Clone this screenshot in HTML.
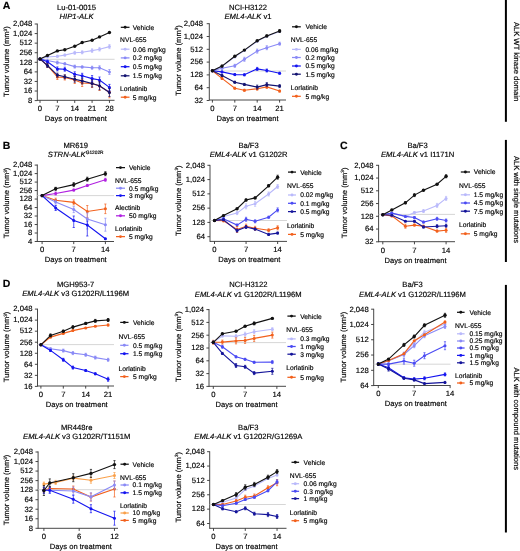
<!DOCTYPE html>
<html><head><meta charset="utf-8"><style>
html,body{margin:0;padding:0;background:#fff;}
body{width:520px;height:551px;overflow:hidden;}
svg{display:block;font-family:"Liberation Sans", sans-serif;will-change:transform;filter:blur(0.3px);}
text{fill:#000;stroke:#000;stroke-width:0.16px;text-rendering:geometricPrecision;}
</style></head><body>
<svg width="520" height="551" viewBox="0 0 520 551">
<line x1="37.30" y1="23.60" x2="37.30" y2="100.80" stroke="#333333" stroke-width="0.9" />
<line x1="34.70" y1="24.00" x2="37.30" y2="24.00" stroke="#333333" stroke-width="0.9" />
<text x="32.30" y="26.30" font-size="7.7" text-anchor="end" >2,048</text>
<line x1="34.70" y1="33.57" x2="37.30" y2="33.57" stroke="#333333" stroke-width="0.9" />
<text x="32.30" y="35.88" font-size="7.7" text-anchor="end" >1,024</text>
<line x1="34.70" y1="43.15" x2="37.30" y2="43.15" stroke="#333333" stroke-width="0.9" />
<text x="32.30" y="45.45" font-size="7.7" text-anchor="end" >512</text>
<line x1="34.70" y1="52.73" x2="37.30" y2="52.73" stroke="#333333" stroke-width="0.9" />
<text x="32.30" y="55.03" font-size="7.7" text-anchor="end" >256</text>
<line x1="34.70" y1="62.30" x2="37.30" y2="62.30" stroke="#333333" stroke-width="0.9" />
<text x="32.30" y="64.60" font-size="7.7" text-anchor="end" >128</text>
<line x1="34.70" y1="71.88" x2="37.30" y2="71.88" stroke="#333333" stroke-width="0.9" />
<text x="32.30" y="74.17" font-size="7.7" text-anchor="end" >64</text>
<line x1="34.70" y1="81.45" x2="37.30" y2="81.45" stroke="#333333" stroke-width="0.9" />
<text x="32.30" y="83.75" font-size="7.7" text-anchor="end" >32</text>
<line x1="34.70" y1="91.03" x2="37.30" y2="91.03" stroke="#333333" stroke-width="0.9" />
<text x="32.30" y="93.33" font-size="7.7" text-anchor="end" >16</text>
<line x1="34.70" y1="100.60" x2="37.30" y2="100.60" stroke="#333333" stroke-width="0.9" />
<text x="32.30" y="102.90" font-size="7.7" text-anchor="end" >8</text>
<line x1="37.30" y1="100.30" x2="114.50" y2="100.30" stroke="#333333" stroke-width="0.9" />
<line x1="40.00" y1="100.30" x2="40.00" y2="102.90" stroke="#333333" stroke-width="0.9" />
<text x="40.00" y="111.10" font-size="7.7" text-anchor="middle" >0</text>
<line x1="57.36" y1="100.30" x2="57.36" y2="102.90" stroke="#333333" stroke-width="0.9" />
<text x="57.36" y="111.10" font-size="7.7" text-anchor="middle" >7</text>
<line x1="74.72" y1="100.30" x2="74.72" y2="102.90" stroke="#333333" stroke-width="0.9" />
<text x="74.72" y="111.10" font-size="7.7" text-anchor="middle" >14</text>
<line x1="92.08" y1="100.30" x2="92.08" y2="102.90" stroke="#333333" stroke-width="0.9" />
<text x="92.08" y="111.10" font-size="7.7" text-anchor="middle" >21</text>
<line x1="109.44" y1="100.30" x2="109.44" y2="102.90" stroke="#333333" stroke-width="0.9" />
<text x="109.44" y="111.10" font-size="7.7" text-anchor="middle" >28</text>
<text x="75.80" y="121.10" font-size="7.6" text-anchor="middle" >Days on treatment</text>
<text transform="translate(9.30,61.60) rotate(-90)" font-size="7.6" text-anchor="middle">Tumor volume (mm<tspan font-size="4.6" dy="-2.8">3</tspan><tspan dy="2.8">)</tspan></text>
<text x="76.50" y="9.90" font-size="7.65" text-anchor="middle" >Lu-01-0015</text>
<text x="76.50" y="18.80" font-size="7.65" text-anchor="middle" ><tspan font-style="italic">HIP1-ALK</tspan></text>
<line x1="40.00" y1="59.30" x2="114.60" y2="59.30" stroke="#cccccc" stroke-width="0.8" />
<line x1="57.36" y1="55.20" x2="57.36" y2="57.20" stroke="#b9b9fb" stroke-width="0.7" />
<line x1="56.26" y1="55.20" x2="58.46" y2="55.20" stroke="#b9b9fb" stroke-width="0.7" />
<line x1="56.26" y1="57.20" x2="58.46" y2="57.20" stroke="#b9b9fb" stroke-width="0.7" />
<line x1="64.80" y1="54.10" x2="64.80" y2="56.10" stroke="#b9b9fb" stroke-width="0.7" />
<line x1="63.70" y1="54.10" x2="65.90" y2="54.10" stroke="#b9b9fb" stroke-width="0.7" />
<line x1="63.70" y1="56.10" x2="65.90" y2="56.10" stroke="#b9b9fb" stroke-width="0.7" />
<line x1="74.72" y1="51.30" x2="74.72" y2="54.30" stroke="#b9b9fb" stroke-width="0.7" />
<line x1="73.62" y1="51.30" x2="75.82" y2="51.30" stroke="#b9b9fb" stroke-width="0.7" />
<line x1="73.62" y1="54.30" x2="75.82" y2="54.30" stroke="#b9b9fb" stroke-width="0.7" />
<line x1="82.16" y1="50.80" x2="82.16" y2="53.80" stroke="#b9b9fb" stroke-width="0.7" />
<line x1="81.06" y1="50.80" x2="83.26" y2="50.80" stroke="#b9b9fb" stroke-width="0.7" />
<line x1="81.06" y1="53.80" x2="83.26" y2="53.80" stroke="#b9b9fb" stroke-width="0.7" />
<line x1="92.08" y1="48.80" x2="92.08" y2="52.40" stroke="#b9b9fb" stroke-width="0.7" />
<line x1="90.98" y1="48.80" x2="93.18" y2="48.80" stroke="#b9b9fb" stroke-width="0.7" />
<line x1="90.98" y1="52.40" x2="93.18" y2="52.40" stroke="#b9b9fb" stroke-width="0.7" />
<line x1="99.52" y1="47.40" x2="99.52" y2="51.00" stroke="#b9b9fb" stroke-width="0.7" />
<line x1="98.42" y1="47.40" x2="100.62" y2="47.40" stroke="#b9b9fb" stroke-width="0.7" />
<line x1="98.42" y1="51.00" x2="100.62" y2="51.00" stroke="#b9b9fb" stroke-width="0.7" />
<line x1="109.44" y1="44.60" x2="109.44" y2="48.60" stroke="#b9b9fb" stroke-width="0.7" />
<line x1="108.34" y1="44.60" x2="110.54" y2="44.60" stroke="#b9b9fb" stroke-width="0.7" />
<line x1="108.34" y1="48.60" x2="110.54" y2="48.60" stroke="#b9b9fb" stroke-width="0.7" />
<polyline points="40.00,58.90 47.44,57.00 57.36,56.20 64.80,55.10 74.72,52.80 82.16,52.30 92.08,50.60 99.52,49.20 109.44,46.60" fill="none" stroke="#b9b9fb" stroke-width="1.1"/>
<circle cx="40.00" cy="58.90" r="1.5" fill="#b9b9fb"/>
<circle cx="47.44" cy="57.00" r="1.5" fill="#b9b9fb"/>
<circle cx="57.36" cy="56.20" r="1.5" fill="#b9b9fb"/>
<circle cx="64.80" cy="55.10" r="1.5" fill="#b9b9fb"/>
<circle cx="74.72" cy="52.80" r="1.5" fill="#b9b9fb"/>
<circle cx="82.16" cy="52.30" r="1.5" fill="#b9b9fb"/>
<circle cx="92.08" cy="50.60" r="1.5" fill="#b9b9fb"/>
<circle cx="99.52" cy="49.20" r="1.5" fill="#b9b9fb"/>
<circle cx="109.44" cy="46.60" r="1.5" fill="#b9b9fb"/>
<line x1="57.36" y1="61.00" x2="57.36" y2="64.00" stroke="#8a8af6" stroke-width="0.7" />
<line x1="56.26" y1="61.00" x2="58.46" y2="61.00" stroke="#8a8af6" stroke-width="0.7" />
<line x1="56.26" y1="64.00" x2="58.46" y2="64.00" stroke="#8a8af6" stroke-width="0.7" />
<line x1="64.80" y1="62.80" x2="64.80" y2="64.80" stroke="#8a8af6" stroke-width="0.7" />
<line x1="63.70" y1="62.80" x2="65.90" y2="62.80" stroke="#8a8af6" stroke-width="0.7" />
<line x1="63.70" y1="64.80" x2="65.90" y2="64.80" stroke="#8a8af6" stroke-width="0.7" />
<line x1="74.72" y1="65.10" x2="74.72" y2="68.10" stroke="#8a8af6" stroke-width="0.7" />
<line x1="73.62" y1="65.10" x2="75.82" y2="65.10" stroke="#8a8af6" stroke-width="0.7" />
<line x1="73.62" y1="68.10" x2="75.82" y2="68.10" stroke="#8a8af6" stroke-width="0.7" />
<line x1="82.16" y1="65.90" x2="82.16" y2="67.90" stroke="#8a8af6" stroke-width="0.7" />
<line x1="81.06" y1="65.90" x2="83.26" y2="65.90" stroke="#8a8af6" stroke-width="0.7" />
<line x1="81.06" y1="67.90" x2="83.26" y2="67.90" stroke="#8a8af6" stroke-width="0.7" />
<line x1="92.08" y1="66.20" x2="92.08" y2="69.20" stroke="#8a8af6" stroke-width="0.7" />
<line x1="90.98" y1="66.20" x2="93.18" y2="66.20" stroke="#8a8af6" stroke-width="0.7" />
<line x1="90.98" y1="69.20" x2="93.18" y2="69.20" stroke="#8a8af6" stroke-width="0.7" />
<line x1="99.52" y1="65.80" x2="99.52" y2="69.80" stroke="#8a8af6" stroke-width="0.7" />
<line x1="98.42" y1="65.80" x2="100.62" y2="65.80" stroke="#8a8af6" stroke-width="0.7" />
<line x1="98.42" y1="69.80" x2="100.62" y2="69.80" stroke="#8a8af6" stroke-width="0.7" />
<line x1="109.44" y1="69.50" x2="109.44" y2="74.50" stroke="#8a8af6" stroke-width="0.7" />
<line x1="108.34" y1="69.50" x2="110.54" y2="69.50" stroke="#8a8af6" stroke-width="0.7" />
<line x1="108.34" y1="74.50" x2="110.54" y2="74.50" stroke="#8a8af6" stroke-width="0.7" />
<polyline points="40.00,58.90 47.44,60.50 57.36,62.50 64.80,63.80 74.72,66.60 82.16,66.90 92.08,67.70 99.52,67.80 109.44,72.00" fill="none" stroke="#8a8af6" stroke-width="1.1"/>
<circle cx="40.00" cy="58.90" r="1.5" fill="#8a8af6"/>
<circle cx="47.44" cy="60.50" r="1.5" fill="#8a8af6"/>
<circle cx="57.36" cy="62.50" r="1.5" fill="#8a8af6"/>
<circle cx="64.80" cy="63.80" r="1.5" fill="#8a8af6"/>
<circle cx="74.72" cy="66.60" r="1.5" fill="#8a8af6"/>
<circle cx="82.16" cy="66.90" r="1.5" fill="#8a8af6"/>
<circle cx="92.08" cy="67.70" r="1.5" fill="#8a8af6"/>
<circle cx="99.52" cy="67.80" r="1.5" fill="#8a8af6"/>
<circle cx="109.44" cy="72.00" r="1.5" fill="#8a8af6"/>
<line x1="47.44" y1="63.50" x2="47.44" y2="67.50" stroke="#f2601c" stroke-width="0.7" />
<line x1="46.34" y1="63.50" x2="48.54" y2="63.50" stroke="#f2601c" stroke-width="0.7" />
<line x1="46.34" y1="67.50" x2="48.54" y2="67.50" stroke="#f2601c" stroke-width="0.7" />
<line x1="57.36" y1="74.50" x2="57.36" y2="79.50" stroke="#f2601c" stroke-width="0.7" />
<line x1="56.26" y1="74.50" x2="58.46" y2="74.50" stroke="#f2601c" stroke-width="0.7" />
<line x1="56.26" y1="79.50" x2="58.46" y2="79.50" stroke="#f2601c" stroke-width="0.7" />
<line x1="64.80" y1="75.00" x2="64.80" y2="80.00" stroke="#f2601c" stroke-width="0.7" />
<line x1="63.70" y1="75.00" x2="65.90" y2="75.00" stroke="#f2601c" stroke-width="0.7" />
<line x1="63.70" y1="80.00" x2="65.90" y2="80.00" stroke="#f2601c" stroke-width="0.7" />
<line x1="74.72" y1="76.50" x2="74.72" y2="83.50" stroke="#f2601c" stroke-width="0.7" />
<line x1="73.62" y1="76.50" x2="75.82" y2="76.50" stroke="#f2601c" stroke-width="0.7" />
<line x1="73.62" y1="83.50" x2="75.82" y2="83.50" stroke="#f2601c" stroke-width="0.7" />
<line x1="82.16" y1="79.50" x2="82.16" y2="86.50" stroke="#f2601c" stroke-width="0.7" />
<line x1="81.06" y1="79.50" x2="83.26" y2="79.50" stroke="#f2601c" stroke-width="0.7" />
<line x1="81.06" y1="86.50" x2="83.26" y2="86.50" stroke="#f2601c" stroke-width="0.7" />
<line x1="92.08" y1="79.50" x2="92.08" y2="87.50" stroke="#f2601c" stroke-width="0.7" />
<line x1="90.98" y1="79.50" x2="93.18" y2="79.50" stroke="#f2601c" stroke-width="0.7" />
<line x1="90.98" y1="87.50" x2="93.18" y2="87.50" stroke="#f2601c" stroke-width="0.7" />
<line x1="99.52" y1="81.50" x2="99.52" y2="90.50" stroke="#f2601c" stroke-width="0.7" />
<line x1="98.42" y1="81.50" x2="100.62" y2="81.50" stroke="#f2601c" stroke-width="0.7" />
<line x1="98.42" y1="90.50" x2="100.62" y2="90.50" stroke="#f2601c" stroke-width="0.7" />
<line x1="109.44" y1="86.80" x2="109.44" y2="97.80" stroke="#f2601c" stroke-width="0.7" />
<line x1="108.34" y1="86.80" x2="110.54" y2="86.80" stroke="#f2601c" stroke-width="0.7" />
<line x1="108.34" y1="97.80" x2="110.54" y2="97.80" stroke="#f2601c" stroke-width="0.7" />
<polyline points="40.00,58.90 47.44,65.50 57.36,77.00 64.80,77.50 74.72,80.00 82.16,83.00 92.08,83.50 99.52,86.00 109.44,92.30" fill="none" stroke="#f2601c" stroke-width="1.1"/>
<circle cx="40.00" cy="58.90" r="1.5" fill="#f2601c"/>
<circle cx="47.44" cy="65.50" r="1.5" fill="#f2601c"/>
<circle cx="57.36" cy="77.00" r="1.5" fill="#f2601c"/>
<circle cx="64.80" cy="77.50" r="1.5" fill="#f2601c"/>
<circle cx="74.72" cy="80.00" r="1.5" fill="#f2601c"/>
<circle cx="82.16" cy="83.00" r="1.5" fill="#f2601c"/>
<circle cx="92.08" cy="83.50" r="1.5" fill="#f2601c"/>
<circle cx="99.52" cy="86.00" r="1.5" fill="#f2601c"/>
<circle cx="109.44" cy="92.30" r="1.5" fill="#f2601c"/>
<line x1="47.44" y1="60.70" x2="47.44" y2="62.70" stroke="#1414f0" stroke-width="0.7" />
<line x1="46.34" y1="60.70" x2="48.54" y2="60.70" stroke="#1414f0" stroke-width="0.7" />
<line x1="46.34" y1="62.70" x2="48.54" y2="62.70" stroke="#1414f0" stroke-width="0.7" />
<line x1="57.36" y1="66.90" x2="57.36" y2="70.90" stroke="#1414f0" stroke-width="0.7" />
<line x1="56.26" y1="66.90" x2="58.46" y2="66.90" stroke="#1414f0" stroke-width="0.7" />
<line x1="56.26" y1="70.90" x2="58.46" y2="70.90" stroke="#1414f0" stroke-width="0.7" />
<line x1="64.80" y1="67.20" x2="64.80" y2="71.20" stroke="#1414f0" stroke-width="0.7" />
<line x1="63.70" y1="67.20" x2="65.90" y2="67.20" stroke="#1414f0" stroke-width="0.7" />
<line x1="63.70" y1="71.20" x2="65.90" y2="71.20" stroke="#1414f0" stroke-width="0.7" />
<line x1="74.72" y1="71.80" x2="74.72" y2="76.80" stroke="#1414f0" stroke-width="0.7" />
<line x1="73.62" y1="71.80" x2="75.82" y2="71.80" stroke="#1414f0" stroke-width="0.7" />
<line x1="73.62" y1="76.80" x2="75.82" y2="76.80" stroke="#1414f0" stroke-width="0.7" />
<line x1="82.16" y1="73.30" x2="82.16" y2="78.30" stroke="#1414f0" stroke-width="0.7" />
<line x1="81.06" y1="73.30" x2="83.26" y2="73.30" stroke="#1414f0" stroke-width="0.7" />
<line x1="81.06" y1="78.30" x2="83.26" y2="78.30" stroke="#1414f0" stroke-width="0.7" />
<line x1="92.08" y1="75.60" x2="92.08" y2="81.60" stroke="#1414f0" stroke-width="0.7" />
<line x1="90.98" y1="75.60" x2="93.18" y2="75.60" stroke="#1414f0" stroke-width="0.7" />
<line x1="90.98" y1="81.60" x2="93.18" y2="81.60" stroke="#1414f0" stroke-width="0.7" />
<line x1="99.52" y1="77.00" x2="99.52" y2="83.00" stroke="#1414f0" stroke-width="0.7" />
<line x1="98.42" y1="77.00" x2="100.62" y2="77.00" stroke="#1414f0" stroke-width="0.7" />
<line x1="98.42" y1="83.00" x2="100.62" y2="83.00" stroke="#1414f0" stroke-width="0.7" />
<line x1="109.44" y1="84.40" x2="109.44" y2="90.40" stroke="#1414f0" stroke-width="0.7" />
<line x1="108.34" y1="84.40" x2="110.54" y2="84.40" stroke="#1414f0" stroke-width="0.7" />
<line x1="108.34" y1="90.40" x2="110.54" y2="90.40" stroke="#1414f0" stroke-width="0.7" />
<polyline points="40.00,58.90 47.44,61.70 57.36,68.90 64.80,69.20 74.72,74.30 82.16,75.80 92.08,78.60 99.52,80.00 109.44,87.40" fill="none" stroke="#1414f0" stroke-width="1.1"/>
<circle cx="40.00" cy="58.90" r="1.5" fill="#1414f0"/>
<circle cx="47.44" cy="61.70" r="1.5" fill="#1414f0"/>
<circle cx="57.36" cy="68.90" r="1.5" fill="#1414f0"/>
<circle cx="64.80" cy="69.20" r="1.5" fill="#1414f0"/>
<circle cx="74.72" cy="74.30" r="1.5" fill="#1414f0"/>
<circle cx="82.16" cy="75.80" r="1.5" fill="#1414f0"/>
<circle cx="92.08" cy="78.60" r="1.5" fill="#1414f0"/>
<circle cx="99.52" cy="80.00" r="1.5" fill="#1414f0"/>
<circle cx="109.44" cy="87.40" r="1.5" fill="#1414f0"/>
<line x1="47.44" y1="63.50" x2="47.44" y2="67.50" stroke="#121270" stroke-width="0.7" />
<line x1="46.34" y1="63.50" x2="48.54" y2="63.50" stroke="#121270" stroke-width="0.7" />
<line x1="46.34" y1="67.50" x2="48.54" y2="67.50" stroke="#121270" stroke-width="0.7" />
<line x1="57.36" y1="73.10" x2="57.36" y2="77.10" stroke="#121270" stroke-width="0.7" />
<line x1="56.26" y1="73.10" x2="58.46" y2="73.10" stroke="#121270" stroke-width="0.7" />
<line x1="56.26" y1="77.10" x2="58.46" y2="77.10" stroke="#121270" stroke-width="0.7" />
<line x1="64.80" y1="74.80" x2="64.80" y2="78.80" stroke="#121270" stroke-width="0.7" />
<line x1="63.70" y1="74.80" x2="65.90" y2="74.80" stroke="#121270" stroke-width="0.7" />
<line x1="63.70" y1="78.80" x2="65.90" y2="78.80" stroke="#121270" stroke-width="0.7" />
<line x1="74.72" y1="76.20" x2="74.72" y2="82.20" stroke="#121270" stroke-width="0.7" />
<line x1="73.62" y1="76.20" x2="75.82" y2="76.20" stroke="#121270" stroke-width="0.7" />
<line x1="73.62" y1="82.20" x2="75.82" y2="82.20" stroke="#121270" stroke-width="0.7" />
<line x1="82.16" y1="77.90" x2="82.16" y2="83.90" stroke="#121270" stroke-width="0.7" />
<line x1="81.06" y1="77.90" x2="83.26" y2="77.90" stroke="#121270" stroke-width="0.7" />
<line x1="81.06" y1="83.90" x2="83.26" y2="83.90" stroke="#121270" stroke-width="0.7" />
<line x1="92.08" y1="80.00" x2="92.08" y2="87.00" stroke="#121270" stroke-width="0.7" />
<line x1="90.98" y1="80.00" x2="93.18" y2="80.00" stroke="#121270" stroke-width="0.7" />
<line x1="90.98" y1="87.00" x2="93.18" y2="87.00" stroke="#121270" stroke-width="0.7" />
<line x1="99.52" y1="81.80" x2="99.52" y2="89.80" stroke="#121270" stroke-width="0.7" />
<line x1="98.42" y1="81.80" x2="100.62" y2="81.80" stroke="#121270" stroke-width="0.7" />
<line x1="98.42" y1="89.80" x2="100.62" y2="89.80" stroke="#121270" stroke-width="0.7" />
<line x1="109.44" y1="88.50" x2="109.44" y2="96.50" stroke="#121270" stroke-width="0.7" />
<line x1="108.34" y1="88.50" x2="110.54" y2="88.50" stroke="#121270" stroke-width="0.7" />
<line x1="108.34" y1="96.50" x2="110.54" y2="96.50" stroke="#121270" stroke-width="0.7" />
<polyline points="40.00,58.90 47.44,65.50 57.36,75.10 64.80,76.80 74.72,79.20 82.16,80.90 92.08,83.50 99.52,85.80 109.44,92.50" fill="none" stroke="#121270" stroke-width="1.1"/>
<circle cx="40.00" cy="58.90" r="1.5" fill="#121270"/>
<circle cx="47.44" cy="65.50" r="1.5" fill="#121270"/>
<circle cx="57.36" cy="75.10" r="1.5" fill="#121270"/>
<circle cx="64.80" cy="76.80" r="1.5" fill="#121270"/>
<circle cx="74.72" cy="79.20" r="1.5" fill="#121270"/>
<circle cx="82.16" cy="80.90" r="1.5" fill="#121270"/>
<circle cx="92.08" cy="83.50" r="1.5" fill="#121270"/>
<circle cx="99.52" cy="85.80" r="1.5" fill="#121270"/>
<circle cx="109.44" cy="92.50" r="1.5" fill="#121270"/>
<polyline points="40.00,58.90 47.44,55.50 57.36,50.90 64.80,49.70 74.72,46.20 82.16,42.50 92.08,40.20 99.52,36.90 109.44,32.50" fill="none" stroke="#111111" stroke-width="1.1"/>
<circle cx="40.00" cy="58.90" r="1.7" fill="#111111"/>
<circle cx="47.44" cy="55.50" r="1.7" fill="#111111"/>
<circle cx="57.36" cy="50.90" r="1.7" fill="#111111"/>
<circle cx="64.80" cy="49.70" r="1.7" fill="#111111"/>
<circle cx="74.72" cy="46.20" r="1.7" fill="#111111"/>
<circle cx="82.16" cy="42.50" r="1.7" fill="#111111"/>
<circle cx="92.08" cy="40.20" r="1.7" fill="#111111"/>
<circle cx="99.52" cy="36.90" r="1.7" fill="#111111"/>
<circle cx="109.44" cy="32.50" r="1.7" fill="#111111"/>
<line x1="120.80" y1="27.30" x2="129.50" y2="27.30" stroke="#111111" stroke-width="1.25" />
<circle cx="125.15" cy="27.30" r="1.45" fill="#111111"/>
<text x="132.70" y="29.71" font-size="6.7" text-anchor="start" >Vehicle</text>
<text x="120.10" y="41.71" font-size="6.7" text-anchor="start" >NVL-655</text>
<line x1="120.80" y1="49.20" x2="129.50" y2="49.20" stroke="#b9b9fb" stroke-width="1.25" />
<circle cx="125.15" cy="49.20" r="1.45" fill="#b9b9fb"/>
<text x="132.70" y="51.61" font-size="6.7" text-anchor="start" >0.06 mg/kg</text>
<line x1="120.80" y1="57.90" x2="129.50" y2="57.90" stroke="#8a8af6" stroke-width="1.25" />
<circle cx="125.15" cy="57.90" r="1.45" fill="#8a8af6"/>
<text x="132.70" y="60.31" font-size="6.7" text-anchor="start" >0.2 mg/kg</text>
<line x1="120.80" y1="66.70" x2="129.50" y2="66.70" stroke="#1414f0" stroke-width="1.25" />
<circle cx="125.15" cy="66.70" r="1.45" fill="#1414f0"/>
<text x="132.70" y="69.11" font-size="6.7" text-anchor="start" >0.5 mg/kg</text>
<line x1="120.80" y1="75.80" x2="129.50" y2="75.80" stroke="#121270" stroke-width="1.25" />
<circle cx="125.15" cy="75.80" r="1.45" fill="#121270"/>
<text x="132.70" y="78.21" font-size="6.7" text-anchor="start" >1.5 mg/kg</text>
<text x="120.10" y="90.81" font-size="6.7" text-anchor="start" >Lorlatinib</text>
<line x1="120.80" y1="97.20" x2="129.50" y2="97.20" stroke="#f2601c" stroke-width="1.25" />
<circle cx="125.15" cy="97.20" r="1.45" fill="#f2601c"/>
<text x="132.70" y="99.61" font-size="6.7" text-anchor="start" >5 mg/kg</text>
<line x1="209.30" y1="23.30" x2="209.30" y2="100.50" stroke="#333333" stroke-width="0.9" />
<line x1="206.70" y1="23.70" x2="209.30" y2="23.70" stroke="#333333" stroke-width="0.9" />
<text x="203.00" y="26.00" font-size="7.7" text-anchor="end" >2,048</text>
<line x1="206.70" y1="36.50" x2="209.30" y2="36.50" stroke="#333333" stroke-width="0.9" />
<text x="203.00" y="38.80" font-size="7.7" text-anchor="end" >1,024</text>
<line x1="206.70" y1="49.30" x2="209.30" y2="49.30" stroke="#333333" stroke-width="0.9" />
<text x="203.00" y="51.60" font-size="7.7" text-anchor="end" >512</text>
<line x1="206.70" y1="62.10" x2="209.30" y2="62.10" stroke="#333333" stroke-width="0.9" />
<text x="203.00" y="64.40" font-size="7.7" text-anchor="end" >256</text>
<line x1="206.70" y1="74.90" x2="209.30" y2="74.90" stroke="#333333" stroke-width="0.9" />
<text x="203.00" y="77.20" font-size="7.7" text-anchor="end" >128</text>
<line x1="206.70" y1="87.70" x2="209.30" y2="87.70" stroke="#333333" stroke-width="0.9" />
<text x="203.00" y="90.00" font-size="7.7" text-anchor="end" >64</text>
<line x1="206.70" y1="100.50" x2="209.30" y2="100.50" stroke="#333333" stroke-width="0.9" />
<text x="203.00" y="102.80" font-size="7.7" text-anchor="end" >32</text>
<line x1="209.30" y1="100.00" x2="286.00" y2="100.00" stroke="#333333" stroke-width="0.9" />
<line x1="212.40" y1="100.00" x2="212.40" y2="102.60" stroke="#333333" stroke-width="0.9" />
<text x="212.40" y="110.80" font-size="7.7" text-anchor="middle" >0</text>
<line x1="234.80" y1="100.00" x2="234.80" y2="102.60" stroke="#333333" stroke-width="0.9" />
<text x="234.80" y="110.80" font-size="7.7" text-anchor="middle" >7</text>
<line x1="257.20" y1="100.00" x2="257.20" y2="102.60" stroke="#333333" stroke-width="0.9" />
<text x="257.20" y="110.80" font-size="7.7" text-anchor="middle" >14</text>
<line x1="279.60" y1="100.00" x2="279.60" y2="102.60" stroke="#333333" stroke-width="0.9" />
<text x="279.60" y="110.80" font-size="7.7" text-anchor="middle" >21</text>
<text x="247.50" y="120.80" font-size="7.6" text-anchor="middle" >Days on treatment</text>
<text transform="translate(180.80,60.50) rotate(-90)" font-size="7.6" text-anchor="middle">Tumor volume (mm<tspan font-size="4.6" dy="-2.8">3</tspan><tspan dy="2.8">)</tspan></text>
<text x="248.00" y="9.90" font-size="7.65" text-anchor="middle" >NCI-H3122</text>
<text x="248.00" y="18.80" font-size="7.65" text-anchor="middle" ><tspan font-style="italic">EML4-ALK</tspan> v1</text>
<line x1="209.40" y1="71.00" x2="286.00" y2="71.00" stroke="#cccccc" stroke-width="0.8" />
<polyline points="212.40,70.70 222.00,66.40 234.80,56.90 244.40,50.60 257.20,41.20 266.80,36.30 279.60,31.40" fill="none" stroke="#b9b9fb" stroke-width="1.1"/>
<circle cx="212.40" cy="70.70" r="1.5" fill="#b9b9fb"/>
<circle cx="222.00" cy="66.40" r="1.5" fill="#b9b9fb"/>
<circle cx="234.80" cy="56.90" r="1.5" fill="#b9b9fb"/>
<circle cx="244.40" cy="50.60" r="1.5" fill="#b9b9fb"/>
<circle cx="257.20" cy="41.20" r="1.5" fill="#b9b9fb"/>
<circle cx="266.80" cy="36.30" r="1.5" fill="#b9b9fb"/>
<circle cx="279.60" cy="31.40" r="1.5" fill="#b9b9fb"/>
<line x1="222.00" y1="67.30" x2="222.00" y2="69.30" stroke="#8a8af6" stroke-width="0.7" />
<line x1="220.90" y1="67.30" x2="223.10" y2="67.30" stroke="#8a8af6" stroke-width="0.7" />
<line x1="220.90" y1="69.30" x2="223.10" y2="69.30" stroke="#8a8af6" stroke-width="0.7" />
<line x1="234.80" y1="64.30" x2="234.80" y2="67.30" stroke="#8a8af6" stroke-width="0.7" />
<line x1="233.70" y1="64.30" x2="235.90" y2="64.30" stroke="#8a8af6" stroke-width="0.7" />
<line x1="233.70" y1="67.30" x2="235.90" y2="67.30" stroke="#8a8af6" stroke-width="0.7" />
<line x1="244.40" y1="57.30" x2="244.40" y2="61.30" stroke="#8a8af6" stroke-width="0.7" />
<line x1="243.30" y1="57.30" x2="245.50" y2="57.30" stroke="#8a8af6" stroke-width="0.7" />
<line x1="243.30" y1="61.30" x2="245.50" y2="61.30" stroke="#8a8af6" stroke-width="0.7" />
<line x1="257.20" y1="49.10" x2="257.20" y2="53.10" stroke="#8a8af6" stroke-width="0.7" />
<line x1="256.10" y1="49.10" x2="258.30" y2="49.10" stroke="#8a8af6" stroke-width="0.7" />
<line x1="256.10" y1="53.10" x2="258.30" y2="53.10" stroke="#8a8af6" stroke-width="0.7" />
<line x1="266.80" y1="45.70" x2="266.80" y2="49.70" stroke="#8a8af6" stroke-width="0.7" />
<line x1="265.70" y1="45.70" x2="267.90" y2="45.70" stroke="#8a8af6" stroke-width="0.7" />
<line x1="265.70" y1="49.70" x2="267.90" y2="49.70" stroke="#8a8af6" stroke-width="0.7" />
<line x1="279.60" y1="42.20" x2="279.60" y2="45.20" stroke="#8a8af6" stroke-width="0.7" />
<line x1="278.50" y1="42.20" x2="280.70" y2="42.20" stroke="#8a8af6" stroke-width="0.7" />
<line x1="278.50" y1="45.20" x2="280.70" y2="45.20" stroke="#8a8af6" stroke-width="0.7" />
<polyline points="212.40,70.70 222.00,68.30 234.80,65.80 244.40,59.30 257.20,51.10 266.80,47.70 279.60,43.70" fill="none" stroke="#8a8af6" stroke-width="1.1"/>
<circle cx="212.40" cy="70.70" r="1.5" fill="#8a8af6"/>
<circle cx="222.00" cy="68.30" r="1.5" fill="#8a8af6"/>
<circle cx="234.80" cy="65.80" r="1.5" fill="#8a8af6"/>
<circle cx="244.40" cy="59.30" r="1.5" fill="#8a8af6"/>
<circle cx="257.20" cy="51.10" r="1.5" fill="#8a8af6"/>
<circle cx="266.80" cy="47.70" r="1.5" fill="#8a8af6"/>
<circle cx="279.60" cy="43.70" r="1.5" fill="#8a8af6"/>
<line x1="222.00" y1="70.90" x2="222.00" y2="72.90" stroke="#1414f0" stroke-width="0.7" />
<line x1="220.90" y1="70.90" x2="223.10" y2="70.90" stroke="#1414f0" stroke-width="0.7" />
<line x1="220.90" y1="72.90" x2="223.10" y2="72.90" stroke="#1414f0" stroke-width="0.7" />
<line x1="234.80" y1="73.60" x2="234.80" y2="75.60" stroke="#1414f0" stroke-width="0.7" />
<line x1="233.70" y1="73.60" x2="235.90" y2="73.60" stroke="#1414f0" stroke-width="0.7" />
<line x1="233.70" y1="75.60" x2="235.90" y2="75.60" stroke="#1414f0" stroke-width="0.7" />
<line x1="244.40" y1="73.80" x2="244.40" y2="75.80" stroke="#1414f0" stroke-width="0.7" />
<line x1="243.30" y1="73.80" x2="245.50" y2="73.80" stroke="#1414f0" stroke-width="0.7" />
<line x1="243.30" y1="75.80" x2="245.50" y2="75.80" stroke="#1414f0" stroke-width="0.7" />
<line x1="257.20" y1="67.40" x2="257.20" y2="70.40" stroke="#1414f0" stroke-width="0.7" />
<line x1="256.10" y1="67.40" x2="258.30" y2="67.40" stroke="#1414f0" stroke-width="0.7" />
<line x1="256.10" y1="70.40" x2="258.30" y2="70.40" stroke="#1414f0" stroke-width="0.7" />
<line x1="266.80" y1="69.00" x2="266.80" y2="72.00" stroke="#1414f0" stroke-width="0.7" />
<line x1="265.70" y1="69.00" x2="267.90" y2="69.00" stroke="#1414f0" stroke-width="0.7" />
<line x1="265.70" y1="72.00" x2="267.90" y2="72.00" stroke="#1414f0" stroke-width="0.7" />
<line x1="279.60" y1="72.20" x2="279.60" y2="74.20" stroke="#1414f0" stroke-width="0.7" />
<line x1="278.50" y1="72.20" x2="280.70" y2="72.20" stroke="#1414f0" stroke-width="0.7" />
<line x1="278.50" y1="74.20" x2="280.70" y2="74.20" stroke="#1414f0" stroke-width="0.7" />
<polyline points="212.40,70.70 222.00,71.90 234.80,74.60 244.40,74.80 257.20,68.90 266.80,70.50 279.60,73.20" fill="none" stroke="#1414f0" stroke-width="1.1"/>
<circle cx="212.40" cy="70.70" r="1.5" fill="#1414f0"/>
<circle cx="222.00" cy="71.90" r="1.5" fill="#1414f0"/>
<circle cx="234.80" cy="74.60" r="1.5" fill="#1414f0"/>
<circle cx="244.40" cy="74.80" r="1.5" fill="#1414f0"/>
<circle cx="257.20" cy="68.90" r="1.5" fill="#1414f0"/>
<circle cx="266.80" cy="70.50" r="1.5" fill="#1414f0"/>
<circle cx="279.60" cy="73.20" r="1.5" fill="#1414f0"/>
<line x1="222.00" y1="77.40" x2="222.00" y2="79.40" stroke="#f2601c" stroke-width="0.7" />
<line x1="220.90" y1="77.40" x2="223.10" y2="77.40" stroke="#f2601c" stroke-width="0.7" />
<line x1="220.90" y1="79.40" x2="223.10" y2="79.40" stroke="#f2601c" stroke-width="0.7" />
<line x1="234.80" y1="87.20" x2="234.80" y2="89.20" stroke="#f2601c" stroke-width="0.7" />
<line x1="233.70" y1="87.20" x2="235.90" y2="87.20" stroke="#f2601c" stroke-width="0.7" />
<line x1="233.70" y1="89.20" x2="235.90" y2="89.20" stroke="#f2601c" stroke-width="0.7" />
<line x1="244.40" y1="89.30" x2="244.40" y2="91.30" stroke="#f2601c" stroke-width="0.7" />
<line x1="243.30" y1="89.30" x2="245.50" y2="89.30" stroke="#f2601c" stroke-width="0.7" />
<line x1="243.30" y1="91.30" x2="245.50" y2="91.30" stroke="#f2601c" stroke-width="0.7" />
<line x1="257.20" y1="87.20" x2="257.20" y2="90.20" stroke="#f2601c" stroke-width="0.7" />
<line x1="256.10" y1="87.20" x2="258.30" y2="87.20" stroke="#f2601c" stroke-width="0.7" />
<line x1="256.10" y1="90.20" x2="258.30" y2="90.20" stroke="#f2601c" stroke-width="0.7" />
<line x1="266.80" y1="85.40" x2="266.80" y2="88.40" stroke="#f2601c" stroke-width="0.7" />
<line x1="265.70" y1="85.40" x2="267.90" y2="85.40" stroke="#f2601c" stroke-width="0.7" />
<line x1="265.70" y1="88.40" x2="267.90" y2="88.40" stroke="#f2601c" stroke-width="0.7" />
<line x1="279.60" y1="90.10" x2="279.60" y2="92.10" stroke="#f2601c" stroke-width="0.7" />
<line x1="278.50" y1="90.10" x2="280.70" y2="90.10" stroke="#f2601c" stroke-width="0.7" />
<line x1="278.50" y1="92.10" x2="280.70" y2="92.10" stroke="#f2601c" stroke-width="0.7" />
<polyline points="212.40,70.70 222.00,78.40 234.80,88.20 244.40,90.30 257.20,88.70 266.80,86.90 279.60,91.10" fill="none" stroke="#f2601c" stroke-width="1.1"/>
<circle cx="212.40" cy="70.70" r="1.5" fill="#f2601c"/>
<circle cx="222.00" cy="78.40" r="1.5" fill="#f2601c"/>
<circle cx="234.80" cy="88.20" r="1.5" fill="#f2601c"/>
<circle cx="244.40" cy="90.30" r="1.5" fill="#f2601c"/>
<circle cx="257.20" cy="88.70" r="1.5" fill="#f2601c"/>
<circle cx="266.80" cy="86.90" r="1.5" fill="#f2601c"/>
<circle cx="279.60" cy="91.10" r="1.5" fill="#f2601c"/>
<line x1="222.00" y1="74.60" x2="222.00" y2="76.60" stroke="#121270" stroke-width="0.7" />
<line x1="220.90" y1="74.60" x2="223.10" y2="74.60" stroke="#121270" stroke-width="0.7" />
<line x1="220.90" y1="76.60" x2="223.10" y2="76.60" stroke="#121270" stroke-width="0.7" />
<line x1="234.80" y1="81.20" x2="234.80" y2="83.20" stroke="#121270" stroke-width="0.7" />
<line x1="233.70" y1="81.20" x2="235.90" y2="81.20" stroke="#121270" stroke-width="0.7" />
<line x1="233.70" y1="83.20" x2="235.90" y2="83.20" stroke="#121270" stroke-width="0.7" />
<line x1="244.40" y1="83.40" x2="244.40" y2="85.40" stroke="#121270" stroke-width="0.7" />
<line x1="243.30" y1="83.40" x2="245.50" y2="83.40" stroke="#121270" stroke-width="0.7" />
<line x1="243.30" y1="85.40" x2="245.50" y2="85.40" stroke="#121270" stroke-width="0.7" />
<line x1="257.20" y1="85.10" x2="257.20" y2="89.10" stroke="#121270" stroke-width="0.7" />
<line x1="256.10" y1="85.10" x2="258.30" y2="85.10" stroke="#121270" stroke-width="0.7" />
<line x1="256.10" y1="89.10" x2="258.30" y2="89.10" stroke="#121270" stroke-width="0.7" />
<line x1="266.80" y1="82.60" x2="266.80" y2="86.60" stroke="#121270" stroke-width="0.7" />
<line x1="265.70" y1="82.60" x2="267.90" y2="82.60" stroke="#121270" stroke-width="0.7" />
<line x1="265.70" y1="86.60" x2="267.90" y2="86.60" stroke="#121270" stroke-width="0.7" />
<line x1="279.60" y1="84.60" x2="279.60" y2="87.60" stroke="#121270" stroke-width="0.7" />
<line x1="278.50" y1="84.60" x2="280.70" y2="84.60" stroke="#121270" stroke-width="0.7" />
<line x1="278.50" y1="87.60" x2="280.70" y2="87.60" stroke="#121270" stroke-width="0.7" />
<polyline points="212.40,70.70 222.00,75.60 234.80,82.20 244.40,84.40 257.20,87.10 266.80,84.60 279.60,86.10" fill="none" stroke="#121270" stroke-width="1.1"/>
<circle cx="212.40" cy="70.70" r="1.5" fill="#121270"/>
<circle cx="222.00" cy="75.60" r="1.5" fill="#121270"/>
<circle cx="234.80" cy="82.20" r="1.5" fill="#121270"/>
<circle cx="244.40" cy="84.40" r="1.5" fill="#121270"/>
<circle cx="257.20" cy="87.10" r="1.5" fill="#121270"/>
<circle cx="266.80" cy="84.60" r="1.5" fill="#121270"/>
<circle cx="279.60" cy="86.10" r="1.5" fill="#121270"/>
<line x1="222.00" y1="65.10" x2="222.00" y2="67.10" stroke="#111111" stroke-width="0.7" />
<line x1="220.90" y1="65.10" x2="223.10" y2="65.10" stroke="#111111" stroke-width="0.7" />
<line x1="220.90" y1="67.10" x2="223.10" y2="67.10" stroke="#111111" stroke-width="0.7" />
<line x1="266.80" y1="34.90" x2="266.80" y2="36.90" stroke="#111111" stroke-width="0.7" />
<line x1="265.70" y1="34.90" x2="267.90" y2="34.90" stroke="#111111" stroke-width="0.7" />
<line x1="265.70" y1="36.90" x2="267.90" y2="36.90" stroke="#111111" stroke-width="0.7" />
<line x1="279.60" y1="29.50" x2="279.60" y2="32.50" stroke="#111111" stroke-width="0.7" />
<line x1="278.50" y1="29.50" x2="280.70" y2="29.50" stroke="#111111" stroke-width="0.7" />
<line x1="278.50" y1="32.50" x2="280.70" y2="32.50" stroke="#111111" stroke-width="0.7" />
<polyline points="212.40,70.70 222.00,66.10 234.80,56.30 244.40,50.10 257.20,40.80 266.80,35.90 279.60,31.00" fill="none" stroke="#111111" stroke-width="1.1"/>
<circle cx="212.40" cy="70.70" r="1.7" fill="#111111"/>
<circle cx="222.00" cy="66.10" r="1.7" fill="#111111"/>
<circle cx="234.80" cy="56.30" r="1.7" fill="#111111"/>
<circle cx="244.40" cy="50.10" r="1.7" fill="#111111"/>
<circle cx="257.20" cy="40.80" r="1.7" fill="#111111"/>
<circle cx="266.80" cy="35.90" r="1.7" fill="#111111"/>
<circle cx="279.60" cy="31.00" r="1.7" fill="#111111"/>
<line x1="292.00" y1="26.80" x2="300.80" y2="26.80" stroke="#111111" stroke-width="1.25" />
<circle cx="296.40" cy="26.80" r="1.45" fill="#111111"/>
<text x="305.40" y="29.21" font-size="6.7" text-anchor="start" >Vehicle</text>
<text x="290.80" y="41.81" font-size="6.7" text-anchor="start" >NVL-655</text>
<line x1="292.00" y1="49.40" x2="300.80" y2="49.40" stroke="#b9b9fb" stroke-width="1.25" />
<circle cx="296.40" cy="49.40" r="1.45" fill="#b9b9fb"/>
<text x="305.40" y="51.81" font-size="6.7" text-anchor="start" >0.06 mg/kg</text>
<line x1="292.00" y1="57.50" x2="300.80" y2="57.50" stroke="#8a8af6" stroke-width="1.25" />
<circle cx="296.40" cy="57.50" r="1.45" fill="#8a8af6"/>
<text x="305.40" y="59.91" font-size="6.7" text-anchor="start" >0.2 mg/kg</text>
<line x1="292.00" y1="66.00" x2="300.80" y2="66.00" stroke="#1414f0" stroke-width="1.25" />
<circle cx="296.40" cy="66.00" r="1.45" fill="#1414f0"/>
<text x="305.40" y="68.41" font-size="6.7" text-anchor="start" >0.5 mg/kg</text>
<line x1="292.00" y1="74.20" x2="300.80" y2="74.20" stroke="#121270" stroke-width="1.25" />
<circle cx="296.40" cy="74.20" r="1.45" fill="#121270"/>
<text x="305.40" y="76.61" font-size="6.7" text-anchor="start" >1.5 mg/kg</text>
<text x="290.80" y="90.41" font-size="6.7" text-anchor="start" >Lorlatinib</text>
<line x1="292.00" y1="96.30" x2="300.80" y2="96.30" stroke="#f2601c" stroke-width="1.25" />
<circle cx="296.40" cy="96.30" r="1.45" fill="#f2601c"/>
<text x="305.40" y="98.71" font-size="6.7" text-anchor="start" >5 mg/kg</text>
<line x1="37.30" y1="164.50" x2="37.30" y2="242.00" stroke="#333333" stroke-width="0.9" />
<line x1="34.70" y1="165.10" x2="37.30" y2="165.10" stroke="#333333" stroke-width="0.9" />
<text x="32.30" y="167.40" font-size="7.7" text-anchor="end" >2,048</text>
<line x1="34.70" y1="173.59" x2="37.30" y2="173.59" stroke="#333333" stroke-width="0.9" />
<text x="32.30" y="175.89" font-size="7.7" text-anchor="end" >1,024</text>
<line x1="34.70" y1="182.08" x2="37.30" y2="182.08" stroke="#333333" stroke-width="0.9" />
<text x="32.30" y="184.38" font-size="7.7" text-anchor="end" >512</text>
<line x1="34.70" y1="190.57" x2="37.30" y2="190.57" stroke="#333333" stroke-width="0.9" />
<text x="32.30" y="192.87" font-size="7.7" text-anchor="end" >256</text>
<line x1="34.70" y1="199.06" x2="37.30" y2="199.06" stroke="#333333" stroke-width="0.9" />
<text x="32.30" y="201.36" font-size="7.7" text-anchor="end" >128</text>
<line x1="34.70" y1="207.54" x2="37.30" y2="207.54" stroke="#333333" stroke-width="0.9" />
<text x="32.30" y="209.84" font-size="7.7" text-anchor="end" >64</text>
<line x1="34.70" y1="216.03" x2="37.30" y2="216.03" stroke="#333333" stroke-width="0.9" />
<text x="32.30" y="218.33" font-size="7.7" text-anchor="end" >32</text>
<line x1="34.70" y1="224.52" x2="37.30" y2="224.52" stroke="#333333" stroke-width="0.9" />
<text x="32.30" y="226.82" font-size="7.7" text-anchor="end" >16</text>
<line x1="34.70" y1="233.01" x2="37.30" y2="233.01" stroke="#333333" stroke-width="0.9" />
<text x="32.30" y="235.31" font-size="7.7" text-anchor="end" >8</text>
<line x1="34.70" y1="241.50" x2="37.30" y2="241.50" stroke="#333333" stroke-width="0.9" />
<text x="32.30" y="243.80" font-size="7.7" text-anchor="end" >4</text>
<line x1="37.30" y1="241.50" x2="114.00" y2="241.50" stroke="#333333" stroke-width="0.9" />
<line x1="42.10" y1="241.50" x2="42.10" y2="244.10" stroke="#333333" stroke-width="0.9" />
<text x="42.10" y="252.30" font-size="7.7" text-anchor="middle" >0</text>
<line x1="73.74" y1="241.50" x2="73.74" y2="244.10" stroke="#333333" stroke-width="0.9" />
<text x="73.74" y="252.30" font-size="7.7" text-anchor="middle" >7</text>
<line x1="105.38" y1="241.50" x2="105.38" y2="244.10" stroke="#333333" stroke-width="0.9" />
<text x="105.38" y="252.30" font-size="7.7" text-anchor="middle" >14</text>
<text x="75.70" y="262.30" font-size="7.6" text-anchor="middle" >Days on treatment</text>
<text transform="translate(9.30,203.00) rotate(-90)" font-size="7.6" text-anchor="middle">Tumor volume (mm<tspan font-size="4.6" dy="-2.8">3</tspan><tspan dy="2.8">)</tspan></text>
<text x="75.70" y="147.90" font-size="7.65" text-anchor="middle" >MR619</text>
<text x="75.70" y="156.90" font-size="7.65" text-anchor="middle" ><tspan font-style="italic">STRN-ALK</tspan><tspan font-size="4.8" dy="-2.8">G1202R</tspan></text>
<line x1="37.30" y1="195.60" x2="114.00" y2="195.60" stroke="#cccccc" stroke-width="0.8" />
<line x1="42.10" y1="194.60" x2="42.10" y2="196.60" stroke="#b020e0" stroke-width="0.7" />
<line x1="41.00" y1="194.60" x2="43.20" y2="194.60" stroke="#b020e0" stroke-width="0.7" />
<line x1="41.00" y1="196.60" x2="43.20" y2="196.60" stroke="#b020e0" stroke-width="0.7" />
<line x1="55.66" y1="192.00" x2="55.66" y2="195.00" stroke="#b020e0" stroke-width="0.7" />
<line x1="54.56" y1="192.00" x2="56.76" y2="192.00" stroke="#b020e0" stroke-width="0.7" />
<line x1="54.56" y1="195.00" x2="56.76" y2="195.00" stroke="#b020e0" stroke-width="0.7" />
<line x1="73.74" y1="189.10" x2="73.74" y2="191.10" stroke="#b020e0" stroke-width="0.7" />
<line x1="72.64" y1="189.10" x2="74.84" y2="189.10" stroke="#b020e0" stroke-width="0.7" />
<line x1="72.64" y1="191.10" x2="74.84" y2="191.10" stroke="#b020e0" stroke-width="0.7" />
<line x1="87.30" y1="184.40" x2="87.30" y2="186.40" stroke="#b020e0" stroke-width="0.7" />
<line x1="86.20" y1="184.40" x2="88.40" y2="184.40" stroke="#b020e0" stroke-width="0.7" />
<line x1="86.20" y1="186.40" x2="88.40" y2="186.40" stroke="#b020e0" stroke-width="0.7" />
<line x1="105.38" y1="178.30" x2="105.38" y2="181.30" stroke="#b020e0" stroke-width="0.7" />
<line x1="104.28" y1="178.30" x2="106.48" y2="178.30" stroke="#b020e0" stroke-width="0.7" />
<line x1="104.28" y1="181.30" x2="106.48" y2="181.30" stroke="#b020e0" stroke-width="0.7" />
<polyline points="42.10,195.60 55.66,193.50 73.74,190.10 87.30,185.40 105.38,179.80" fill="none" stroke="#b020e0" stroke-width="1.1"/>
<circle cx="42.10" cy="195.60" r="1.5" fill="#b020e0"/>
<circle cx="55.66" cy="193.50" r="1.5" fill="#b020e0"/>
<circle cx="73.74" cy="190.10" r="1.5" fill="#b020e0"/>
<circle cx="87.30" cy="185.40" r="1.5" fill="#b020e0"/>
<circle cx="105.38" cy="179.80" r="1.5" fill="#b020e0"/>
<line x1="42.10" y1="194.60" x2="42.10" y2="196.60" stroke="#f2601c" stroke-width="0.7" />
<line x1="41.00" y1="194.60" x2="43.20" y2="194.60" stroke="#f2601c" stroke-width="0.7" />
<line x1="41.00" y1="196.60" x2="43.20" y2="196.60" stroke="#f2601c" stroke-width="0.7" />
<line x1="55.66" y1="198.20" x2="55.66" y2="202.20" stroke="#f2601c" stroke-width="0.7" />
<line x1="54.56" y1="198.20" x2="56.76" y2="198.20" stroke="#f2601c" stroke-width="0.7" />
<line x1="54.56" y1="202.20" x2="56.76" y2="202.20" stroke="#f2601c" stroke-width="0.7" />
<line x1="73.74" y1="199.90" x2="73.74" y2="204.90" stroke="#f2601c" stroke-width="0.7" />
<line x1="72.64" y1="199.90" x2="74.84" y2="199.90" stroke="#f2601c" stroke-width="0.7" />
<line x1="72.64" y1="204.90" x2="74.84" y2="204.90" stroke="#f2601c" stroke-width="0.7" />
<line x1="87.30" y1="205.50" x2="87.30" y2="217.50" stroke="#f2601c" stroke-width="0.7" />
<line x1="86.20" y1="205.50" x2="88.40" y2="205.50" stroke="#f2601c" stroke-width="0.7" />
<line x1="86.20" y1="217.50" x2="88.40" y2="217.50" stroke="#f2601c" stroke-width="0.7" />
<line x1="105.38" y1="204.00" x2="105.38" y2="213.60" stroke="#f2601c" stroke-width="0.7" />
<line x1="104.28" y1="204.00" x2="106.48" y2="204.00" stroke="#f2601c" stroke-width="0.7" />
<line x1="104.28" y1="213.60" x2="106.48" y2="213.60" stroke="#f2601c" stroke-width="0.7" />
<polyline points="42.10,195.60 55.66,200.20 73.74,202.40 87.30,211.50 105.38,208.80" fill="none" stroke="#f2601c" stroke-width="1.1"/>
<circle cx="42.10" cy="195.60" r="1.5" fill="#f2601c"/>
<circle cx="55.66" cy="200.20" r="1.5" fill="#f2601c"/>
<circle cx="73.74" cy="202.40" r="1.5" fill="#f2601c"/>
<circle cx="87.30" cy="211.50" r="1.5" fill="#f2601c"/>
<circle cx="105.38" cy="208.80" r="1.5" fill="#f2601c"/>
<line x1="42.10" y1="194.60" x2="42.10" y2="196.60" stroke="#8a8af6" stroke-width="0.7" />
<line x1="41.00" y1="194.60" x2="43.20" y2="194.60" stroke="#8a8af6" stroke-width="0.7" />
<line x1="41.00" y1="196.60" x2="43.20" y2="196.60" stroke="#8a8af6" stroke-width="0.7" />
<line x1="55.66" y1="200.10" x2="55.66" y2="204.10" stroke="#8a8af6" stroke-width="0.7" />
<line x1="54.56" y1="200.10" x2="56.76" y2="200.10" stroke="#8a8af6" stroke-width="0.7" />
<line x1="54.56" y1="204.10" x2="56.76" y2="204.10" stroke="#8a8af6" stroke-width="0.7" />
<line x1="73.74" y1="206.60" x2="73.74" y2="212.60" stroke="#8a8af6" stroke-width="0.7" />
<line x1="72.64" y1="206.60" x2="74.84" y2="206.60" stroke="#8a8af6" stroke-width="0.7" />
<line x1="72.64" y1="212.60" x2="74.84" y2="212.60" stroke="#8a8af6" stroke-width="0.7" />
<line x1="87.30" y1="213.00" x2="87.30" y2="229.00" stroke="#8a8af6" stroke-width="0.7" />
<line x1="86.20" y1="213.00" x2="88.40" y2="213.00" stroke="#8a8af6" stroke-width="0.7" />
<line x1="86.20" y1="229.00" x2="88.40" y2="229.00" stroke="#8a8af6" stroke-width="0.7" />
<line x1="105.38" y1="218.20" x2="105.38" y2="231.20" stroke="#8a8af6" stroke-width="0.7" />
<line x1="104.28" y1="218.20" x2="106.48" y2="218.20" stroke="#8a8af6" stroke-width="0.7" />
<line x1="104.28" y1="231.20" x2="106.48" y2="231.20" stroke="#8a8af6" stroke-width="0.7" />
<polyline points="42.10,195.60 55.66,202.10 73.74,209.60 87.30,219.00 105.38,224.70" fill="none" stroke="#8a8af6" stroke-width="1.1"/>
<circle cx="42.10" cy="195.60" r="1.5" fill="#8a8af6"/>
<circle cx="55.66" cy="202.10" r="1.5" fill="#8a8af6"/>
<circle cx="73.74" cy="209.60" r="1.5" fill="#8a8af6"/>
<circle cx="87.30" cy="219.00" r="1.5" fill="#8a8af6"/>
<circle cx="105.38" cy="224.70" r="1.5" fill="#8a8af6"/>
<line x1="42.10" y1="194.60" x2="42.10" y2="196.60" stroke="#1414f0" stroke-width="0.7" />
<line x1="41.00" y1="194.60" x2="43.20" y2="194.60" stroke="#1414f0" stroke-width="0.7" />
<line x1="41.00" y1="196.60" x2="43.20" y2="196.60" stroke="#1414f0" stroke-width="0.7" />
<line x1="55.66" y1="205.50" x2="55.66" y2="210.50" stroke="#1414f0" stroke-width="0.7" />
<line x1="54.56" y1="205.50" x2="56.76" y2="205.50" stroke="#1414f0" stroke-width="0.7" />
<line x1="54.56" y1="210.50" x2="56.76" y2="210.50" stroke="#1414f0" stroke-width="0.7" />
<line x1="73.74" y1="216.00" x2="73.74" y2="227.50" stroke="#1414f0" stroke-width="0.7" />
<line x1="72.64" y1="216.00" x2="74.84" y2="216.00" stroke="#1414f0" stroke-width="0.7" />
<line x1="72.64" y1="227.50" x2="74.84" y2="227.50" stroke="#1414f0" stroke-width="0.7" />
<line x1="87.30" y1="221.00" x2="87.30" y2="236.00" stroke="#1414f0" stroke-width="0.7" />
<line x1="86.20" y1="221.00" x2="88.40" y2="221.00" stroke="#1414f0" stroke-width="0.7" />
<line x1="86.20" y1="236.00" x2="88.40" y2="236.00" stroke="#1414f0" stroke-width="0.7" />
<line x1="105.38" y1="238.30" x2="105.38" y2="239.30" stroke="#1414f0" stroke-width="0.7" />
<line x1="104.28" y1="238.30" x2="106.48" y2="238.30" stroke="#1414f0" stroke-width="0.7" />
<line x1="104.28" y1="239.30" x2="106.48" y2="239.30" stroke="#1414f0" stroke-width="0.7" />
<polyline points="42.10,195.60 55.66,208.00 73.74,220.50 87.30,225.00 105.38,238.80" fill="none" stroke="#1414f0" stroke-width="1.1"/>
<circle cx="42.10" cy="195.60" r="1.5" fill="#1414f0"/>
<circle cx="55.66" cy="208.00" r="1.5" fill="#1414f0"/>
<circle cx="73.74" cy="220.50" r="1.5" fill="#1414f0"/>
<circle cx="87.30" cy="225.00" r="1.5" fill="#1414f0"/>
<circle cx="105.38" cy="238.80" r="1.5" fill="#1414f0"/>
<line x1="42.10" y1="194.60" x2="42.10" y2="196.60" stroke="#111111" stroke-width="0.7" />
<line x1="41.00" y1="194.60" x2="43.20" y2="194.60" stroke="#111111" stroke-width="0.7" />
<line x1="41.00" y1="196.60" x2="43.20" y2="196.60" stroke="#111111" stroke-width="0.7" />
<line x1="55.66" y1="187.30" x2="55.66" y2="190.30" stroke="#111111" stroke-width="0.7" />
<line x1="54.56" y1="187.30" x2="56.76" y2="187.30" stroke="#111111" stroke-width="0.7" />
<line x1="54.56" y1="190.30" x2="56.76" y2="190.30" stroke="#111111" stroke-width="0.7" />
<line x1="73.74" y1="182.60" x2="73.74" y2="186.60" stroke="#111111" stroke-width="0.7" />
<line x1="72.64" y1="182.60" x2="74.84" y2="182.60" stroke="#111111" stroke-width="0.7" />
<line x1="72.64" y1="186.60" x2="74.84" y2="186.60" stroke="#111111" stroke-width="0.7" />
<line x1="87.30" y1="177.20" x2="87.30" y2="181.20" stroke="#111111" stroke-width="0.7" />
<line x1="86.20" y1="177.20" x2="88.40" y2="177.20" stroke="#111111" stroke-width="0.7" />
<line x1="86.20" y1="181.20" x2="88.40" y2="181.20" stroke="#111111" stroke-width="0.7" />
<line x1="105.38" y1="171.70" x2="105.38" y2="175.70" stroke="#111111" stroke-width="0.7" />
<line x1="104.28" y1="171.70" x2="106.48" y2="171.70" stroke="#111111" stroke-width="0.7" />
<line x1="104.28" y1="175.70" x2="106.48" y2="175.70" stroke="#111111" stroke-width="0.7" />
<polyline points="42.10,195.60 55.66,188.80 73.74,184.60 87.30,179.20 105.38,173.70" fill="none" stroke="#111111" stroke-width="1.1"/>
<circle cx="42.10" cy="195.60" r="1.7" fill="#111111"/>
<circle cx="55.66" cy="188.80" r="1.7" fill="#111111"/>
<circle cx="73.74" cy="184.60" r="1.7" fill="#111111"/>
<circle cx="87.30" cy="179.20" r="1.7" fill="#111111"/>
<circle cx="105.38" cy="173.70" r="1.7" fill="#111111"/>
<line x1="116.00" y1="167.60" x2="125.00" y2="167.60" stroke="#111111" stroke-width="1.25" />
<circle cx="120.50" cy="167.60" r="1.45" fill="#111111"/>
<text x="129.00" y="170.01" font-size="6.7" text-anchor="start" >Vehicle</text>
<text x="115.00" y="182.81" font-size="6.7" text-anchor="start" >NVL-655</text>
<line x1="116.00" y1="188.20" x2="125.00" y2="188.20" stroke="#8a8af6" stroke-width="1.25" />
<circle cx="120.50" cy="188.20" r="1.45" fill="#8a8af6"/>
<text x="129.00" y="190.61" font-size="6.7" text-anchor="start" >0.5 mg/kg</text>
<line x1="116.00" y1="195.60" x2="125.00" y2="195.60" stroke="#1414f0" stroke-width="1.25" />
<circle cx="120.50" cy="195.60" r="1.45" fill="#1414f0"/>
<text x="129.00" y="198.01" font-size="6.7" text-anchor="start" >3 mg/kg</text>
<text x="115.00" y="209.81" font-size="6.7" text-anchor="start" >Alectinib</text>
<line x1="116.00" y1="215.80" x2="125.00" y2="215.80" stroke="#b020e0" stroke-width="1.25" />
<circle cx="120.50" cy="215.80" r="1.45" fill="#b020e0"/>
<text x="129.00" y="218.21" font-size="6.7" text-anchor="start" >50 mg/kg</text>
<text x="115.00" y="230.61" font-size="6.7" text-anchor="start" >Lorlatinib</text>
<line x1="116.00" y1="236.60" x2="125.00" y2="236.60" stroke="#f2601c" stroke-width="1.25" />
<circle cx="120.50" cy="236.60" r="1.45" fill="#f2601c"/>
<text x="129.00" y="239.01" font-size="6.7" text-anchor="start" >5 mg/kg</text>
<line x1="210.00" y1="164.90" x2="210.00" y2="241.90" stroke="#333333" stroke-width="0.9" />
<line x1="207.40" y1="165.30" x2="210.00" y2="165.30" stroke="#333333" stroke-width="0.9" />
<text x="205.00" y="167.60" font-size="7.7" text-anchor="end" >2,048</text>
<line x1="207.40" y1="179.58" x2="210.00" y2="179.58" stroke="#333333" stroke-width="0.9" />
<text x="205.00" y="181.88" font-size="7.7" text-anchor="end" >1,024</text>
<line x1="207.40" y1="193.86" x2="210.00" y2="193.86" stroke="#333333" stroke-width="0.9" />
<text x="205.00" y="196.16" font-size="7.7" text-anchor="end" >512</text>
<line x1="207.40" y1="208.14" x2="210.00" y2="208.14" stroke="#333333" stroke-width="0.9" />
<text x="205.00" y="210.44" font-size="7.7" text-anchor="end" >256</text>
<line x1="207.40" y1="222.42" x2="210.00" y2="222.42" stroke="#333333" stroke-width="0.9" />
<text x="205.00" y="224.72" font-size="7.7" text-anchor="end" >128</text>
<line x1="207.40" y1="236.70" x2="210.00" y2="236.70" stroke="#333333" stroke-width="0.9" />
<text x="205.00" y="239.00" font-size="7.7" text-anchor="end" >64</text>
<line x1="210.00" y1="241.40" x2="287.00" y2="241.40" stroke="#333333" stroke-width="0.9" />
<line x1="214.50" y1="241.40" x2="214.50" y2="244.00" stroke="#333333" stroke-width="0.9" />
<text x="214.50" y="252.20" font-size="7.7" text-anchor="middle" >0</text>
<line x1="246.07" y1="241.40" x2="246.07" y2="244.00" stroke="#333333" stroke-width="0.9" />
<text x="246.07" y="252.20" font-size="7.7" text-anchor="middle" >7</text>
<line x1="277.64" y1="241.40" x2="277.64" y2="244.00" stroke="#333333" stroke-width="0.9" />
<text x="277.64" y="252.20" font-size="7.7" text-anchor="middle" >14</text>
<text x="249.30" y="262.20" font-size="7.6" text-anchor="middle" >Days on treatment</text>
<text transform="translate(180.80,200.80) rotate(-90)" font-size="7.6" text-anchor="middle">Tumor volume (mm<tspan font-size="4.6" dy="-2.8">3</tspan><tspan dy="2.8">)</tspan></text>
<text x="248.60" y="147.90" font-size="7.65" text-anchor="middle" >Ba/F3</text>
<text x="248.60" y="156.90" font-size="7.65" text-anchor="middle" ><tspan font-style="italic">EML4-ALK</tspan> v1 G1202R</text>
<line x1="210.00" y1="220.50" x2="287.00" y2="220.50" stroke="#cccccc" stroke-width="0.8" />
<line x1="223.52" y1="215.40" x2="223.52" y2="217.40" stroke="#b9b9fb" stroke-width="0.7" />
<line x1="222.42" y1="215.40" x2="224.62" y2="215.40" stroke="#b9b9fb" stroke-width="0.7" />
<line x1="222.42" y1="217.40" x2="224.62" y2="217.40" stroke="#b9b9fb" stroke-width="0.7" />
<line x1="237.05" y1="211.60" x2="237.05" y2="214.60" stroke="#b9b9fb" stroke-width="0.7" />
<line x1="235.95" y1="211.60" x2="238.15" y2="211.60" stroke="#b9b9fb" stroke-width="0.7" />
<line x1="235.95" y1="214.60" x2="238.15" y2="214.60" stroke="#b9b9fb" stroke-width="0.7" />
<line x1="246.07" y1="203.80" x2="246.07" y2="208.80" stroke="#b9b9fb" stroke-width="0.7" />
<line x1="244.97" y1="203.80" x2="247.17" y2="203.80" stroke="#b9b9fb" stroke-width="0.7" />
<line x1="244.97" y1="208.80" x2="247.17" y2="208.80" stroke="#b9b9fb" stroke-width="0.7" />
<line x1="255.09" y1="201.30" x2="255.09" y2="206.30" stroke="#b9b9fb" stroke-width="0.7" />
<line x1="253.99" y1="201.30" x2="256.19" y2="201.30" stroke="#b9b9fb" stroke-width="0.7" />
<line x1="253.99" y1="206.30" x2="256.19" y2="206.30" stroke="#b9b9fb" stroke-width="0.7" />
<line x1="268.62" y1="192.00" x2="268.62" y2="196.00" stroke="#b9b9fb" stroke-width="0.7" />
<line x1="267.52" y1="192.00" x2="269.72" y2="192.00" stroke="#b9b9fb" stroke-width="0.7" />
<line x1="267.52" y1="196.00" x2="269.72" y2="196.00" stroke="#b9b9fb" stroke-width="0.7" />
<line x1="277.64" y1="184.50" x2="277.64" y2="188.50" stroke="#b9b9fb" stroke-width="0.7" />
<line x1="276.54" y1="184.50" x2="278.74" y2="184.50" stroke="#b9b9fb" stroke-width="0.7" />
<line x1="276.54" y1="188.50" x2="278.74" y2="188.50" stroke="#b9b9fb" stroke-width="0.7" />
<polyline points="214.50,220.50 223.52,216.40 237.05,213.10 246.07,206.30 255.09,203.80 268.62,194.00 277.64,186.50" fill="none" stroke="#b9b9fb" stroke-width="1.1"/>
<circle cx="214.50" cy="220.50" r="1.5" fill="#b9b9fb"/>
<circle cx="223.52" cy="216.40" r="1.5" fill="#b9b9fb"/>
<circle cx="237.05" cy="213.10" r="1.5" fill="#b9b9fb"/>
<circle cx="246.07" cy="206.30" r="1.5" fill="#b9b9fb"/>
<circle cx="255.09" cy="203.80" r="1.5" fill="#b9b9fb"/>
<circle cx="268.62" cy="194.00" r="1.5" fill="#b9b9fb"/>
<circle cx="277.64" cy="186.50" r="1.5" fill="#b9b9fb"/>
<line x1="223.52" y1="217.80" x2="223.52" y2="219.80" stroke="#4b4bf3" stroke-width="0.7" />
<line x1="222.42" y1="217.80" x2="224.62" y2="217.80" stroke="#4b4bf3" stroke-width="0.7" />
<line x1="222.42" y1="219.80" x2="224.62" y2="219.80" stroke="#4b4bf3" stroke-width="0.7" />
<line x1="237.05" y1="224.10" x2="237.05" y2="226.10" stroke="#4b4bf3" stroke-width="0.7" />
<line x1="235.95" y1="224.10" x2="238.15" y2="224.10" stroke="#4b4bf3" stroke-width="0.7" />
<line x1="235.95" y1="226.10" x2="238.15" y2="226.10" stroke="#4b4bf3" stroke-width="0.7" />
<line x1="246.07" y1="217.30" x2="246.07" y2="221.30" stroke="#4b4bf3" stroke-width="0.7" />
<line x1="244.97" y1="217.30" x2="247.17" y2="217.30" stroke="#4b4bf3" stroke-width="0.7" />
<line x1="244.97" y1="221.30" x2="247.17" y2="221.30" stroke="#4b4bf3" stroke-width="0.7" />
<line x1="255.09" y1="219.80" x2="255.09" y2="222.80" stroke="#4b4bf3" stroke-width="0.7" />
<line x1="253.99" y1="219.80" x2="256.19" y2="219.80" stroke="#4b4bf3" stroke-width="0.7" />
<line x1="253.99" y1="222.80" x2="256.19" y2="222.80" stroke="#4b4bf3" stroke-width="0.7" />
<line x1="268.62" y1="216.20" x2="268.62" y2="218.20" stroke="#4b4bf3" stroke-width="0.7" />
<line x1="267.52" y1="216.20" x2="269.72" y2="216.20" stroke="#4b4bf3" stroke-width="0.7" />
<line x1="267.52" y1="218.20" x2="269.72" y2="218.20" stroke="#4b4bf3" stroke-width="0.7" />
<line x1="277.64" y1="207.90" x2="277.64" y2="211.90" stroke="#4b4bf3" stroke-width="0.7" />
<line x1="276.54" y1="207.90" x2="278.74" y2="207.90" stroke="#4b4bf3" stroke-width="0.7" />
<line x1="276.54" y1="211.90" x2="278.74" y2="211.90" stroke="#4b4bf3" stroke-width="0.7" />
<polyline points="214.50,220.50 223.52,218.80 237.05,225.10 246.07,219.30 255.09,221.30 268.62,217.20 277.64,209.90" fill="none" stroke="#4b4bf3" stroke-width="1.1"/>
<circle cx="214.50" cy="220.50" r="1.5" fill="#4b4bf3"/>
<circle cx="223.52" cy="218.80" r="1.5" fill="#4b4bf3"/>
<circle cx="237.05" cy="225.10" r="1.5" fill="#4b4bf3"/>
<circle cx="246.07" cy="219.30" r="1.5" fill="#4b4bf3"/>
<circle cx="255.09" cy="221.30" r="1.5" fill="#4b4bf3"/>
<circle cx="268.62" cy="217.20" r="1.5" fill="#4b4bf3"/>
<circle cx="277.64" cy="209.90" r="1.5" fill="#4b4bf3"/>
<line x1="223.52" y1="219.80" x2="223.52" y2="221.80" stroke="#f2601c" stroke-width="0.7" />
<line x1="222.42" y1="219.80" x2="224.62" y2="219.80" stroke="#f2601c" stroke-width="0.7" />
<line x1="222.42" y1="221.80" x2="224.62" y2="221.80" stroke="#f2601c" stroke-width="0.7" />
<line x1="237.05" y1="226.50" x2="237.05" y2="232.50" stroke="#f2601c" stroke-width="0.7" />
<line x1="235.95" y1="226.50" x2="238.15" y2="226.50" stroke="#f2601c" stroke-width="0.7" />
<line x1="235.95" y1="232.50" x2="238.15" y2="232.50" stroke="#f2601c" stroke-width="0.7" />
<line x1="246.07" y1="224.20" x2="246.07" y2="228.20" stroke="#f2601c" stroke-width="0.7" />
<line x1="244.97" y1="224.20" x2="247.17" y2="224.20" stroke="#f2601c" stroke-width="0.7" />
<line x1="244.97" y1="228.20" x2="247.17" y2="228.20" stroke="#f2601c" stroke-width="0.7" />
<line x1="255.09" y1="226.30" x2="255.09" y2="230.30" stroke="#f2601c" stroke-width="0.7" />
<line x1="253.99" y1="226.30" x2="256.19" y2="226.30" stroke="#f2601c" stroke-width="0.7" />
<line x1="253.99" y1="230.30" x2="256.19" y2="230.30" stroke="#f2601c" stroke-width="0.7" />
<line x1="268.62" y1="228.80" x2="268.62" y2="231.80" stroke="#f2601c" stroke-width="0.7" />
<line x1="267.52" y1="228.80" x2="269.72" y2="228.80" stroke="#f2601c" stroke-width="0.7" />
<line x1="267.52" y1="231.80" x2="269.72" y2="231.80" stroke="#f2601c" stroke-width="0.7" />
<line x1="277.64" y1="225.80" x2="277.64" y2="229.80" stroke="#f2601c" stroke-width="0.7" />
<line x1="276.54" y1="225.80" x2="278.74" y2="225.80" stroke="#f2601c" stroke-width="0.7" />
<line x1="276.54" y1="229.80" x2="278.74" y2="229.80" stroke="#f2601c" stroke-width="0.7" />
<polyline points="214.50,220.50 223.52,220.80 237.05,229.50 246.07,226.20 255.09,228.30 268.62,230.30 277.64,227.80" fill="none" stroke="#f2601c" stroke-width="1.1"/>
<circle cx="214.50" cy="220.50" r="1.5" fill="#f2601c"/>
<circle cx="223.52" cy="220.80" r="1.5" fill="#f2601c"/>
<circle cx="237.05" cy="229.50" r="1.5" fill="#f2601c"/>
<circle cx="246.07" cy="226.20" r="1.5" fill="#f2601c"/>
<circle cx="255.09" cy="228.30" r="1.5" fill="#f2601c"/>
<circle cx="268.62" cy="230.30" r="1.5" fill="#f2601c"/>
<circle cx="277.64" cy="227.80" r="1.5" fill="#f2601c"/>
<line x1="223.52" y1="218.70" x2="223.52" y2="220.70" stroke="#14149a" stroke-width="0.7" />
<line x1="222.42" y1="218.70" x2="224.62" y2="218.70" stroke="#14149a" stroke-width="0.7" />
<line x1="222.42" y1="220.70" x2="224.62" y2="220.70" stroke="#14149a" stroke-width="0.7" />
<line x1="237.05" y1="229.10" x2="237.05" y2="232.10" stroke="#14149a" stroke-width="0.7" />
<line x1="235.95" y1="229.10" x2="238.15" y2="229.10" stroke="#14149a" stroke-width="0.7" />
<line x1="235.95" y1="232.10" x2="238.15" y2="232.10" stroke="#14149a" stroke-width="0.7" />
<line x1="246.07" y1="225.50" x2="246.07" y2="228.50" stroke="#14149a" stroke-width="0.7" />
<line x1="244.97" y1="225.50" x2="247.17" y2="225.50" stroke="#14149a" stroke-width="0.7" />
<line x1="244.97" y1="228.50" x2="247.17" y2="228.50" stroke="#14149a" stroke-width="0.7" />
<line x1="255.09" y1="228.10" x2="255.09" y2="230.10" stroke="#14149a" stroke-width="0.7" />
<line x1="253.99" y1="228.10" x2="256.19" y2="228.10" stroke="#14149a" stroke-width="0.7" />
<line x1="253.99" y1="230.10" x2="256.19" y2="230.10" stroke="#14149a" stroke-width="0.7" />
<line x1="268.62" y1="233.40" x2="268.62" y2="235.40" stroke="#14149a" stroke-width="0.7" />
<line x1="267.52" y1="233.40" x2="269.72" y2="233.40" stroke="#14149a" stroke-width="0.7" />
<line x1="267.52" y1="235.40" x2="269.72" y2="235.40" stroke="#14149a" stroke-width="0.7" />
<line x1="277.64" y1="232.10" x2="277.64" y2="234.10" stroke="#14149a" stroke-width="0.7" />
<line x1="276.54" y1="232.10" x2="278.74" y2="232.10" stroke="#14149a" stroke-width="0.7" />
<line x1="276.54" y1="234.10" x2="278.74" y2="234.10" stroke="#14149a" stroke-width="0.7" />
<polyline points="214.50,220.50 223.52,219.70 237.05,230.60 246.07,227.00 255.09,229.10 268.62,234.40 277.64,233.10" fill="none" stroke="#14149a" stroke-width="1.1"/>
<circle cx="214.50" cy="220.50" r="1.5" fill="#14149a"/>
<circle cx="223.52" cy="219.70" r="1.5" fill="#14149a"/>
<circle cx="237.05" cy="230.60" r="1.5" fill="#14149a"/>
<circle cx="246.07" cy="227.00" r="1.5" fill="#14149a"/>
<circle cx="255.09" cy="229.10" r="1.5" fill="#14149a"/>
<circle cx="268.62" cy="234.40" r="1.5" fill="#14149a"/>
<circle cx="277.64" cy="233.10" r="1.5" fill="#14149a"/>
<line x1="223.52" y1="215.10" x2="223.52" y2="216.10" stroke="#111111" stroke-width="0.7" />
<line x1="222.42" y1="215.10" x2="224.62" y2="215.10" stroke="#111111" stroke-width="0.7" />
<line x1="222.42" y1="216.10" x2="224.62" y2="216.10" stroke="#111111" stroke-width="0.7" />
<line x1="246.07" y1="199.00" x2="246.07" y2="201.00" stroke="#111111" stroke-width="0.7" />
<line x1="244.97" y1="199.00" x2="247.17" y2="199.00" stroke="#111111" stroke-width="0.7" />
<line x1="244.97" y1="201.00" x2="247.17" y2="201.00" stroke="#111111" stroke-width="0.7" />
<line x1="255.09" y1="196.90" x2="255.09" y2="198.90" stroke="#111111" stroke-width="0.7" />
<line x1="253.99" y1="196.90" x2="256.19" y2="196.90" stroke="#111111" stroke-width="0.7" />
<line x1="253.99" y1="198.90" x2="256.19" y2="198.90" stroke="#111111" stroke-width="0.7" />
<line x1="268.62" y1="184.80" x2="268.62" y2="186.80" stroke="#111111" stroke-width="0.7" />
<line x1="267.52" y1="184.80" x2="269.72" y2="184.80" stroke="#111111" stroke-width="0.7" />
<line x1="267.52" y1="186.80" x2="269.72" y2="186.80" stroke="#111111" stroke-width="0.7" />
<line x1="277.64" y1="175.20" x2="277.64" y2="179.20" stroke="#111111" stroke-width="0.7" />
<line x1="276.54" y1="175.20" x2="278.74" y2="175.20" stroke="#111111" stroke-width="0.7" />
<line x1="276.54" y1="179.20" x2="278.74" y2="179.20" stroke="#111111" stroke-width="0.7" />
<polyline points="214.50,220.50 223.52,215.60 237.05,208.70 246.07,200.00 255.09,197.90 268.62,185.80 277.64,177.20" fill="none" stroke="#111111" stroke-width="1.1"/>
<circle cx="214.50" cy="220.50" r="1.7" fill="#111111"/>
<circle cx="223.52" cy="215.60" r="1.7" fill="#111111"/>
<circle cx="237.05" cy="208.70" r="1.7" fill="#111111"/>
<circle cx="246.07" cy="200.00" r="1.7" fill="#111111"/>
<circle cx="255.09" cy="197.90" r="1.7" fill="#111111"/>
<circle cx="268.62" cy="185.80" r="1.7" fill="#111111"/>
<circle cx="277.64" cy="177.20" r="1.7" fill="#111111"/>
<line x1="288.00" y1="172.10" x2="296.00" y2="172.10" stroke="#111111" stroke-width="1.25" />
<circle cx="292.00" cy="172.10" r="1.45" fill="#111111"/>
<text x="300.20" y="174.51" font-size="6.7" text-anchor="start" >Vehicle</text>
<text x="287.00" y="187.91" font-size="6.7" text-anchor="start" >NVL-655</text>
<line x1="288.00" y1="195.00" x2="296.00" y2="195.00" stroke="#b9b9fb" stroke-width="1.25" />
<circle cx="292.00" cy="195.00" r="1.45" fill="#b9b9fb"/>
<text x="300.20" y="197.41" font-size="6.7" text-anchor="start" >0.02 mg/kg</text>
<line x1="288.00" y1="203.30" x2="296.00" y2="203.30" stroke="#4b4bf3" stroke-width="1.25" />
<circle cx="292.00" cy="203.30" r="1.45" fill="#4b4bf3"/>
<text x="300.20" y="205.71" font-size="6.7" text-anchor="start" >0.1 mg/kg</text>
<line x1="288.00" y1="211.60" x2="296.00" y2="211.60" stroke="#14149a" stroke-width="1.25" />
<circle cx="292.00" cy="211.60" r="1.45" fill="#14149a"/>
<text x="300.20" y="214.01" font-size="6.7" text-anchor="start" >0.5 mg/kg</text>
<text x="287.00" y="227.91" font-size="6.7" text-anchor="start" >Lorlatinib</text>
<line x1="288.00" y1="234.40" x2="296.00" y2="234.40" stroke="#f2601c" stroke-width="1.25" />
<circle cx="292.00" cy="234.40" r="1.45" fill="#f2601c"/>
<text x="300.20" y="236.81" font-size="6.7" text-anchor="start" >5 mg/kg</text>
<line x1="378.60" y1="164.90" x2="378.60" y2="242.20" stroke="#333333" stroke-width="0.9" />
<line x1="376.00" y1="165.30" x2="378.60" y2="165.30" stroke="#333333" stroke-width="0.9" />
<text x="373.60" y="167.60" font-size="7.7" text-anchor="end" >2,048</text>
<line x1="376.00" y1="178.05" x2="378.60" y2="178.05" stroke="#333333" stroke-width="0.9" />
<text x="373.60" y="180.35" font-size="7.7" text-anchor="end" >1,024</text>
<line x1="376.00" y1="190.80" x2="378.60" y2="190.80" stroke="#333333" stroke-width="0.9" />
<text x="373.60" y="193.10" font-size="7.7" text-anchor="end" >512</text>
<line x1="376.00" y1="203.55" x2="378.60" y2="203.55" stroke="#333333" stroke-width="0.9" />
<text x="373.60" y="205.85" font-size="7.7" text-anchor="end" >256</text>
<line x1="376.00" y1="216.30" x2="378.60" y2="216.30" stroke="#333333" stroke-width="0.9" />
<text x="373.60" y="218.60" font-size="7.7" text-anchor="end" >128</text>
<line x1="376.00" y1="229.05" x2="378.60" y2="229.05" stroke="#333333" stroke-width="0.9" />
<text x="373.60" y="231.35" font-size="7.7" text-anchor="end" >64</text>
<line x1="376.00" y1="241.80" x2="378.60" y2="241.80" stroke="#333333" stroke-width="0.9" />
<text x="373.60" y="244.10" font-size="7.7" text-anchor="end" >32</text>
<line x1="378.60" y1="241.70" x2="455.00" y2="241.70" stroke="#333333" stroke-width="0.9" />
<line x1="382.80" y1="241.70" x2="382.80" y2="244.30" stroke="#333333" stroke-width="0.9" />
<text x="382.80" y="252.50" font-size="7.7" text-anchor="middle" >0</text>
<line x1="414.44" y1="241.70" x2="414.44" y2="244.30" stroke="#333333" stroke-width="0.9" />
<text x="414.44" y="252.50" font-size="7.7" text-anchor="middle" >7</text>
<line x1="446.08" y1="241.70" x2="446.08" y2="244.30" stroke="#333333" stroke-width="0.9" />
<text x="446.08" y="252.50" font-size="7.7" text-anchor="middle" >14</text>
<text x="415.60" y="262.50" font-size="7.6" text-anchor="middle" >Days on treatment</text>
<text transform="translate(346.80,202.90) rotate(-90)" font-size="7.6" text-anchor="middle">Tumor volume (mm<tspan font-size="4.6" dy="-2.8">3</tspan><tspan dy="2.8">)</tspan></text>
<text x="417.60" y="147.90" font-size="7.65" text-anchor="middle" >Ba/F3</text>
<text x="417.60" y="156.90" font-size="7.65" text-anchor="middle" ><tspan font-style="italic">EML4-ALK</tspan> v1 I1171N</text>
<line x1="378.60" y1="214.40" x2="455.00" y2="214.40" stroke="#cccccc" stroke-width="0.8" />
<line x1="391.84" y1="212.60" x2="391.84" y2="213.60" stroke="#b9b9fb" stroke-width="0.7" />
<line x1="390.74" y1="212.60" x2="392.94" y2="212.60" stroke="#b9b9fb" stroke-width="0.7" />
<line x1="390.74" y1="213.60" x2="392.94" y2="213.60" stroke="#b9b9fb" stroke-width="0.7" />
<line x1="405.40" y1="215.90" x2="405.40" y2="216.90" stroke="#b9b9fb" stroke-width="0.7" />
<line x1="404.30" y1="215.90" x2="406.50" y2="215.90" stroke="#b9b9fb" stroke-width="0.7" />
<line x1="404.30" y1="216.90" x2="406.50" y2="216.90" stroke="#b9b9fb" stroke-width="0.7" />
<line x1="414.44" y1="211.60" x2="414.44" y2="213.60" stroke="#b9b9fb" stroke-width="0.7" />
<line x1="413.34" y1="211.60" x2="415.54" y2="211.60" stroke="#b9b9fb" stroke-width="0.7" />
<line x1="413.34" y1="213.60" x2="415.54" y2="213.60" stroke="#b9b9fb" stroke-width="0.7" />
<line x1="423.48" y1="209.50" x2="423.48" y2="212.50" stroke="#b9b9fb" stroke-width="0.7" />
<line x1="422.38" y1="209.50" x2="424.58" y2="209.50" stroke="#b9b9fb" stroke-width="0.7" />
<line x1="422.38" y1="212.50" x2="424.58" y2="212.50" stroke="#b9b9fb" stroke-width="0.7" />
<line x1="437.04" y1="203.40" x2="437.04" y2="207.40" stroke="#b9b9fb" stroke-width="0.7" />
<line x1="435.94" y1="203.40" x2="438.14" y2="203.40" stroke="#b9b9fb" stroke-width="0.7" />
<line x1="435.94" y1="207.40" x2="438.14" y2="207.40" stroke="#b9b9fb" stroke-width="0.7" />
<line x1="446.08" y1="196.40" x2="446.08" y2="200.40" stroke="#b9b9fb" stroke-width="0.7" />
<line x1="444.98" y1="196.40" x2="447.18" y2="196.40" stroke="#b9b9fb" stroke-width="0.7" />
<line x1="444.98" y1="200.40" x2="447.18" y2="200.40" stroke="#b9b9fb" stroke-width="0.7" />
<polyline points="382.80,214.80 391.84,213.10 405.40,216.40 414.44,212.60 423.48,211.00 437.04,205.40 446.08,198.40" fill="none" stroke="#b9b9fb" stroke-width="1.1"/>
<circle cx="382.80" cy="214.80" r="1.5" fill="#b9b9fb"/>
<circle cx="391.84" cy="213.10" r="1.5" fill="#b9b9fb"/>
<circle cx="405.40" cy="216.40" r="1.5" fill="#b9b9fb"/>
<circle cx="414.44" cy="212.60" r="1.5" fill="#b9b9fb"/>
<circle cx="423.48" cy="211.00" r="1.5" fill="#b9b9fb"/>
<circle cx="437.04" cy="205.40" r="1.5" fill="#b9b9fb"/>
<circle cx="446.08" cy="198.40" r="1.5" fill="#b9b9fb"/>
<line x1="391.84" y1="212.60" x2="391.84" y2="213.60" stroke="#4b4bf3" stroke-width="0.7" />
<line x1="390.74" y1="212.60" x2="392.94" y2="212.60" stroke="#4b4bf3" stroke-width="0.7" />
<line x1="390.74" y1="213.60" x2="392.94" y2="213.60" stroke="#4b4bf3" stroke-width="0.7" />
<line x1="405.40" y1="215.90" x2="405.40" y2="216.90" stroke="#4b4bf3" stroke-width="0.7" />
<line x1="404.30" y1="215.90" x2="406.50" y2="215.90" stroke="#4b4bf3" stroke-width="0.7" />
<line x1="404.30" y1="216.90" x2="406.50" y2="216.90" stroke="#4b4bf3" stroke-width="0.7" />
<line x1="414.44" y1="216.50" x2="414.44" y2="218.50" stroke="#4b4bf3" stroke-width="0.7" />
<line x1="413.34" y1="216.50" x2="415.54" y2="216.50" stroke="#4b4bf3" stroke-width="0.7" />
<line x1="413.34" y1="218.50" x2="415.54" y2="218.50" stroke="#4b4bf3" stroke-width="0.7" />
<line x1="423.48" y1="221.10" x2="423.48" y2="223.10" stroke="#4b4bf3" stroke-width="0.7" />
<line x1="422.38" y1="221.10" x2="424.58" y2="221.10" stroke="#4b4bf3" stroke-width="0.7" />
<line x1="422.38" y1="223.10" x2="424.58" y2="223.10" stroke="#4b4bf3" stroke-width="0.7" />
<line x1="437.04" y1="217.30" x2="437.04" y2="220.30" stroke="#4b4bf3" stroke-width="0.7" />
<line x1="435.94" y1="217.30" x2="438.14" y2="217.30" stroke="#4b4bf3" stroke-width="0.7" />
<line x1="435.94" y1="220.30" x2="438.14" y2="220.30" stroke="#4b4bf3" stroke-width="0.7" />
<line x1="446.08" y1="219.00" x2="446.08" y2="222.00" stroke="#4b4bf3" stroke-width="0.7" />
<line x1="444.98" y1="219.00" x2="447.18" y2="219.00" stroke="#4b4bf3" stroke-width="0.7" />
<line x1="444.98" y1="222.00" x2="447.18" y2="222.00" stroke="#4b4bf3" stroke-width="0.7" />
<polyline points="382.80,214.80 391.84,213.10 405.40,216.40 414.44,217.50 423.48,222.10 437.04,218.80 446.08,220.50" fill="none" stroke="#4b4bf3" stroke-width="1.1"/>
<circle cx="382.80" cy="214.80" r="1.5" fill="#4b4bf3"/>
<circle cx="391.84" cy="213.10" r="1.5" fill="#4b4bf3"/>
<circle cx="405.40" cy="216.40" r="1.5" fill="#4b4bf3"/>
<circle cx="414.44" cy="217.50" r="1.5" fill="#4b4bf3"/>
<circle cx="423.48" cy="222.10" r="1.5" fill="#4b4bf3"/>
<circle cx="437.04" cy="218.80" r="1.5" fill="#4b4bf3"/>
<circle cx="446.08" cy="220.50" r="1.5" fill="#4b4bf3"/>
<line x1="391.84" y1="215.40" x2="391.84" y2="216.40" stroke="#f2601c" stroke-width="0.7" />
<line x1="390.74" y1="215.40" x2="392.94" y2="215.40" stroke="#f2601c" stroke-width="0.7" />
<line x1="390.74" y1="216.40" x2="392.94" y2="216.40" stroke="#f2601c" stroke-width="0.7" />
<line x1="405.40" y1="224.20" x2="405.40" y2="228.20" stroke="#f2601c" stroke-width="0.7" />
<line x1="404.30" y1="224.20" x2="406.50" y2="224.20" stroke="#f2601c" stroke-width="0.7" />
<line x1="404.30" y1="228.20" x2="406.50" y2="228.20" stroke="#f2601c" stroke-width="0.7" />
<line x1="414.44" y1="224.10" x2="414.44" y2="226.10" stroke="#f2601c" stroke-width="0.7" />
<line x1="413.34" y1="224.10" x2="415.54" y2="224.10" stroke="#f2601c" stroke-width="0.7" />
<line x1="413.34" y1="226.10" x2="415.54" y2="226.10" stroke="#f2601c" stroke-width="0.7" />
<line x1="423.48" y1="225.20" x2="423.48" y2="227.20" stroke="#f2601c" stroke-width="0.7" />
<line x1="422.38" y1="225.20" x2="424.58" y2="225.20" stroke="#f2601c" stroke-width="0.7" />
<line x1="422.38" y1="227.20" x2="424.58" y2="227.20" stroke="#f2601c" stroke-width="0.7" />
<line x1="437.04" y1="230.10" x2="437.04" y2="232.10" stroke="#f2601c" stroke-width="0.7" />
<line x1="435.94" y1="230.10" x2="438.14" y2="230.10" stroke="#f2601c" stroke-width="0.7" />
<line x1="435.94" y1="232.10" x2="438.14" y2="232.10" stroke="#f2601c" stroke-width="0.7" />
<line x1="446.08" y1="228.30" x2="446.08" y2="232.30" stroke="#f2601c" stroke-width="0.7" />
<line x1="444.98" y1="228.30" x2="447.18" y2="228.30" stroke="#f2601c" stroke-width="0.7" />
<line x1="444.98" y1="232.30" x2="447.18" y2="232.30" stroke="#f2601c" stroke-width="0.7" />
<polyline points="382.80,214.80 391.84,215.90 405.40,226.20 414.44,225.10 423.48,226.20 437.04,231.10 446.08,230.30" fill="none" stroke="#f2601c" stroke-width="1.1"/>
<circle cx="382.80" cy="214.80" r="1.5" fill="#f2601c"/>
<circle cx="391.84" cy="215.90" r="1.5" fill="#f2601c"/>
<circle cx="405.40" cy="226.20" r="1.5" fill="#f2601c"/>
<circle cx="414.44" cy="225.10" r="1.5" fill="#f2601c"/>
<circle cx="423.48" cy="226.20" r="1.5" fill="#f2601c"/>
<circle cx="437.04" cy="231.10" r="1.5" fill="#f2601c"/>
<circle cx="446.08" cy="230.30" r="1.5" fill="#f2601c"/>
<line x1="391.84" y1="214.70" x2="391.84" y2="215.70" stroke="#14149a" stroke-width="0.7" />
<line x1="390.74" y1="214.70" x2="392.94" y2="214.70" stroke="#14149a" stroke-width="0.7" />
<line x1="390.74" y1="215.70" x2="392.94" y2="215.70" stroke="#14149a" stroke-width="0.7" />
<line x1="405.40" y1="220.80" x2="405.40" y2="221.80" stroke="#14149a" stroke-width="0.7" />
<line x1="404.30" y1="220.80" x2="406.50" y2="220.80" stroke="#14149a" stroke-width="0.7" />
<line x1="404.30" y1="221.80" x2="406.50" y2="221.80" stroke="#14149a" stroke-width="0.7" />
<line x1="414.44" y1="220.30" x2="414.44" y2="222.30" stroke="#14149a" stroke-width="0.7" />
<line x1="413.34" y1="220.30" x2="415.54" y2="220.30" stroke="#14149a" stroke-width="0.7" />
<line x1="413.34" y1="222.30" x2="415.54" y2="222.30" stroke="#14149a" stroke-width="0.7" />
<line x1="423.48" y1="226.00" x2="423.48" y2="228.00" stroke="#14149a" stroke-width="0.7" />
<line x1="422.38" y1="226.00" x2="424.58" y2="226.00" stroke="#14149a" stroke-width="0.7" />
<line x1="422.38" y1="228.00" x2="424.58" y2="228.00" stroke="#14149a" stroke-width="0.7" />
<line x1="437.04" y1="224.70" x2="437.04" y2="227.70" stroke="#14149a" stroke-width="0.7" />
<line x1="435.94" y1="224.70" x2="438.14" y2="224.70" stroke="#14149a" stroke-width="0.7" />
<line x1="435.94" y1="227.70" x2="438.14" y2="227.70" stroke="#14149a" stroke-width="0.7" />
<line x1="446.08" y1="224.20" x2="446.08" y2="227.20" stroke="#14149a" stroke-width="0.7" />
<line x1="444.98" y1="224.20" x2="447.18" y2="224.20" stroke="#14149a" stroke-width="0.7" />
<line x1="444.98" y1="227.20" x2="447.18" y2="227.20" stroke="#14149a" stroke-width="0.7" />
<polyline points="382.80,214.80 391.84,215.20 405.40,221.30 414.44,221.30 423.48,227.00 437.04,226.20 446.08,225.70" fill="none" stroke="#14149a" stroke-width="1.1"/>
<circle cx="382.80" cy="214.80" r="1.5" fill="#14149a"/>
<circle cx="391.84" cy="215.20" r="1.5" fill="#14149a"/>
<circle cx="405.40" cy="221.30" r="1.5" fill="#14149a"/>
<circle cx="414.44" cy="221.30" r="1.5" fill="#14149a"/>
<circle cx="423.48" cy="227.00" r="1.5" fill="#14149a"/>
<circle cx="437.04" cy="226.20" r="1.5" fill="#14149a"/>
<circle cx="446.08" cy="225.70" r="1.5" fill="#14149a"/>
<line x1="391.84" y1="209.40" x2="391.84" y2="210.40" stroke="#111111" stroke-width="0.7" />
<line x1="390.74" y1="209.40" x2="392.94" y2="209.40" stroke="#111111" stroke-width="0.7" />
<line x1="390.74" y1="210.40" x2="392.94" y2="210.40" stroke="#111111" stroke-width="0.7" />
<line x1="405.40" y1="201.80" x2="405.40" y2="203.80" stroke="#111111" stroke-width="0.7" />
<line x1="404.30" y1="201.80" x2="406.50" y2="201.80" stroke="#111111" stroke-width="0.7" />
<line x1="404.30" y1="203.80" x2="406.50" y2="203.80" stroke="#111111" stroke-width="0.7" />
<line x1="414.44" y1="193.60" x2="414.44" y2="196.60" stroke="#111111" stroke-width="0.7" />
<line x1="413.34" y1="193.60" x2="415.54" y2="193.60" stroke="#111111" stroke-width="0.7" />
<line x1="413.34" y1="196.60" x2="415.54" y2="196.60" stroke="#111111" stroke-width="0.7" />
<line x1="423.48" y1="189.70" x2="423.48" y2="190.70" stroke="#111111" stroke-width="0.7" />
<line x1="422.38" y1="189.70" x2="424.58" y2="189.70" stroke="#111111" stroke-width="0.7" />
<line x1="422.38" y1="190.70" x2="424.58" y2="190.70" stroke="#111111" stroke-width="0.7" />
<line x1="437.04" y1="183.70" x2="437.04" y2="184.70" stroke="#111111" stroke-width="0.7" />
<line x1="435.94" y1="183.70" x2="438.14" y2="183.70" stroke="#111111" stroke-width="0.7" />
<line x1="435.94" y1="184.70" x2="438.14" y2="184.70" stroke="#111111" stroke-width="0.7" />
<line x1="446.08" y1="174.80" x2="446.08" y2="177.80" stroke="#111111" stroke-width="0.7" />
<line x1="444.98" y1="174.80" x2="447.18" y2="174.80" stroke="#111111" stroke-width="0.7" />
<line x1="444.98" y1="177.80" x2="447.18" y2="177.80" stroke="#111111" stroke-width="0.7" />
<polyline points="382.80,214.80 391.84,209.90 405.40,202.80 414.44,195.10 423.48,190.20 437.04,184.20 446.08,176.30" fill="none" stroke="#111111" stroke-width="1.1"/>
<circle cx="382.80" cy="214.80" r="1.7" fill="#111111"/>
<circle cx="391.84" cy="209.90" r="1.7" fill="#111111"/>
<circle cx="405.40" cy="202.80" r="1.7" fill="#111111"/>
<circle cx="414.44" cy="195.10" r="1.7" fill="#111111"/>
<circle cx="423.48" cy="190.20" r="1.7" fill="#111111"/>
<circle cx="437.04" cy="184.20" r="1.7" fill="#111111"/>
<circle cx="446.08" cy="176.30" r="1.7" fill="#111111"/>
<line x1="460.80" y1="172.00" x2="470.00" y2="172.00" stroke="#111111" stroke-width="1.25" />
<circle cx="465.40" cy="172.00" r="1.45" fill="#111111"/>
<text x="473.80" y="174.41" font-size="6.7" text-anchor="start" >Vehicle</text>
<text x="459.00" y="187.91" font-size="6.7" text-anchor="start" >NVL-655</text>
<line x1="460.80" y1="194.80" x2="470.00" y2="194.80" stroke="#b9b9fb" stroke-width="1.25" />
<circle cx="465.40" cy="194.80" r="1.45" fill="#b9b9fb"/>
<text x="473.80" y="197.21" font-size="6.7" text-anchor="start" >1.5 mg/kg</text>
<line x1="460.80" y1="203.00" x2="470.00" y2="203.00" stroke="#4b4bf3" stroke-width="1.25" />
<circle cx="465.40" cy="203.00" r="1.45" fill="#4b4bf3"/>
<text x="473.80" y="205.41" font-size="6.7" text-anchor="start" >4.5 mg/kg</text>
<line x1="460.80" y1="211.20" x2="470.00" y2="211.20" stroke="#14149a" stroke-width="1.25" />
<circle cx="465.40" cy="211.20" r="1.45" fill="#14149a"/>
<text x="473.80" y="213.61" font-size="6.7" text-anchor="start" >7.5 mg/kg</text>
<text x="459.00" y="227.01" font-size="6.7" text-anchor="start" >Lorlatinib</text>
<line x1="460.80" y1="233.80" x2="470.00" y2="233.80" stroke="#f2601c" stroke-width="1.25" />
<circle cx="465.40" cy="233.80" r="1.45" fill="#f2601c"/>
<text x="473.80" y="236.21" font-size="6.7" text-anchor="start" >5 mg/kg</text>
<line x1="37.50" y1="308.70" x2="37.50" y2="386.50" stroke="#333333" stroke-width="0.9" />
<line x1="34.90" y1="309.10" x2="37.50" y2="309.10" stroke="#333333" stroke-width="0.9" />
<text x="32.50" y="311.40" font-size="7.7" text-anchor="end" >2,048</text>
<line x1="34.90" y1="320.14" x2="37.50" y2="320.14" stroke="#333333" stroke-width="0.9" />
<text x="32.50" y="322.44" font-size="7.7" text-anchor="end" >1,024</text>
<line x1="34.90" y1="331.19" x2="37.50" y2="331.19" stroke="#333333" stroke-width="0.9" />
<text x="32.50" y="333.49" font-size="7.7" text-anchor="end" >512</text>
<line x1="34.90" y1="342.23" x2="37.50" y2="342.23" stroke="#333333" stroke-width="0.9" />
<text x="32.50" y="344.53" font-size="7.7" text-anchor="end" >256</text>
<line x1="34.90" y1="353.27" x2="37.50" y2="353.27" stroke="#333333" stroke-width="0.9" />
<text x="32.50" y="355.57" font-size="7.7" text-anchor="end" >128</text>
<line x1="34.90" y1="364.31" x2="37.50" y2="364.31" stroke="#333333" stroke-width="0.9" />
<text x="32.50" y="366.61" font-size="7.7" text-anchor="end" >64</text>
<line x1="34.90" y1="375.36" x2="37.50" y2="375.36" stroke="#333333" stroke-width="0.9" />
<text x="32.50" y="377.66" font-size="7.7" text-anchor="end" >32</text>
<line x1="34.90" y1="386.40" x2="37.50" y2="386.40" stroke="#333333" stroke-width="0.9" />
<text x="32.50" y="388.70" font-size="7.7" text-anchor="end" >16</text>
<line x1="37.50" y1="386.00" x2="114.00" y2="386.00" stroke="#333333" stroke-width="0.9" />
<line x1="40.90" y1="386.00" x2="40.90" y2="388.60" stroke="#333333" stroke-width="0.9" />
<text x="40.90" y="396.80" font-size="7.7" text-anchor="middle" >0</text>
<line x1="63.30" y1="386.00" x2="63.30" y2="388.60" stroke="#333333" stroke-width="0.9" />
<text x="63.30" y="396.80" font-size="7.7" text-anchor="middle" >7</text>
<line x1="85.70" y1="386.00" x2="85.70" y2="388.60" stroke="#333333" stroke-width="0.9" />
<text x="85.70" y="396.80" font-size="7.7" text-anchor="middle" >14</text>
<line x1="108.10" y1="386.00" x2="108.10" y2="388.60" stroke="#333333" stroke-width="0.9" />
<text x="108.10" y="396.80" font-size="7.7" text-anchor="middle" >21</text>
<text x="76.70" y="406.80" font-size="7.6" text-anchor="middle" >Days on treatment</text>
<text transform="translate(9.30,347.00) rotate(-90)" font-size="7.6" text-anchor="middle">Tumor volume (mm<tspan font-size="4.6" dy="-2.8">3</tspan><tspan dy="2.8">)</tspan></text>
<text x="75.70" y="286.70" font-size="7.65" text-anchor="middle" >MGH953-7</text>
<text x="75.70" y="296.20" font-size="7.65" text-anchor="middle" ><tspan font-style="italic">EML4-ALK</tspan> v3 G1202R/L1196M</text>
<line x1="37.50" y1="344.60" x2="114.00" y2="344.60" stroke="#cccccc" stroke-width="0.8" />
<line x1="50.50" y1="336.10" x2="50.50" y2="338.10" stroke="#f2601c" stroke-width="0.7" />
<line x1="49.40" y1="336.10" x2="51.60" y2="336.10" stroke="#f2601c" stroke-width="0.7" />
<line x1="49.40" y1="338.10" x2="51.60" y2="338.10" stroke="#f2601c" stroke-width="0.7" />
<line x1="63.30" y1="332.90" x2="63.30" y2="333.90" stroke="#f2601c" stroke-width="0.7" />
<line x1="62.20" y1="332.90" x2="64.40" y2="332.90" stroke="#f2601c" stroke-width="0.7" />
<line x1="62.20" y1="333.90" x2="64.40" y2="333.90" stroke="#f2601c" stroke-width="0.7" />
<line x1="72.90" y1="330.10" x2="72.90" y2="331.10" stroke="#f2601c" stroke-width="0.7" />
<line x1="71.80" y1="330.10" x2="74.00" y2="330.10" stroke="#f2601c" stroke-width="0.7" />
<line x1="71.80" y1="331.10" x2="74.00" y2="331.10" stroke="#f2601c" stroke-width="0.7" />
<line x1="85.70" y1="327.40" x2="85.70" y2="328.40" stroke="#f2601c" stroke-width="0.7" />
<line x1="84.60" y1="327.40" x2="86.80" y2="327.40" stroke="#f2601c" stroke-width="0.7" />
<line x1="84.60" y1="328.40" x2="86.80" y2="328.40" stroke="#f2601c" stroke-width="0.7" />
<line x1="95.30" y1="325.70" x2="95.30" y2="326.70" stroke="#f2601c" stroke-width="0.7" />
<line x1="94.20" y1="325.70" x2="96.40" y2="325.70" stroke="#f2601c" stroke-width="0.7" />
<line x1="94.20" y1="326.70" x2="96.40" y2="326.70" stroke="#f2601c" stroke-width="0.7" />
<line x1="108.10" y1="324.00" x2="108.10" y2="326.00" stroke="#f2601c" stroke-width="0.7" />
<line x1="107.00" y1="324.00" x2="109.20" y2="324.00" stroke="#f2601c" stroke-width="0.7" />
<line x1="107.00" y1="326.00" x2="109.20" y2="326.00" stroke="#f2601c" stroke-width="0.7" />
<polyline points="40.90,344.80 50.50,337.10 63.30,333.40 72.90,330.60 85.70,327.90 95.30,326.20 108.10,325.00" fill="none" stroke="#f2601c" stroke-width="1.1"/>
<circle cx="40.90" cy="344.80" r="1.5" fill="#f2601c"/>
<circle cx="50.50" cy="337.10" r="1.5" fill="#f2601c"/>
<circle cx="63.30" cy="333.40" r="1.5" fill="#f2601c"/>
<circle cx="72.90" cy="330.60" r="1.5" fill="#f2601c"/>
<circle cx="85.70" cy="327.90" r="1.5" fill="#f2601c"/>
<circle cx="95.30" cy="326.20" r="1.5" fill="#f2601c"/>
<circle cx="108.10" cy="325.00" r="1.5" fill="#f2601c"/>
<line x1="50.50" y1="347.80" x2="50.50" y2="349.80" stroke="#8a8af6" stroke-width="0.7" />
<line x1="49.40" y1="347.80" x2="51.60" y2="347.80" stroke="#8a8af6" stroke-width="0.7" />
<line x1="49.40" y1="349.80" x2="51.60" y2="349.80" stroke="#8a8af6" stroke-width="0.7" />
<line x1="63.30" y1="349.10" x2="63.30" y2="352.10" stroke="#8a8af6" stroke-width="0.7" />
<line x1="62.20" y1="349.10" x2="64.40" y2="349.10" stroke="#8a8af6" stroke-width="0.7" />
<line x1="62.20" y1="352.10" x2="64.40" y2="352.10" stroke="#8a8af6" stroke-width="0.7" />
<line x1="72.90" y1="351.60" x2="72.90" y2="354.60" stroke="#8a8af6" stroke-width="0.7" />
<line x1="71.80" y1="351.60" x2="74.00" y2="351.60" stroke="#8a8af6" stroke-width="0.7" />
<line x1="71.80" y1="354.60" x2="74.00" y2="354.60" stroke="#8a8af6" stroke-width="0.7" />
<line x1="85.70" y1="353.30" x2="85.70" y2="356.30" stroke="#8a8af6" stroke-width="0.7" />
<line x1="84.60" y1="353.30" x2="86.80" y2="353.30" stroke="#8a8af6" stroke-width="0.7" />
<line x1="84.60" y1="356.30" x2="86.80" y2="356.30" stroke="#8a8af6" stroke-width="0.7" />
<line x1="95.30" y1="356.10" x2="95.30" y2="359.10" stroke="#8a8af6" stroke-width="0.7" />
<line x1="94.20" y1="356.10" x2="96.40" y2="356.10" stroke="#8a8af6" stroke-width="0.7" />
<line x1="94.20" y1="359.10" x2="96.40" y2="359.10" stroke="#8a8af6" stroke-width="0.7" />
<line x1="108.10" y1="358.30" x2="108.10" y2="361.30" stroke="#8a8af6" stroke-width="0.7" />
<line x1="107.00" y1="358.30" x2="109.20" y2="358.30" stroke="#8a8af6" stroke-width="0.7" />
<line x1="107.00" y1="361.30" x2="109.20" y2="361.30" stroke="#8a8af6" stroke-width="0.7" />
<polyline points="40.90,344.80 50.50,348.80 63.30,350.60 72.90,353.10 85.70,354.80 95.30,357.60 108.10,359.80" fill="none" stroke="#8a8af6" stroke-width="1.1"/>
<circle cx="40.90" cy="344.80" r="1.5" fill="#8a8af6"/>
<circle cx="50.50" cy="348.80" r="1.5" fill="#8a8af6"/>
<circle cx="63.30" cy="350.60" r="1.5" fill="#8a8af6"/>
<circle cx="72.90" cy="353.10" r="1.5" fill="#8a8af6"/>
<circle cx="85.70" cy="354.80" r="1.5" fill="#8a8af6"/>
<circle cx="95.30" cy="357.60" r="1.5" fill="#8a8af6"/>
<circle cx="108.10" cy="359.80" r="1.5" fill="#8a8af6"/>
<line x1="50.50" y1="349.40" x2="50.50" y2="351.40" stroke="#1414f0" stroke-width="0.7" />
<line x1="49.40" y1="349.40" x2="51.60" y2="349.40" stroke="#1414f0" stroke-width="0.7" />
<line x1="49.40" y1="351.40" x2="51.60" y2="351.40" stroke="#1414f0" stroke-width="0.7" />
<line x1="63.30" y1="358.30" x2="63.30" y2="361.30" stroke="#1414f0" stroke-width="0.7" />
<line x1="62.20" y1="358.30" x2="64.40" y2="358.30" stroke="#1414f0" stroke-width="0.7" />
<line x1="62.20" y1="361.30" x2="64.40" y2="361.30" stroke="#1414f0" stroke-width="0.7" />
<line x1="72.90" y1="366.10" x2="72.90" y2="369.10" stroke="#1414f0" stroke-width="0.7" />
<line x1="71.80" y1="366.10" x2="74.00" y2="366.10" stroke="#1414f0" stroke-width="0.7" />
<line x1="71.80" y1="369.10" x2="74.00" y2="369.10" stroke="#1414f0" stroke-width="0.7" />
<line x1="85.70" y1="369.50" x2="85.70" y2="371.50" stroke="#1414f0" stroke-width="0.7" />
<line x1="84.60" y1="369.50" x2="86.80" y2="369.50" stroke="#1414f0" stroke-width="0.7" />
<line x1="84.60" y1="371.50" x2="86.80" y2="371.50" stroke="#1414f0" stroke-width="0.7" />
<line x1="95.30" y1="372.80" x2="95.30" y2="374.80" stroke="#1414f0" stroke-width="0.7" />
<line x1="94.20" y1="372.80" x2="96.40" y2="372.80" stroke="#1414f0" stroke-width="0.7" />
<line x1="94.20" y1="374.80" x2="96.40" y2="374.80" stroke="#1414f0" stroke-width="0.7" />
<line x1="108.10" y1="377.30" x2="108.10" y2="381.30" stroke="#1414f0" stroke-width="0.7" />
<line x1="107.00" y1="377.30" x2="109.20" y2="377.30" stroke="#1414f0" stroke-width="0.7" />
<line x1="107.00" y1="381.30" x2="109.20" y2="381.30" stroke="#1414f0" stroke-width="0.7" />
<polyline points="40.90,344.80 50.50,350.40 63.30,359.80 72.90,367.60 85.70,370.50 95.30,373.80 108.10,379.30" fill="none" stroke="#1414f0" stroke-width="1.1"/>
<circle cx="40.90" cy="344.80" r="1.5" fill="#1414f0"/>
<circle cx="50.50" cy="350.40" r="1.5" fill="#1414f0"/>
<circle cx="63.30" cy="359.80" r="1.5" fill="#1414f0"/>
<circle cx="72.90" cy="367.60" r="1.5" fill="#1414f0"/>
<circle cx="85.70" cy="370.50" r="1.5" fill="#1414f0"/>
<circle cx="95.30" cy="373.80" r="1.5" fill="#1414f0"/>
<circle cx="108.10" cy="379.30" r="1.5" fill="#1414f0"/>
<line x1="50.50" y1="333.90" x2="50.50" y2="336.90" stroke="#111111" stroke-width="0.7" />
<line x1="49.40" y1="333.90" x2="51.60" y2="333.90" stroke="#111111" stroke-width="0.7" />
<line x1="49.40" y1="336.90" x2="51.60" y2="336.90" stroke="#111111" stroke-width="0.7" />
<line x1="63.30" y1="330.20" x2="63.30" y2="332.20" stroke="#111111" stroke-width="0.7" />
<line x1="62.20" y1="330.20" x2="64.40" y2="330.20" stroke="#111111" stroke-width="0.7" />
<line x1="62.20" y1="332.20" x2="64.40" y2="332.20" stroke="#111111" stroke-width="0.7" />
<line x1="72.90" y1="325.60" x2="72.90" y2="328.60" stroke="#111111" stroke-width="0.7" />
<line x1="71.80" y1="325.60" x2="74.00" y2="325.60" stroke="#111111" stroke-width="0.7" />
<line x1="71.80" y1="328.60" x2="74.00" y2="328.60" stroke="#111111" stroke-width="0.7" />
<line x1="85.70" y1="322.40" x2="85.70" y2="324.40" stroke="#111111" stroke-width="0.7" />
<line x1="84.60" y1="322.40" x2="86.80" y2="322.40" stroke="#111111" stroke-width="0.7" />
<line x1="84.60" y1="324.40" x2="86.80" y2="324.40" stroke="#111111" stroke-width="0.7" />
<line x1="95.30" y1="319.40" x2="95.30" y2="322.40" stroke="#111111" stroke-width="0.7" />
<line x1="94.20" y1="319.40" x2="96.40" y2="319.40" stroke="#111111" stroke-width="0.7" />
<line x1="94.20" y1="322.40" x2="96.40" y2="322.40" stroke="#111111" stroke-width="0.7" />
<line x1="108.10" y1="318.50" x2="108.10" y2="321.50" stroke="#111111" stroke-width="0.7" />
<line x1="107.00" y1="318.50" x2="109.20" y2="318.50" stroke="#111111" stroke-width="0.7" />
<line x1="107.00" y1="321.50" x2="109.20" y2="321.50" stroke="#111111" stroke-width="0.7" />
<polyline points="40.90,344.80 50.50,335.40 63.30,331.20 72.90,327.10 85.70,323.40 95.30,320.90 108.10,320.00" fill="none" stroke="#111111" stroke-width="1.1"/>
<circle cx="40.90" cy="344.80" r="1.7" fill="#111111"/>
<circle cx="50.50" cy="335.40" r="1.7" fill="#111111"/>
<circle cx="63.30" cy="331.20" r="1.7" fill="#111111"/>
<circle cx="72.90" cy="327.10" r="1.7" fill="#111111"/>
<circle cx="85.70" cy="323.40" r="1.7" fill="#111111"/>
<circle cx="95.30" cy="320.90" r="1.7" fill="#111111"/>
<circle cx="108.10" cy="320.00" r="1.7" fill="#111111"/>
<line x1="120.20" y1="322.40" x2="128.50" y2="322.40" stroke="#111111" stroke-width="1.25" />
<circle cx="124.35" cy="322.40" r="1.45" fill="#111111"/>
<text x="133.00" y="324.81" font-size="6.7" text-anchor="start" >Vehicle</text>
<text x="118.50" y="338.91" font-size="6.7" text-anchor="start" >NVL-655</text>
<line x1="120.20" y1="345.30" x2="128.50" y2="345.30" stroke="#8a8af6" stroke-width="1.25" />
<circle cx="124.35" cy="345.30" r="1.45" fill="#8a8af6"/>
<text x="133.00" y="347.71" font-size="6.7" text-anchor="start" >0.5 mg/kg</text>
<line x1="120.20" y1="353.70" x2="128.50" y2="353.70" stroke="#1414f0" stroke-width="1.25" />
<circle cx="124.35" cy="353.70" r="1.45" fill="#1414f0"/>
<text x="133.00" y="356.11" font-size="6.7" text-anchor="start" >1.5 mg/kg</text>
<text x="118.50" y="370.61" font-size="6.7" text-anchor="start" >Lorlatinib</text>
<line x1="120.20" y1="376.60" x2="128.50" y2="376.60" stroke="#f2601c" stroke-width="1.25" />
<circle cx="124.35" cy="376.60" r="1.45" fill="#f2601c"/>
<text x="133.00" y="379.01" font-size="6.7" text-anchor="start" >5 mg/kg</text>
<line x1="209.00" y1="309.00" x2="209.00" y2="386.80" stroke="#333333" stroke-width="0.9" />
<line x1="206.40" y1="309.60" x2="209.00" y2="309.60" stroke="#333333" stroke-width="0.9" />
<text x="204.00" y="311.90" font-size="7.7" text-anchor="end" >1,024</text>
<line x1="206.40" y1="322.40" x2="209.00" y2="322.40" stroke="#333333" stroke-width="0.9" />
<text x="204.00" y="324.70" font-size="7.7" text-anchor="end" >512</text>
<line x1="206.40" y1="335.20" x2="209.00" y2="335.20" stroke="#333333" stroke-width="0.9" />
<text x="204.00" y="337.50" font-size="7.7" text-anchor="end" >256</text>
<line x1="206.40" y1="348.00" x2="209.00" y2="348.00" stroke="#333333" stroke-width="0.9" />
<text x="204.00" y="350.30" font-size="7.7" text-anchor="end" >128</text>
<line x1="206.40" y1="360.80" x2="209.00" y2="360.80" stroke="#333333" stroke-width="0.9" />
<text x="204.00" y="363.10" font-size="7.7" text-anchor="end" >64</text>
<line x1="206.40" y1="373.60" x2="209.00" y2="373.60" stroke="#333333" stroke-width="0.9" />
<text x="204.00" y="375.90" font-size="7.7" text-anchor="end" >32</text>
<line x1="206.40" y1="386.40" x2="209.00" y2="386.40" stroke="#333333" stroke-width="0.9" />
<text x="204.00" y="388.70" font-size="7.7" text-anchor="end" >16</text>
<line x1="209.00" y1="386.30" x2="286.00" y2="386.30" stroke="#333333" stroke-width="0.9" />
<line x1="213.30" y1="386.30" x2="213.30" y2="388.90" stroke="#333333" stroke-width="0.9" />
<text x="213.30" y="397.10" font-size="7.7" text-anchor="middle" >0</text>
<line x1="245.08" y1="386.30" x2="245.08" y2="388.90" stroke="#333333" stroke-width="0.9" />
<text x="245.08" y="397.10" font-size="7.7" text-anchor="middle" >7</text>
<line x1="276.86" y1="386.30" x2="276.86" y2="388.90" stroke="#333333" stroke-width="0.9" />
<text x="276.86" y="397.10" font-size="7.7" text-anchor="middle" >14</text>
<text x="246.50" y="407.10" font-size="7.6" text-anchor="middle" >Days on treatment</text>
<text transform="translate(180.80,346.60) rotate(-90)" font-size="7.6" text-anchor="middle">Tumor volume (mm<tspan font-size="4.6" dy="-2.8">3</tspan><tspan dy="2.8">)</tspan></text>
<text x="248.30" y="287.00" font-size="7.65" text-anchor="middle" >NCI-H3122</text>
<text x="248.30" y="296.50" font-size="7.65" text-anchor="middle" ><tspan font-style="italic">EML4-ALK</tspan> v1 G1202R/L1196M</text>
<line x1="209.00" y1="342.60" x2="286.00" y2="342.60" stroke="#cccccc" stroke-width="0.8" />
<line x1="213.30" y1="341.30" x2="213.30" y2="343.30" stroke="#b9b9fb" stroke-width="0.7" />
<line x1="212.20" y1="341.30" x2="214.40" y2="341.30" stroke="#b9b9fb" stroke-width="0.7" />
<line x1="212.20" y1="343.30" x2="214.40" y2="343.30" stroke="#b9b9fb" stroke-width="0.7" />
<line x1="222.38" y1="334.90" x2="222.38" y2="336.90" stroke="#b9b9fb" stroke-width="0.7" />
<line x1="221.28" y1="334.90" x2="223.48" y2="334.90" stroke="#b9b9fb" stroke-width="0.7" />
<line x1="221.28" y1="336.90" x2="223.48" y2="336.90" stroke="#b9b9fb" stroke-width="0.7" />
<line x1="236.00" y1="334.70" x2="236.00" y2="337.70" stroke="#b9b9fb" stroke-width="0.7" />
<line x1="234.90" y1="334.70" x2="237.10" y2="334.70" stroke="#b9b9fb" stroke-width="0.7" />
<line x1="234.90" y1="337.70" x2="237.10" y2="337.70" stroke="#b9b9fb" stroke-width="0.7" />
<line x1="245.08" y1="332.20" x2="245.08" y2="336.20" stroke="#b9b9fb" stroke-width="0.7" />
<line x1="243.98" y1="332.20" x2="246.18" y2="332.20" stroke="#b9b9fb" stroke-width="0.7" />
<line x1="243.98" y1="336.20" x2="246.18" y2="336.20" stroke="#b9b9fb" stroke-width="0.7" />
<line x1="254.16" y1="329.70" x2="254.16" y2="333.70" stroke="#b9b9fb" stroke-width="0.7" />
<line x1="253.06" y1="329.70" x2="255.26" y2="329.70" stroke="#b9b9fb" stroke-width="0.7" />
<line x1="253.06" y1="333.70" x2="255.26" y2="333.70" stroke="#b9b9fb" stroke-width="0.7" />
<line x1="272.32" y1="327.70" x2="272.32" y2="330.70" stroke="#b9b9fb" stroke-width="0.7" />
<line x1="271.22" y1="327.70" x2="273.42" y2="327.70" stroke="#b9b9fb" stroke-width="0.7" />
<line x1="271.22" y1="330.70" x2="273.42" y2="330.70" stroke="#b9b9fb" stroke-width="0.7" />
<polyline points="213.30,342.30 222.38,335.90 236.00,336.20 245.08,334.20 254.16,331.70 272.32,329.20" fill="none" stroke="#b9b9fb" stroke-width="1.1"/>
<circle cx="213.30" cy="342.30" r="1.5" fill="#b9b9fb"/>
<circle cx="222.38" cy="335.90" r="1.5" fill="#b9b9fb"/>
<circle cx="236.00" cy="336.20" r="1.5" fill="#b9b9fb"/>
<circle cx="245.08" cy="334.20" r="1.5" fill="#b9b9fb"/>
<circle cx="254.16" cy="331.70" r="1.5" fill="#b9b9fb"/>
<circle cx="272.32" cy="329.20" r="1.5" fill="#b9b9fb"/>
<line x1="213.30" y1="340.30" x2="213.30" y2="344.30" stroke="#f2601c" stroke-width="0.7" />
<line x1="212.20" y1="340.30" x2="214.40" y2="340.30" stroke="#f2601c" stroke-width="0.7" />
<line x1="212.20" y1="344.30" x2="214.40" y2="344.30" stroke="#f2601c" stroke-width="0.7" />
<line x1="222.38" y1="340.10" x2="222.38" y2="344.10" stroke="#f2601c" stroke-width="0.7" />
<line x1="221.28" y1="340.10" x2="223.48" y2="340.10" stroke="#f2601c" stroke-width="0.7" />
<line x1="221.28" y1="344.10" x2="223.48" y2="344.10" stroke="#f2601c" stroke-width="0.7" />
<line x1="236.00" y1="337.90" x2="236.00" y2="343.90" stroke="#f2601c" stroke-width="0.7" />
<line x1="234.90" y1="337.90" x2="237.10" y2="337.90" stroke="#f2601c" stroke-width="0.7" />
<line x1="234.90" y1="343.90" x2="237.10" y2="343.90" stroke="#f2601c" stroke-width="0.7" />
<line x1="245.08" y1="337.40" x2="245.08" y2="343.40" stroke="#f2601c" stroke-width="0.7" />
<line x1="243.98" y1="337.40" x2="246.18" y2="337.40" stroke="#f2601c" stroke-width="0.7" />
<line x1="243.98" y1="343.40" x2="246.18" y2="343.40" stroke="#f2601c" stroke-width="0.7" />
<line x1="254.16" y1="335.40" x2="254.16" y2="341.40" stroke="#f2601c" stroke-width="0.7" />
<line x1="253.06" y1="335.40" x2="255.26" y2="335.40" stroke="#f2601c" stroke-width="0.7" />
<line x1="253.06" y1="341.40" x2="255.26" y2="341.40" stroke="#f2601c" stroke-width="0.7" />
<line x1="272.32" y1="332.10" x2="272.32" y2="338.10" stroke="#f2601c" stroke-width="0.7" />
<line x1="271.22" y1="332.10" x2="273.42" y2="332.10" stroke="#f2601c" stroke-width="0.7" />
<line x1="271.22" y1="338.10" x2="273.42" y2="338.10" stroke="#f2601c" stroke-width="0.7" />
<polyline points="213.30,342.30 222.38,342.10 236.00,340.90 245.08,340.40 254.16,338.40 272.32,335.10" fill="none" stroke="#f2601c" stroke-width="1.1"/>
<circle cx="213.30" cy="342.30" r="1.5" fill="#f2601c"/>
<circle cx="222.38" cy="342.10" r="1.5" fill="#f2601c"/>
<circle cx="236.00" cy="340.90" r="1.5" fill="#f2601c"/>
<circle cx="245.08" cy="340.40" r="1.5" fill="#f2601c"/>
<circle cx="254.16" cy="338.40" r="1.5" fill="#f2601c"/>
<circle cx="272.32" cy="335.10" r="1.5" fill="#f2601c"/>
<line x1="213.30" y1="341.30" x2="213.30" y2="343.30" stroke="#4b4bf3" stroke-width="0.7" />
<line x1="212.20" y1="341.30" x2="214.40" y2="341.30" stroke="#4b4bf3" stroke-width="0.7" />
<line x1="212.20" y1="343.30" x2="214.40" y2="343.30" stroke="#4b4bf3" stroke-width="0.7" />
<line x1="222.38" y1="345.30" x2="222.38" y2="348.30" stroke="#4b4bf3" stroke-width="0.7" />
<line x1="221.28" y1="345.30" x2="223.48" y2="345.30" stroke="#4b4bf3" stroke-width="0.7" />
<line x1="221.28" y1="348.30" x2="223.48" y2="348.30" stroke="#4b4bf3" stroke-width="0.7" />
<line x1="236.00" y1="355.80" x2="236.00" y2="357.80" stroke="#4b4bf3" stroke-width="0.7" />
<line x1="234.90" y1="355.80" x2="237.10" y2="355.80" stroke="#4b4bf3" stroke-width="0.7" />
<line x1="234.90" y1="357.80" x2="237.10" y2="357.80" stroke="#4b4bf3" stroke-width="0.7" />
<line x1="245.08" y1="358.30" x2="245.08" y2="360.30" stroke="#4b4bf3" stroke-width="0.7" />
<line x1="243.98" y1="358.30" x2="246.18" y2="358.30" stroke="#4b4bf3" stroke-width="0.7" />
<line x1="243.98" y1="360.30" x2="246.18" y2="360.30" stroke="#4b4bf3" stroke-width="0.7" />
<line x1="254.16" y1="361.30" x2="254.16" y2="363.30" stroke="#4b4bf3" stroke-width="0.7" />
<line x1="253.06" y1="361.30" x2="255.26" y2="361.30" stroke="#4b4bf3" stroke-width="0.7" />
<line x1="253.06" y1="363.30" x2="255.26" y2="363.30" stroke="#4b4bf3" stroke-width="0.7" />
<line x1="272.32" y1="360.60" x2="272.32" y2="363.60" stroke="#4b4bf3" stroke-width="0.7" />
<line x1="271.22" y1="360.60" x2="273.42" y2="360.60" stroke="#4b4bf3" stroke-width="0.7" />
<line x1="271.22" y1="363.60" x2="273.42" y2="363.60" stroke="#4b4bf3" stroke-width="0.7" />
<polyline points="213.30,342.30 222.38,346.80 236.00,356.80 245.08,359.30 254.16,362.30 272.32,362.10" fill="none" stroke="#4b4bf3" stroke-width="1.1"/>
<circle cx="213.30" cy="342.30" r="1.5" fill="#4b4bf3"/>
<circle cx="222.38" cy="346.80" r="1.5" fill="#4b4bf3"/>
<circle cx="236.00" cy="356.80" r="1.5" fill="#4b4bf3"/>
<circle cx="245.08" cy="359.30" r="1.5" fill="#4b4bf3"/>
<circle cx="254.16" cy="362.30" r="1.5" fill="#4b4bf3"/>
<circle cx="272.32" cy="362.10" r="1.5" fill="#4b4bf3"/>
<line x1="213.30" y1="341.30" x2="213.30" y2="343.30" stroke="#14149a" stroke-width="0.7" />
<line x1="212.20" y1="341.30" x2="214.40" y2="341.30" stroke="#14149a" stroke-width="0.7" />
<line x1="212.20" y1="343.30" x2="214.40" y2="343.30" stroke="#14149a" stroke-width="0.7" />
<line x1="222.38" y1="352.40" x2="222.38" y2="354.40" stroke="#14149a" stroke-width="0.7" />
<line x1="221.28" y1="352.40" x2="223.48" y2="352.40" stroke="#14149a" stroke-width="0.7" />
<line x1="221.28" y1="354.40" x2="223.48" y2="354.40" stroke="#14149a" stroke-width="0.7" />
<line x1="236.00" y1="363.50" x2="236.00" y2="367.50" stroke="#14149a" stroke-width="0.7" />
<line x1="234.90" y1="363.50" x2="237.10" y2="363.50" stroke="#14149a" stroke-width="0.7" />
<line x1="234.90" y1="367.50" x2="237.10" y2="367.50" stroke="#14149a" stroke-width="0.7" />
<line x1="245.08" y1="365.30" x2="245.08" y2="368.30" stroke="#14149a" stroke-width="0.7" />
<line x1="243.98" y1="365.30" x2="246.18" y2="365.30" stroke="#14149a" stroke-width="0.7" />
<line x1="243.98" y1="368.30" x2="246.18" y2="368.30" stroke="#14149a" stroke-width="0.7" />
<line x1="254.16" y1="371.60" x2="254.16" y2="374.60" stroke="#14149a" stroke-width="0.7" />
<line x1="253.06" y1="371.60" x2="255.26" y2="371.60" stroke="#14149a" stroke-width="0.7" />
<line x1="253.06" y1="374.60" x2="255.26" y2="374.60" stroke="#14149a" stroke-width="0.7" />
<line x1="272.32" y1="368.30" x2="272.32" y2="374.30" stroke="#14149a" stroke-width="0.7" />
<line x1="271.22" y1="368.30" x2="273.42" y2="368.30" stroke="#14149a" stroke-width="0.7" />
<line x1="271.22" y1="374.30" x2="273.42" y2="374.30" stroke="#14149a" stroke-width="0.7" />
<polyline points="213.30,342.30 222.38,353.40 236.00,365.50 245.08,366.80 254.16,373.10 272.32,371.30" fill="none" stroke="#14149a" stroke-width="1.1"/>
<circle cx="213.30" cy="342.30" r="1.5" fill="#14149a"/>
<circle cx="222.38" cy="353.40" r="1.5" fill="#14149a"/>
<circle cx="236.00" cy="365.50" r="1.5" fill="#14149a"/>
<circle cx="245.08" cy="366.80" r="1.5" fill="#14149a"/>
<circle cx="254.16" cy="373.10" r="1.5" fill="#14149a"/>
<circle cx="272.32" cy="371.30" r="1.5" fill="#14149a"/>
<line x1="222.38" y1="333.20" x2="222.38" y2="334.20" stroke="#111111" stroke-width="0.7" />
<line x1="221.28" y1="333.20" x2="223.48" y2="333.20" stroke="#111111" stroke-width="0.7" />
<line x1="221.28" y1="334.20" x2="223.48" y2="334.20" stroke="#111111" stroke-width="0.7" />
<line x1="245.08" y1="325.70" x2="245.08" y2="326.70" stroke="#111111" stroke-width="0.7" />
<line x1="243.98" y1="325.70" x2="246.18" y2="325.70" stroke="#111111" stroke-width="0.7" />
<line x1="243.98" y1="326.70" x2="246.18" y2="326.70" stroke="#111111" stroke-width="0.7" />
<line x1="254.16" y1="321.90" x2="254.16" y2="324.90" stroke="#111111" stroke-width="0.7" />
<line x1="253.06" y1="321.90" x2="255.26" y2="321.90" stroke="#111111" stroke-width="0.7" />
<line x1="253.06" y1="324.90" x2="255.26" y2="324.90" stroke="#111111" stroke-width="0.7" />
<line x1="272.32" y1="317.90" x2="272.32" y2="318.90" stroke="#111111" stroke-width="0.7" />
<line x1="271.22" y1="317.90" x2="273.42" y2="317.90" stroke="#111111" stroke-width="0.7" />
<line x1="271.22" y1="318.90" x2="273.42" y2="318.90" stroke="#111111" stroke-width="0.7" />
<polyline points="213.30,342.30 222.38,333.70 236.00,331.20 245.08,326.20 254.16,323.40 272.32,318.40" fill="none" stroke="#111111" stroke-width="1.1"/>
<circle cx="213.30" cy="342.30" r="1.7" fill="#111111"/>
<circle cx="222.38" cy="333.70" r="1.7" fill="#111111"/>
<circle cx="236.00" cy="331.20" r="1.7" fill="#111111"/>
<circle cx="245.08" cy="326.20" r="1.7" fill="#111111"/>
<circle cx="254.16" cy="323.40" r="1.7" fill="#111111"/>
<circle cx="272.32" cy="318.40" r="1.7" fill="#111111"/>
<line x1="287.40" y1="316.10" x2="295.70" y2="316.10" stroke="#111111" stroke-width="1.25" />
<circle cx="291.55" cy="316.10" r="1.45" fill="#111111"/>
<text x="300.20" y="318.51" font-size="6.7" text-anchor="start" >Vehicle</text>
<text x="286.30" y="331.61" font-size="6.7" text-anchor="start" >NVL-655</text>
<line x1="287.40" y1="338.90" x2="295.70" y2="338.90" stroke="#b9b9fb" stroke-width="1.25" />
<circle cx="291.55" cy="338.90" r="1.45" fill="#b9b9fb"/>
<text x="300.20" y="341.31" font-size="6.7" text-anchor="start" >0.3 mg/kg</text>
<line x1="287.40" y1="346.50" x2="295.70" y2="346.50" stroke="#4b4bf3" stroke-width="1.25" />
<circle cx="291.55" cy="346.50" r="1.45" fill="#4b4bf3"/>
<text x="300.20" y="348.91" font-size="6.7" text-anchor="start" >1 mg/kg</text>
<line x1="287.40" y1="354.20" x2="295.70" y2="354.20" stroke="#14149a" stroke-width="1.25" />
<circle cx="291.55" cy="354.20" r="1.45" fill="#14149a"/>
<text x="300.20" y="356.61" font-size="6.7" text-anchor="start" >3 mg/kg</text>
<text x="286.30" y="370.11" font-size="6.7" text-anchor="start" >Lorlatinib</text>
<line x1="287.40" y1="377.30" x2="295.70" y2="377.30" stroke="#f2601c" stroke-width="1.25" />
<circle cx="291.55" cy="377.30" r="1.45" fill="#f2601c"/>
<text x="300.20" y="379.71" font-size="6.7" text-anchor="start" >5 mg/kg</text>
<line x1="373.70" y1="308.80" x2="373.70" y2="386.00" stroke="#333333" stroke-width="0.9" />
<line x1="371.10" y1="309.20" x2="373.70" y2="309.20" stroke="#333333" stroke-width="0.9" />
<text x="368.70" y="311.50" font-size="7.7" text-anchor="end" >2,048</text>
<line x1="371.10" y1="324.48" x2="373.70" y2="324.48" stroke="#333333" stroke-width="0.9" />
<text x="368.70" y="326.78" font-size="7.7" text-anchor="end" >1,024</text>
<line x1="371.10" y1="339.76" x2="373.70" y2="339.76" stroke="#333333" stroke-width="0.9" />
<text x="368.70" y="342.06" font-size="7.7" text-anchor="end" >512</text>
<line x1="371.10" y1="355.04" x2="373.70" y2="355.04" stroke="#333333" stroke-width="0.9" />
<text x="368.70" y="357.34" font-size="7.7" text-anchor="end" >256</text>
<line x1="371.10" y1="370.32" x2="373.70" y2="370.32" stroke="#333333" stroke-width="0.9" />
<text x="368.70" y="372.62" font-size="7.7" text-anchor="end" >128</text>
<line x1="371.10" y1="385.60" x2="373.70" y2="385.60" stroke="#333333" stroke-width="0.9" />
<text x="368.70" y="387.90" font-size="7.7" text-anchor="end" >64</text>
<line x1="373.70" y1="385.50" x2="450.50" y2="385.50" stroke="#333333" stroke-width="0.9" />
<line x1="378.30" y1="385.50" x2="378.30" y2="388.10" stroke="#333333" stroke-width="0.9" />
<text x="378.30" y="396.30" font-size="7.7" text-anchor="middle" >0</text>
<line x1="414.21" y1="385.50" x2="414.21" y2="388.10" stroke="#333333" stroke-width="0.9" />
<text x="414.21" y="396.30" font-size="7.7" text-anchor="middle" >7</text>
<line x1="450.12" y1="385.50" x2="450.12" y2="388.10" stroke="#333333" stroke-width="0.9" />
<text x="450.12" y="396.30" font-size="7.7" text-anchor="middle" >14</text>
<text x="415.80" y="406.30" font-size="7.6" text-anchor="middle" >Days on treatment</text>
<text transform="translate(346.30,347.10) rotate(-90)" font-size="7.6" text-anchor="middle">Tumor volume (mm<tspan font-size="4.6" dy="-2.8">3</tspan><tspan dy="2.8">)</tspan></text>
<text x="412.50" y="287.00" font-size="7.65" text-anchor="middle" >Ba/F3</text>
<text x="412.50" y="296.50" font-size="7.65" text-anchor="middle" ><tspan font-style="italic">EML4-ALK</tspan> v1 G1202R/L1196M</text>
<line x1="373.70" y1="364.20" x2="450.50" y2="364.20" stroke="#cccccc" stroke-width="0.8" />
<line x1="378.30" y1="363.10" x2="378.30" y2="365.10" stroke="#b9b9fb" stroke-width="0.7" />
<line x1="377.20" y1="363.10" x2="379.40" y2="363.10" stroke="#b9b9fb" stroke-width="0.7" />
<line x1="377.20" y1="365.10" x2="379.40" y2="365.10" stroke="#b9b9fb" stroke-width="0.7" />
<line x1="388.56" y1="359.70" x2="388.56" y2="361.70" stroke="#b9b9fb" stroke-width="0.7" />
<line x1="387.46" y1="359.70" x2="389.66" y2="359.70" stroke="#b9b9fb" stroke-width="0.7" />
<line x1="387.46" y1="361.70" x2="389.66" y2="361.70" stroke="#b9b9fb" stroke-width="0.7" />
<line x1="403.95" y1="352.00" x2="403.95" y2="356.00" stroke="#b9b9fb" stroke-width="0.7" />
<line x1="402.85" y1="352.00" x2="405.05" y2="352.00" stroke="#b9b9fb" stroke-width="0.7" />
<line x1="402.85" y1="356.00" x2="405.05" y2="356.00" stroke="#b9b9fb" stroke-width="0.7" />
<line x1="414.21" y1="340.40" x2="414.21" y2="344.40" stroke="#b9b9fb" stroke-width="0.7" />
<line x1="413.11" y1="340.40" x2="415.31" y2="340.40" stroke="#b9b9fb" stroke-width="0.7" />
<line x1="413.11" y1="344.40" x2="415.31" y2="344.40" stroke="#b9b9fb" stroke-width="0.7" />
<line x1="424.47" y1="330.30" x2="424.47" y2="334.30" stroke="#b9b9fb" stroke-width="0.7" />
<line x1="423.37" y1="330.30" x2="425.57" y2="330.30" stroke="#b9b9fb" stroke-width="0.7" />
<line x1="423.37" y1="334.30" x2="425.57" y2="334.30" stroke="#b9b9fb" stroke-width="0.7" />
<line x1="444.99" y1="322.00" x2="444.99" y2="326.00" stroke="#b9b9fb" stroke-width="0.7" />
<line x1="443.89" y1="322.00" x2="446.09" y2="322.00" stroke="#b9b9fb" stroke-width="0.7" />
<line x1="443.89" y1="326.00" x2="446.09" y2="326.00" stroke="#b9b9fb" stroke-width="0.7" />
<polyline points="378.30,364.10 388.56,360.70 403.95,354.00 414.21,342.40 424.47,332.30 444.99,324.00" fill="none" stroke="#b9b9fb" stroke-width="1.1"/>
<circle cx="378.30" cy="364.10" r="1.5" fill="#b9b9fb"/>
<circle cx="388.56" cy="360.70" r="1.5" fill="#b9b9fb"/>
<circle cx="403.95" cy="354.00" r="1.5" fill="#b9b9fb"/>
<circle cx="414.21" cy="342.40" r="1.5" fill="#b9b9fb"/>
<circle cx="424.47" cy="332.30" r="1.5" fill="#b9b9fb"/>
<circle cx="444.99" cy="324.00" r="1.5" fill="#b9b9fb"/>
<line x1="378.30" y1="363.10" x2="378.30" y2="365.10" stroke="#8a8af6" stroke-width="0.7" />
<line x1="377.20" y1="363.10" x2="379.40" y2="363.10" stroke="#8a8af6" stroke-width="0.7" />
<line x1="377.20" y1="365.10" x2="379.40" y2="365.10" stroke="#8a8af6" stroke-width="0.7" />
<line x1="388.56" y1="359.70" x2="388.56" y2="361.70" stroke="#8a8af6" stroke-width="0.7" />
<line x1="387.46" y1="359.70" x2="389.66" y2="359.70" stroke="#8a8af6" stroke-width="0.7" />
<line x1="387.46" y1="361.70" x2="389.66" y2="361.70" stroke="#8a8af6" stroke-width="0.7" />
<line x1="403.95" y1="352.40" x2="403.95" y2="356.40" stroke="#8a8af6" stroke-width="0.7" />
<line x1="402.85" y1="352.40" x2="405.05" y2="352.40" stroke="#8a8af6" stroke-width="0.7" />
<line x1="402.85" y1="356.40" x2="405.05" y2="356.40" stroke="#8a8af6" stroke-width="0.7" />
<line x1="414.21" y1="343.70" x2="414.21" y2="347.70" stroke="#8a8af6" stroke-width="0.7" />
<line x1="413.11" y1="343.70" x2="415.31" y2="343.70" stroke="#8a8af6" stroke-width="0.7" />
<line x1="413.11" y1="347.70" x2="415.31" y2="347.70" stroke="#8a8af6" stroke-width="0.7" />
<line x1="424.47" y1="333.70" x2="424.47" y2="337.70" stroke="#8a8af6" stroke-width="0.7" />
<line x1="423.37" y1="333.70" x2="425.57" y2="333.70" stroke="#8a8af6" stroke-width="0.7" />
<line x1="423.37" y1="337.70" x2="425.57" y2="337.70" stroke="#8a8af6" stroke-width="0.7" />
<line x1="444.99" y1="324.50" x2="444.99" y2="328.50" stroke="#8a8af6" stroke-width="0.7" />
<line x1="443.89" y1="324.50" x2="446.09" y2="324.50" stroke="#8a8af6" stroke-width="0.7" />
<line x1="443.89" y1="328.50" x2="446.09" y2="328.50" stroke="#8a8af6" stroke-width="0.7" />
<polyline points="378.30,364.10 388.56,360.70 403.95,354.40 414.21,345.70 424.47,335.70 444.99,326.50" fill="none" stroke="#8a8af6" stroke-width="1.1"/>
<circle cx="378.30" cy="364.10" r="1.5" fill="#8a8af6"/>
<circle cx="388.56" cy="360.70" r="1.5" fill="#8a8af6"/>
<circle cx="403.95" cy="354.40" r="1.5" fill="#8a8af6"/>
<circle cx="414.21" cy="345.70" r="1.5" fill="#8a8af6"/>
<circle cx="424.47" cy="335.70" r="1.5" fill="#8a8af6"/>
<circle cx="444.99" cy="326.50" r="1.5" fill="#8a8af6"/>
<line x1="444.99" y1="321.00" x2="444.99" y2="323.00" stroke="#f2601c" stroke-width="0.7" />
<line x1="443.89" y1="321.00" x2="446.09" y2="321.00" stroke="#f2601c" stroke-width="0.7" />
<line x1="443.89" y1="323.00" x2="446.09" y2="323.00" stroke="#f2601c" stroke-width="0.7" />
<polyline points="378.30,364.10 388.56,360.40 403.95,353.70 414.21,340.70 424.47,334.80 444.99,322.00" fill="none" stroke="#f2601c" stroke-width="1.1"/>
<circle cx="378.30" cy="364.10" r="1.5" fill="#f2601c"/>
<circle cx="388.56" cy="360.40" r="1.5" fill="#f2601c"/>
<circle cx="403.95" cy="353.70" r="1.5" fill="#f2601c"/>
<circle cx="414.21" cy="340.70" r="1.5" fill="#f2601c"/>
<circle cx="424.47" cy="334.80" r="1.5" fill="#f2601c"/>
<circle cx="444.99" cy="322.00" r="1.5" fill="#f2601c"/>
<line x1="378.30" y1="363.10" x2="378.30" y2="365.10" stroke="#4b4bf3" stroke-width="0.7" />
<line x1="377.20" y1="363.10" x2="379.40" y2="363.10" stroke="#4b4bf3" stroke-width="0.7" />
<line x1="377.20" y1="365.10" x2="379.40" y2="365.10" stroke="#4b4bf3" stroke-width="0.7" />
<line x1="388.56" y1="363.10" x2="388.56" y2="365.10" stroke="#4b4bf3" stroke-width="0.7" />
<line x1="387.46" y1="363.10" x2="389.66" y2="363.10" stroke="#4b4bf3" stroke-width="0.7" />
<line x1="387.46" y1="365.10" x2="389.66" y2="365.10" stroke="#4b4bf3" stroke-width="0.7" />
<line x1="403.95" y1="358.10" x2="403.95" y2="364.10" stroke="#4b4bf3" stroke-width="0.7" />
<line x1="402.85" y1="358.10" x2="405.05" y2="358.10" stroke="#4b4bf3" stroke-width="0.7" />
<line x1="402.85" y1="364.10" x2="405.05" y2="364.10" stroke="#4b4bf3" stroke-width="0.7" />
<line x1="414.21" y1="360.20" x2="414.21" y2="366.20" stroke="#4b4bf3" stroke-width="0.7" />
<line x1="413.11" y1="360.20" x2="415.31" y2="360.20" stroke="#4b4bf3" stroke-width="0.7" />
<line x1="413.11" y1="366.20" x2="415.31" y2="366.20" stroke="#4b4bf3" stroke-width="0.7" />
<line x1="424.47" y1="352.70" x2="424.47" y2="358.70" stroke="#4b4bf3" stroke-width="0.7" />
<line x1="423.37" y1="352.70" x2="425.57" y2="352.70" stroke="#4b4bf3" stroke-width="0.7" />
<line x1="423.37" y1="358.70" x2="425.57" y2="358.70" stroke="#4b4bf3" stroke-width="0.7" />
<line x1="444.99" y1="341.70" x2="444.99" y2="349.70" stroke="#4b4bf3" stroke-width="0.7" />
<line x1="443.89" y1="341.70" x2="446.09" y2="341.70" stroke="#4b4bf3" stroke-width="0.7" />
<line x1="443.89" y1="349.70" x2="446.09" y2="349.70" stroke="#4b4bf3" stroke-width="0.7" />
<polyline points="378.30,364.10 388.56,364.10 403.95,361.10 414.21,363.20 424.47,355.70 444.99,345.70" fill="none" stroke="#4b4bf3" stroke-width="1.1"/>
<circle cx="378.30" cy="364.10" r="1.5" fill="#4b4bf3"/>
<circle cx="388.56" cy="364.10" r="1.5" fill="#4b4bf3"/>
<circle cx="403.95" cy="361.10" r="1.5" fill="#4b4bf3"/>
<circle cx="414.21" cy="363.20" r="1.5" fill="#4b4bf3"/>
<circle cx="424.47" cy="355.70" r="1.5" fill="#4b4bf3"/>
<circle cx="444.99" cy="345.70" r="1.5" fill="#4b4bf3"/>
<line x1="378.30" y1="363.10" x2="378.30" y2="365.10" stroke="#1414f0" stroke-width="0.7" />
<line x1="377.20" y1="363.10" x2="379.40" y2="363.10" stroke="#1414f0" stroke-width="0.7" />
<line x1="377.20" y1="365.10" x2="379.40" y2="365.10" stroke="#1414f0" stroke-width="0.7" />
<line x1="388.56" y1="365.70" x2="388.56" y2="369.70" stroke="#1414f0" stroke-width="0.7" />
<line x1="387.46" y1="365.70" x2="389.66" y2="365.70" stroke="#1414f0" stroke-width="0.7" />
<line x1="387.46" y1="369.70" x2="389.66" y2="369.70" stroke="#1414f0" stroke-width="0.7" />
<line x1="403.95" y1="376.80" x2="403.95" y2="378.80" stroke="#1414f0" stroke-width="0.7" />
<line x1="402.85" y1="376.80" x2="405.05" y2="376.80" stroke="#1414f0" stroke-width="0.7" />
<line x1="402.85" y1="378.80" x2="405.05" y2="378.80" stroke="#1414f0" stroke-width="0.7" />
<line x1="414.21" y1="377.60" x2="414.21" y2="380.60" stroke="#1414f0" stroke-width="0.7" />
<line x1="413.11" y1="377.60" x2="415.31" y2="377.60" stroke="#1414f0" stroke-width="0.7" />
<line x1="413.11" y1="380.60" x2="415.31" y2="380.60" stroke="#1414f0" stroke-width="0.7" />
<line x1="424.47" y1="376.80" x2="424.47" y2="379.80" stroke="#1414f0" stroke-width="0.7" />
<line x1="423.37" y1="376.80" x2="425.57" y2="376.80" stroke="#1414f0" stroke-width="0.7" />
<line x1="423.37" y1="379.80" x2="425.57" y2="379.80" stroke="#1414f0" stroke-width="0.7" />
<line x1="444.99" y1="372.90" x2="444.99" y2="375.90" stroke="#1414f0" stroke-width="0.7" />
<line x1="443.89" y1="372.90" x2="446.09" y2="372.90" stroke="#1414f0" stroke-width="0.7" />
<line x1="443.89" y1="375.90" x2="446.09" y2="375.90" stroke="#1414f0" stroke-width="0.7" />
<polyline points="378.30,364.10 388.56,367.70 403.95,377.80 414.21,379.10 424.47,378.30 444.99,374.40" fill="none" stroke="#1414f0" stroke-width="1.1"/>
<circle cx="378.30" cy="364.10" r="1.5" fill="#1414f0"/>
<circle cx="388.56" cy="367.70" r="1.5" fill="#1414f0"/>
<circle cx="403.95" cy="377.80" r="1.5" fill="#1414f0"/>
<circle cx="414.21" cy="379.10" r="1.5" fill="#1414f0"/>
<circle cx="424.47" cy="378.30" r="1.5" fill="#1414f0"/>
<circle cx="444.99" cy="374.40" r="1.5" fill="#1414f0"/>
<line x1="378.30" y1="363.10" x2="378.30" y2="365.10" stroke="#14149a" stroke-width="0.7" />
<line x1="377.20" y1="363.10" x2="379.40" y2="363.10" stroke="#14149a" stroke-width="0.7" />
<line x1="377.20" y1="365.10" x2="379.40" y2="365.10" stroke="#14149a" stroke-width="0.7" />
<line x1="388.56" y1="367.10" x2="388.56" y2="371.10" stroke="#14149a" stroke-width="0.7" />
<line x1="387.46" y1="367.10" x2="389.66" y2="367.10" stroke="#14149a" stroke-width="0.7" />
<line x1="387.46" y1="371.10" x2="389.66" y2="371.10" stroke="#14149a" stroke-width="0.7" />
<line x1="403.95" y1="377.30" x2="403.95" y2="379.30" stroke="#14149a" stroke-width="0.7" />
<line x1="402.85" y1="377.30" x2="405.05" y2="377.30" stroke="#14149a" stroke-width="0.7" />
<line x1="402.85" y1="379.30" x2="405.05" y2="379.30" stroke="#14149a" stroke-width="0.7" />
<line x1="414.21" y1="378.90" x2="414.21" y2="380.90" stroke="#14149a" stroke-width="0.7" />
<line x1="413.11" y1="378.90" x2="415.31" y2="378.90" stroke="#14149a" stroke-width="0.7" />
<line x1="413.11" y1="380.90" x2="415.31" y2="380.90" stroke="#14149a" stroke-width="0.7" />
<line x1="424.47" y1="383.10" x2="424.47" y2="384.10" stroke="#14149a" stroke-width="0.7" />
<line x1="423.37" y1="383.10" x2="425.57" y2="383.10" stroke="#14149a" stroke-width="0.7" />
<line x1="423.37" y1="384.10" x2="425.57" y2="384.10" stroke="#14149a" stroke-width="0.7" />
<line x1="444.99" y1="381.40" x2="444.99" y2="383.40" stroke="#14149a" stroke-width="0.7" />
<line x1="443.89" y1="381.40" x2="446.09" y2="381.40" stroke="#14149a" stroke-width="0.7" />
<line x1="443.89" y1="383.40" x2="446.09" y2="383.40" stroke="#14149a" stroke-width="0.7" />
<polyline points="378.30,364.10 388.56,369.10 403.95,378.30 414.21,379.90 424.47,383.60 444.99,382.40" fill="none" stroke="#14149a" stroke-width="1.1"/>
<circle cx="378.30" cy="364.10" r="1.5" fill="#14149a"/>
<circle cx="388.56" cy="369.10" r="1.5" fill="#14149a"/>
<circle cx="403.95" cy="378.30" r="1.5" fill="#14149a"/>
<circle cx="414.21" cy="379.90" r="1.5" fill="#14149a"/>
<circle cx="424.47" cy="383.60" r="1.5" fill="#14149a"/>
<circle cx="444.99" cy="382.40" r="1.5" fill="#14149a"/>
<line x1="378.30" y1="363.10" x2="378.30" y2="365.10" stroke="#111111" stroke-width="0.7" />
<line x1="377.20" y1="363.10" x2="379.40" y2="363.10" stroke="#111111" stroke-width="0.7" />
<line x1="377.20" y1="365.10" x2="379.40" y2="365.10" stroke="#111111" stroke-width="0.7" />
<line x1="388.56" y1="358.60" x2="388.56" y2="359.60" stroke="#111111" stroke-width="0.7" />
<line x1="387.46" y1="358.60" x2="389.66" y2="358.60" stroke="#111111" stroke-width="0.7" />
<line x1="387.46" y1="359.60" x2="389.66" y2="359.60" stroke="#111111" stroke-width="0.7" />
<line x1="403.95" y1="343.40" x2="403.95" y2="346.40" stroke="#111111" stroke-width="0.7" />
<line x1="402.85" y1="343.40" x2="405.05" y2="343.40" stroke="#111111" stroke-width="0.7" />
<line x1="402.85" y1="346.40" x2="405.05" y2="346.40" stroke="#111111" stroke-width="0.7" />
<line x1="414.21" y1="335.00" x2="414.21" y2="338.00" stroke="#111111" stroke-width="0.7" />
<line x1="413.11" y1="335.00" x2="415.31" y2="335.00" stroke="#111111" stroke-width="0.7" />
<line x1="413.11" y1="338.00" x2="415.31" y2="338.00" stroke="#111111" stroke-width="0.7" />
<line x1="424.47" y1="323.80" x2="424.47" y2="326.80" stroke="#111111" stroke-width="0.7" />
<line x1="423.37" y1="323.80" x2="425.57" y2="323.80" stroke="#111111" stroke-width="0.7" />
<line x1="423.37" y1="326.80" x2="425.57" y2="326.80" stroke="#111111" stroke-width="0.7" />
<line x1="444.99" y1="313.30" x2="444.99" y2="317.30" stroke="#111111" stroke-width="0.7" />
<line x1="443.89" y1="313.30" x2="446.09" y2="313.30" stroke="#111111" stroke-width="0.7" />
<line x1="443.89" y1="317.30" x2="446.09" y2="317.30" stroke="#111111" stroke-width="0.7" />
<polyline points="378.30,364.10 388.56,359.10 403.95,344.90 414.21,336.50 424.47,325.30 444.99,315.30" fill="none" stroke="#111111" stroke-width="1.1"/>
<circle cx="378.30" cy="364.10" r="1.7" fill="#111111"/>
<circle cx="388.56" cy="359.10" r="1.7" fill="#111111"/>
<circle cx="403.95" cy="344.90" r="1.7" fill="#111111"/>
<circle cx="414.21" cy="336.50" r="1.7" fill="#111111"/>
<circle cx="424.47" cy="325.30" r="1.7" fill="#111111"/>
<circle cx="444.99" cy="315.30" r="1.7" fill="#111111"/>
<line x1="457.00" y1="312.30" x2="464.60" y2="312.30" stroke="#111111" stroke-width="1.25" />
<circle cx="460.80" cy="312.30" r="1.45" fill="#111111"/>
<text x="469.50" y="314.71" font-size="6.7" text-anchor="start" >Vehicle</text>
<text x="455.00" y="327.51" font-size="6.7" text-anchor="start" >NVL-655</text>
<line x1="457.00" y1="333.80" x2="464.60" y2="333.80" stroke="#b9b9fb" stroke-width="1.25" />
<circle cx="460.80" cy="333.80" r="1.45" fill="#b9b9fb"/>
<text x="469.50" y="336.21" font-size="6.7" text-anchor="start" >0.15 mg/kg</text>
<line x1="457.00" y1="341.00" x2="464.60" y2="341.00" stroke="#8a8af6" stroke-width="1.25" />
<circle cx="460.80" cy="341.00" r="1.45" fill="#8a8af6"/>
<text x="469.50" y="343.41" font-size="6.7" text-anchor="start" >0.25 mg/kg</text>
<line x1="457.00" y1="348.00" x2="464.60" y2="348.00" stroke="#4b4bf3" stroke-width="1.25" />
<circle cx="460.80" cy="348.00" r="1.45" fill="#4b4bf3"/>
<text x="469.50" y="350.41" font-size="6.7" text-anchor="start" >0.5 mg/kg</text>
<line x1="457.00" y1="355.40" x2="464.60" y2="355.40" stroke="#1414f0" stroke-width="1.25" />
<circle cx="460.80" cy="355.40" r="1.45" fill="#1414f0"/>
<text x="469.50" y="357.81" font-size="6.7" text-anchor="start" >1 mg/kg</text>
<line x1="457.00" y1="362.80" x2="464.60" y2="362.80" stroke="#14149a" stroke-width="1.25" />
<circle cx="460.80" cy="362.80" r="1.45" fill="#14149a"/>
<text x="469.50" y="365.21" font-size="6.7" text-anchor="start" >1.5 mg/kg</text>
<text x="455.00" y="378.21" font-size="6.7" text-anchor="start" >Lorlatinib</text>
<line x1="457.00" y1="383.00" x2="464.60" y2="383.00" stroke="#f2601c" stroke-width="1.25" />
<circle cx="460.80" cy="383.00" r="1.45" fill="#f2601c"/>
<text x="469.50" y="385.41" font-size="6.7" text-anchor="start" >5 mg/kg</text>
<line x1="38.10" y1="451.40" x2="38.10" y2="528.80" stroke="#333333" stroke-width="0.9" />
<line x1="35.50" y1="452.00" x2="38.10" y2="452.00" stroke="#333333" stroke-width="0.9" />
<text x="33.10" y="454.30" font-size="7.7" text-anchor="end" >2,048</text>
<line x1="35.50" y1="461.54" x2="38.10" y2="461.54" stroke="#333333" stroke-width="0.9" />
<text x="33.10" y="463.84" font-size="7.7" text-anchor="end" >1,024</text>
<line x1="35.50" y1="471.07" x2="38.10" y2="471.07" stroke="#333333" stroke-width="0.9" />
<text x="33.10" y="473.38" font-size="7.7" text-anchor="end" >512</text>
<line x1="35.50" y1="480.61" x2="38.10" y2="480.61" stroke="#333333" stroke-width="0.9" />
<text x="33.10" y="482.91" font-size="7.7" text-anchor="end" >256</text>
<line x1="35.50" y1="490.15" x2="38.10" y2="490.15" stroke="#333333" stroke-width="0.9" />
<text x="33.10" y="492.45" font-size="7.7" text-anchor="end" >128</text>
<line x1="35.50" y1="499.69" x2="38.10" y2="499.69" stroke="#333333" stroke-width="0.9" />
<text x="33.10" y="501.99" font-size="7.7" text-anchor="end" >64</text>
<line x1="35.50" y1="509.22" x2="38.10" y2="509.22" stroke="#333333" stroke-width="0.9" />
<text x="33.10" y="511.52" font-size="7.7" text-anchor="end" >32</text>
<line x1="35.50" y1="518.76" x2="38.10" y2="518.76" stroke="#333333" stroke-width="0.9" />
<text x="33.10" y="521.06" font-size="7.7" text-anchor="end" >16</text>
<line x1="35.50" y1="528.30" x2="38.10" y2="528.30" stroke="#333333" stroke-width="0.9" />
<text x="33.10" y="530.60" font-size="7.7" text-anchor="end" >8</text>
<line x1="38.10" y1="528.30" x2="118.00" y2="528.30" stroke="#333333" stroke-width="0.9" />
<line x1="43.90" y1="528.30" x2="43.90" y2="530.90" stroke="#333333" stroke-width="0.9" />
<text x="43.90" y="539.10" font-size="7.7" text-anchor="middle" >0</text>
<line x1="79.18" y1="528.30" x2="79.18" y2="530.90" stroke="#333333" stroke-width="0.9" />
<text x="79.18" y="539.10" font-size="7.7" text-anchor="middle" >6</text>
<line x1="114.46" y1="528.30" x2="114.46" y2="530.90" stroke="#333333" stroke-width="0.9" />
<text x="114.46" y="539.10" font-size="7.7" text-anchor="middle" >12</text>
<text x="80.80" y="549.10" font-size="7.6" text-anchor="middle" >Days on treatment</text>
<text transform="translate(9.30,490.00) rotate(-90)" font-size="7.6" text-anchor="middle">Tumor volume (mm<tspan font-size="4.6" dy="-2.8">3</tspan><tspan dy="2.8">)</tspan></text>
<text x="76.70" y="429.60" font-size="7.65" text-anchor="middle" >MR448re</text>
<text x="76.70" y="438.80" font-size="7.65" text-anchor="middle" ><tspan font-style="italic">EML4-ALK</tspan> v3 G1202R/T1151M</text>
<line x1="38.10" y1="489.70" x2="118.00" y2="489.70" stroke="#cccccc" stroke-width="0.8" />
<line x1="43.90" y1="482.10" x2="43.90" y2="486.10" stroke="#f9a04a" stroke-width="0.7" />
<line x1="42.80" y1="482.10" x2="45.00" y2="482.10" stroke="#f9a04a" stroke-width="0.7" />
<line x1="42.80" y1="486.10" x2="45.00" y2="486.10" stroke="#f9a04a" stroke-width="0.7" />
<line x1="55.66" y1="480.40" x2="55.66" y2="484.40" stroke="#f9a04a" stroke-width="0.7" />
<line x1="54.56" y1="480.40" x2="56.76" y2="480.40" stroke="#f9a04a" stroke-width="0.7" />
<line x1="54.56" y1="484.40" x2="56.76" y2="484.40" stroke="#f9a04a" stroke-width="0.7" />
<line x1="73.30" y1="476.10" x2="73.30" y2="480.10" stroke="#f9a04a" stroke-width="0.7" />
<line x1="72.20" y1="476.10" x2="74.40" y2="476.10" stroke="#f9a04a" stroke-width="0.7" />
<line x1="72.20" y1="480.10" x2="74.40" y2="480.10" stroke="#f9a04a" stroke-width="0.7" />
<line x1="90.94" y1="477.20" x2="90.94" y2="483.20" stroke="#f9a04a" stroke-width="0.7" />
<line x1="89.84" y1="477.20" x2="92.04" y2="477.20" stroke="#f9a04a" stroke-width="0.7" />
<line x1="89.84" y1="483.20" x2="92.04" y2="483.20" stroke="#f9a04a" stroke-width="0.7" />
<line x1="114.46" y1="472.50" x2="114.46" y2="478.50" stroke="#f9a04a" stroke-width="0.7" />
<line x1="113.36" y1="472.50" x2="115.56" y2="472.50" stroke="#f9a04a" stroke-width="0.7" />
<line x1="113.36" y1="478.50" x2="115.56" y2="478.50" stroke="#f9a04a" stroke-width="0.7" />
<polyline points="43.90,484.10 55.66,482.40 73.30,478.10 90.94,480.20 114.46,475.50" fill="none" stroke="#f9a04a" stroke-width="1.1"/>
<circle cx="43.90" cy="484.10" r="1.5" fill="#f9a04a"/>
<circle cx="55.66" cy="482.40" r="1.5" fill="#f9a04a"/>
<circle cx="73.30" cy="478.10" r="1.5" fill="#f9a04a"/>
<circle cx="90.94" cy="480.20" r="1.5" fill="#f9a04a"/>
<circle cx="114.46" cy="475.50" r="1.5" fill="#f9a04a"/>
<line x1="43.90" y1="488.20" x2="43.90" y2="492.20" stroke="#f2601c" stroke-width="0.7" />
<line x1="42.80" y1="488.20" x2="45.00" y2="488.20" stroke="#f2601c" stroke-width="0.7" />
<line x1="42.80" y1="492.20" x2="45.00" y2="492.20" stroke="#f2601c" stroke-width="0.7" />
<line x1="49.78" y1="486.50" x2="49.78" y2="490.50" stroke="#f2601c" stroke-width="0.7" />
<line x1="48.68" y1="486.50" x2="50.88" y2="486.50" stroke="#f2601c" stroke-width="0.7" />
<line x1="48.68" y1="490.50" x2="50.88" y2="490.50" stroke="#f2601c" stroke-width="0.7" />
<line x1="73.30" y1="486.00" x2="73.30" y2="492.00" stroke="#f2601c" stroke-width="0.7" />
<line x1="72.20" y1="486.00" x2="74.40" y2="486.00" stroke="#f2601c" stroke-width="0.7" />
<line x1="72.20" y1="492.00" x2="74.40" y2="492.00" stroke="#f2601c" stroke-width="0.7" />
<line x1="90.94" y1="493.10" x2="90.94" y2="501.10" stroke="#f2601c" stroke-width="0.7" />
<line x1="89.84" y1="493.10" x2="92.04" y2="493.10" stroke="#f2601c" stroke-width="0.7" />
<line x1="89.84" y1="501.10" x2="92.04" y2="501.10" stroke="#f2601c" stroke-width="0.7" />
<line x1="114.46" y1="481.00" x2="114.46" y2="497.00" stroke="#f2601c" stroke-width="0.7" />
<line x1="113.36" y1="481.00" x2="115.56" y2="481.00" stroke="#f2601c" stroke-width="0.7" />
<line x1="113.36" y1="497.00" x2="115.56" y2="497.00" stroke="#f2601c" stroke-width="0.7" />
<polyline points="43.90,490.20 49.78,488.50 73.30,489.00 90.94,497.10 114.46,489.00" fill="none" stroke="#f2601c" stroke-width="1.1"/>
<circle cx="43.90" cy="490.20" r="1.5" fill="#f2601c"/>
<circle cx="49.78" cy="488.50" r="1.5" fill="#f2601c"/>
<circle cx="73.30" cy="489.00" r="1.5" fill="#f2601c"/>
<circle cx="90.94" cy="497.10" r="1.5" fill="#f2601c"/>
<circle cx="114.46" cy="489.00" r="1.5" fill="#f2601c"/>
<line x1="43.90" y1="487.20" x2="43.90" y2="493.20" stroke="#8a8af6" stroke-width="0.7" />
<line x1="42.80" y1="487.20" x2="45.00" y2="487.20" stroke="#8a8af6" stroke-width="0.7" />
<line x1="42.80" y1="493.20" x2="45.00" y2="493.20" stroke="#8a8af6" stroke-width="0.7" />
<line x1="49.78" y1="487.20" x2="49.78" y2="493.20" stroke="#8a8af6" stroke-width="0.7" />
<line x1="48.68" y1="487.20" x2="50.88" y2="487.20" stroke="#8a8af6" stroke-width="0.7" />
<line x1="48.68" y1="493.20" x2="50.88" y2="493.20" stroke="#8a8af6" stroke-width="0.7" />
<line x1="73.30" y1="487.00" x2="73.30" y2="495.00" stroke="#8a8af6" stroke-width="0.7" />
<line x1="72.20" y1="487.00" x2="74.40" y2="487.00" stroke="#8a8af6" stroke-width="0.7" />
<line x1="72.20" y1="495.00" x2="74.40" y2="495.00" stroke="#8a8af6" stroke-width="0.7" />
<line x1="90.94" y1="492.80" x2="90.94" y2="500.80" stroke="#8a8af6" stroke-width="0.7" />
<line x1="89.84" y1="492.80" x2="92.04" y2="492.80" stroke="#8a8af6" stroke-width="0.7" />
<line x1="89.84" y1="500.80" x2="92.04" y2="500.80" stroke="#8a8af6" stroke-width="0.7" />
<line x1="114.46" y1="481.00" x2="114.46" y2="489.00" stroke="#8a8af6" stroke-width="0.7" />
<line x1="113.36" y1="481.00" x2="115.56" y2="481.00" stroke="#8a8af6" stroke-width="0.7" />
<line x1="113.36" y1="489.00" x2="115.56" y2="489.00" stroke="#8a8af6" stroke-width="0.7" />
<polyline points="43.90,490.20 49.78,490.20 73.30,491.00 90.94,496.80 114.46,485.00" fill="none" stroke="#8a8af6" stroke-width="1.1"/>
<circle cx="43.90" cy="490.20" r="1.5" fill="#8a8af6"/>
<circle cx="49.78" cy="490.20" r="1.5" fill="#8a8af6"/>
<circle cx="73.30" cy="491.00" r="1.5" fill="#8a8af6"/>
<circle cx="90.94" cy="496.80" r="1.5" fill="#8a8af6"/>
<circle cx="114.46" cy="485.00" r="1.5" fill="#8a8af6"/>
<line x1="43.90" y1="487.20" x2="43.90" y2="493.20" stroke="#1414f0" stroke-width="0.7" />
<line x1="42.80" y1="487.20" x2="45.00" y2="487.20" stroke="#1414f0" stroke-width="0.7" />
<line x1="42.80" y1="493.20" x2="45.00" y2="493.20" stroke="#1414f0" stroke-width="0.7" />
<line x1="49.78" y1="487.20" x2="49.78" y2="493.20" stroke="#1414f0" stroke-width="0.7" />
<line x1="48.68" y1="487.20" x2="50.88" y2="487.20" stroke="#1414f0" stroke-width="0.7" />
<line x1="48.68" y1="493.20" x2="50.88" y2="493.20" stroke="#1414f0" stroke-width="0.7" />
<line x1="73.30" y1="495.20" x2="73.30" y2="503.20" stroke="#1414f0" stroke-width="0.7" />
<line x1="72.20" y1="495.20" x2="74.40" y2="495.20" stroke="#1414f0" stroke-width="0.7" />
<line x1="72.20" y1="503.20" x2="74.40" y2="503.20" stroke="#1414f0" stroke-width="0.7" />
<line x1="90.94" y1="504.70" x2="90.94" y2="512.70" stroke="#1414f0" stroke-width="0.7" />
<line x1="89.84" y1="504.70" x2="92.04" y2="504.70" stroke="#1414f0" stroke-width="0.7" />
<line x1="89.84" y1="512.70" x2="92.04" y2="512.70" stroke="#1414f0" stroke-width="0.7" />
<line x1="114.46" y1="511.20" x2="114.46" y2="525.20" stroke="#1414f0" stroke-width="0.7" />
<line x1="113.36" y1="511.20" x2="115.56" y2="511.20" stroke="#1414f0" stroke-width="0.7" />
<line x1="113.36" y1="525.20" x2="115.56" y2="525.20" stroke="#1414f0" stroke-width="0.7" />
<polyline points="43.90,490.20 49.78,490.20 73.30,499.20 90.94,508.70 114.46,518.20" fill="none" stroke="#1414f0" stroke-width="1.1"/>
<circle cx="43.90" cy="490.20" r="1.5" fill="#1414f0"/>
<circle cx="49.78" cy="490.20" r="1.5" fill="#1414f0"/>
<circle cx="73.30" cy="499.20" r="1.5" fill="#1414f0"/>
<circle cx="90.94" cy="508.70" r="1.5" fill="#1414f0"/>
<circle cx="114.46" cy="518.20" r="1.5" fill="#1414f0"/>
<line x1="43.90" y1="485.50" x2="43.90" y2="495.50" stroke="#111111" stroke-width="0.7" />
<line x1="42.80" y1="485.50" x2="45.00" y2="485.50" stroke="#111111" stroke-width="0.7" />
<line x1="42.80" y1="495.50" x2="45.00" y2="495.50" stroke="#111111" stroke-width="0.7" />
<line x1="49.78" y1="478.90" x2="49.78" y2="486.90" stroke="#111111" stroke-width="0.7" />
<line x1="48.68" y1="478.90" x2="50.88" y2="478.90" stroke="#111111" stroke-width="0.7" />
<line x1="48.68" y1="486.90" x2="50.88" y2="486.90" stroke="#111111" stroke-width="0.7" />
<line x1="73.30" y1="473.70" x2="73.30" y2="481.70" stroke="#111111" stroke-width="0.7" />
<line x1="72.20" y1="473.70" x2="74.40" y2="473.70" stroke="#111111" stroke-width="0.7" />
<line x1="72.20" y1="481.70" x2="74.40" y2="481.70" stroke="#111111" stroke-width="0.7" />
<line x1="90.94" y1="469.40" x2="90.94" y2="477.40" stroke="#111111" stroke-width="0.7" />
<line x1="89.84" y1="469.40" x2="92.04" y2="469.40" stroke="#111111" stroke-width="0.7" />
<line x1="89.84" y1="477.40" x2="92.04" y2="477.40" stroke="#111111" stroke-width="0.7" />
<line x1="114.46" y1="460.60" x2="114.46" y2="468.60" stroke="#111111" stroke-width="0.7" />
<line x1="113.36" y1="460.60" x2="115.56" y2="460.60" stroke="#111111" stroke-width="0.7" />
<line x1="113.36" y1="468.60" x2="115.56" y2="468.60" stroke="#111111" stroke-width="0.7" />
<polyline points="43.90,490.50 49.78,482.90 73.30,477.70 90.94,473.40 114.46,464.60" fill="none" stroke="#111111" stroke-width="1.1"/>
<circle cx="43.90" cy="490.50" r="1.7" fill="#111111"/>
<circle cx="49.78" cy="482.90" r="1.7" fill="#111111"/>
<circle cx="73.30" cy="477.70" r="1.7" fill="#111111"/>
<circle cx="90.94" cy="473.40" r="1.7" fill="#111111"/>
<circle cx="114.46" cy="464.60" r="1.7" fill="#111111"/>
<line x1="120.50" y1="464.20" x2="128.80" y2="464.20" stroke="#111111" stroke-width="1.25" />
<circle cx="124.65" cy="464.20" r="1.45" fill="#111111"/>
<text x="132.60" y="466.61" font-size="6.7" text-anchor="start" >Vehicle</text>
<text x="119.90" y="480.01" font-size="6.7" text-anchor="start" >NVL-655</text>
<line x1="120.50" y1="485.00" x2="128.80" y2="485.00" stroke="#8a8af6" stroke-width="1.25" />
<circle cx="124.65" cy="485.00" r="1.45" fill="#8a8af6"/>
<text x="132.60" y="487.41" font-size="6.7" text-anchor="start" >0.1 mg/kg</text>
<line x1="120.50" y1="492.80" x2="128.80" y2="492.80" stroke="#1414f0" stroke-width="1.25" />
<circle cx="124.65" cy="492.80" r="1.45" fill="#1414f0"/>
<text x="132.60" y="495.21" font-size="6.7" text-anchor="start" >1.5 mg/kg</text>
<text x="119.90" y="507.61" font-size="6.7" text-anchor="start" >Lorlatinib</text>
<line x1="120.50" y1="513.00" x2="128.80" y2="513.00" stroke="#f9a04a" stroke-width="1.25" />
<circle cx="124.65" cy="513.00" r="1.45" fill="#f9a04a"/>
<text x="132.60" y="515.41" font-size="6.7" text-anchor="start" >10 mg/kg</text>
<line x1="120.50" y1="520.40" x2="128.80" y2="520.40" stroke="#f2601c" stroke-width="1.25" />
<circle cx="124.65" cy="520.40" r="1.45" fill="#f2601c"/>
<text x="132.60" y="522.81" font-size="6.7" text-anchor="start" >5 mg/kg</text>
<line x1="209.70" y1="451.30" x2="209.70" y2="528.80" stroke="#333333" stroke-width="0.9" />
<line x1="207.10" y1="451.70" x2="209.70" y2="451.70" stroke="#333333" stroke-width="0.9" />
<text x="204.70" y="454.00" font-size="7.7" text-anchor="end" >2,048</text>
<line x1="207.10" y1="466.06" x2="209.70" y2="466.06" stroke="#333333" stroke-width="0.9" />
<text x="204.70" y="468.36" font-size="7.7" text-anchor="end" >1,024</text>
<line x1="207.10" y1="480.42" x2="209.70" y2="480.42" stroke="#333333" stroke-width="0.9" />
<text x="204.70" y="482.72" font-size="7.7" text-anchor="end" >512</text>
<line x1="207.10" y1="494.78" x2="209.70" y2="494.78" stroke="#333333" stroke-width="0.9" />
<text x="204.70" y="497.08" font-size="7.7" text-anchor="end" >256</text>
<line x1="207.10" y1="509.14" x2="209.70" y2="509.14" stroke="#333333" stroke-width="0.9" />
<text x="204.70" y="511.44" font-size="7.7" text-anchor="end" >128</text>
<line x1="207.10" y1="523.50" x2="209.70" y2="523.50" stroke="#333333" stroke-width="0.9" />
<text x="204.70" y="525.80" font-size="7.7" text-anchor="end" >64</text>
<line x1="209.70" y1="528.30" x2="286.50" y2="528.30" stroke="#333333" stroke-width="0.9" />
<line x1="213.50" y1="528.30" x2="213.50" y2="530.90" stroke="#333333" stroke-width="0.9" />
<text x="213.50" y="539.10" font-size="7.7" text-anchor="middle" >0</text>
<line x1="245.28" y1="528.30" x2="245.28" y2="530.90" stroke="#333333" stroke-width="0.9" />
<text x="245.28" y="539.10" font-size="7.7" text-anchor="middle" >7</text>
<line x1="277.06" y1="528.30" x2="277.06" y2="530.90" stroke="#333333" stroke-width="0.9" />
<text x="277.06" y="539.10" font-size="7.7" text-anchor="middle" >14</text>
<text x="246.50" y="549.10" font-size="7.6" text-anchor="middle" >Days on treatment</text>
<text transform="translate(180.90,487.30) rotate(-90)" font-size="7.6" text-anchor="middle">Tumor volume (mm<tspan font-size="4.6" dy="-2.8">3</tspan><tspan dy="2.8">)</tspan></text>
<text x="248.30" y="429.60" font-size="7.65" text-anchor="middle" >Ba/F3</text>
<text x="248.30" y="439.00" font-size="7.65" text-anchor="middle" ><tspan font-style="italic">EML4-ALK</tspan> v1 G1202R/G1269A</text>
<line x1="209.70" y1="504.50" x2="285.80" y2="504.50" stroke="#cccccc" stroke-width="0.8" />
<line x1="222.58" y1="501.30" x2="222.58" y2="503.30" stroke="#b9b9fb" stroke-width="0.7" />
<line x1="221.48" y1="501.30" x2="223.68" y2="501.30" stroke="#b9b9fb" stroke-width="0.7" />
<line x1="221.48" y1="503.30" x2="223.68" y2="503.30" stroke="#b9b9fb" stroke-width="0.7" />
<line x1="236.20" y1="497.00" x2="236.20" y2="499.00" stroke="#b9b9fb" stroke-width="0.7" />
<line x1="235.10" y1="497.00" x2="237.30" y2="497.00" stroke="#b9b9fb" stroke-width="0.7" />
<line x1="235.10" y1="499.00" x2="237.30" y2="499.00" stroke="#b9b9fb" stroke-width="0.7" />
<line x1="245.28" y1="488.50" x2="245.28" y2="490.50" stroke="#b9b9fb" stroke-width="0.7" />
<line x1="244.18" y1="488.50" x2="246.38" y2="488.50" stroke="#b9b9fb" stroke-width="0.7" />
<line x1="244.18" y1="490.50" x2="246.38" y2="490.50" stroke="#b9b9fb" stroke-width="0.7" />
<line x1="254.36" y1="485.10" x2="254.36" y2="487.10" stroke="#b9b9fb" stroke-width="0.7" />
<line x1="253.26" y1="485.10" x2="255.46" y2="485.10" stroke="#b9b9fb" stroke-width="0.7" />
<line x1="253.26" y1="487.10" x2="255.46" y2="487.10" stroke="#b9b9fb" stroke-width="0.7" />
<line x1="267.98" y1="477.40" x2="267.98" y2="479.40" stroke="#b9b9fb" stroke-width="0.7" />
<line x1="266.88" y1="477.40" x2="269.08" y2="477.40" stroke="#b9b9fb" stroke-width="0.7" />
<line x1="266.88" y1="479.40" x2="269.08" y2="479.40" stroke="#b9b9fb" stroke-width="0.7" />
<line x1="277.06" y1="474.00" x2="277.06" y2="476.00" stroke="#b9b9fb" stroke-width="0.7" />
<line x1="275.96" y1="474.00" x2="278.16" y2="474.00" stroke="#b9b9fb" stroke-width="0.7" />
<line x1="275.96" y1="476.00" x2="278.16" y2="476.00" stroke="#b9b9fb" stroke-width="0.7" />
<polyline points="213.50,504.50 222.58,502.30 236.20,498.00 245.28,489.50 254.36,486.10 267.98,478.40 277.06,475.00" fill="none" stroke="#b9b9fb" stroke-width="1.1"/>
<circle cx="213.50" cy="504.50" r="1.5" fill="#b9b9fb"/>
<circle cx="222.58" cy="502.30" r="1.5" fill="#b9b9fb"/>
<circle cx="236.20" cy="498.00" r="1.5" fill="#b9b9fb"/>
<circle cx="245.28" cy="489.50" r="1.5" fill="#b9b9fb"/>
<circle cx="254.36" cy="486.10" r="1.5" fill="#b9b9fb"/>
<circle cx="267.98" cy="478.40" r="1.5" fill="#b9b9fb"/>
<circle cx="277.06" cy="475.00" r="1.5" fill="#b9b9fb"/>
<line x1="222.58" y1="503.50" x2="222.58" y2="505.50" stroke="#f2601c" stroke-width="0.7" />
<line x1="221.48" y1="503.50" x2="223.68" y2="503.50" stroke="#f2601c" stroke-width="0.7" />
<line x1="221.48" y1="505.50" x2="223.68" y2="505.50" stroke="#f2601c" stroke-width="0.7" />
<line x1="236.20" y1="499.60" x2="236.20" y2="502.60" stroke="#f2601c" stroke-width="0.7" />
<line x1="235.10" y1="499.60" x2="237.30" y2="499.60" stroke="#f2601c" stroke-width="0.7" />
<line x1="235.10" y1="502.60" x2="237.30" y2="502.60" stroke="#f2601c" stroke-width="0.7" />
<line x1="245.28" y1="495.20" x2="245.28" y2="499.20" stroke="#f2601c" stroke-width="0.7" />
<line x1="244.18" y1="495.20" x2="246.38" y2="495.20" stroke="#f2601c" stroke-width="0.7" />
<line x1="244.18" y1="499.20" x2="246.38" y2="499.20" stroke="#f2601c" stroke-width="0.7" />
<line x1="254.36" y1="494.00" x2="254.36" y2="498.00" stroke="#f2601c" stroke-width="0.7" />
<line x1="253.26" y1="494.00" x2="255.46" y2="494.00" stroke="#f2601c" stroke-width="0.7" />
<line x1="253.26" y1="498.00" x2="255.46" y2="498.00" stroke="#f2601c" stroke-width="0.7" />
<line x1="267.98" y1="485.80" x2="267.98" y2="489.80" stroke="#f2601c" stroke-width="0.7" />
<line x1="266.88" y1="485.80" x2="269.08" y2="485.80" stroke="#f2601c" stroke-width="0.7" />
<line x1="266.88" y1="489.80" x2="269.08" y2="489.80" stroke="#f2601c" stroke-width="0.7" />
<line x1="277.06" y1="479.70" x2="277.06" y2="485.70" stroke="#f2601c" stroke-width="0.7" />
<line x1="275.96" y1="479.70" x2="278.16" y2="479.70" stroke="#f2601c" stroke-width="0.7" />
<line x1="275.96" y1="485.70" x2="278.16" y2="485.70" stroke="#f2601c" stroke-width="0.7" />
<polyline points="213.50,504.50 222.58,504.50 236.20,501.10 245.28,497.20 254.36,496.00 267.98,487.80 277.06,482.70" fill="none" stroke="#f2601c" stroke-width="1.1"/>
<circle cx="213.50" cy="504.50" r="1.5" fill="#f2601c"/>
<circle cx="222.58" cy="504.50" r="1.5" fill="#f2601c"/>
<circle cx="236.20" cy="501.10" r="1.5" fill="#f2601c"/>
<circle cx="245.28" cy="497.20" r="1.5" fill="#f2601c"/>
<circle cx="254.36" cy="496.00" r="1.5" fill="#f2601c"/>
<circle cx="267.98" cy="487.80" r="1.5" fill="#f2601c"/>
<circle cx="277.06" cy="482.70" r="1.5" fill="#f2601c"/>
<line x1="222.58" y1="504.70" x2="222.58" y2="506.70" stroke="#4b4bf3" stroke-width="0.7" />
<line x1="221.48" y1="504.70" x2="223.68" y2="504.70" stroke="#4b4bf3" stroke-width="0.7" />
<line x1="221.48" y1="506.70" x2="223.68" y2="506.70" stroke="#4b4bf3" stroke-width="0.7" />
<line x1="236.20" y1="502.20" x2="236.20" y2="504.20" stroke="#4b4bf3" stroke-width="0.7" />
<line x1="235.10" y1="502.20" x2="237.30" y2="502.20" stroke="#4b4bf3" stroke-width="0.7" />
<line x1="235.10" y1="504.20" x2="237.30" y2="504.20" stroke="#4b4bf3" stroke-width="0.7" />
<line x1="245.28" y1="498.40" x2="245.28" y2="500.40" stroke="#4b4bf3" stroke-width="0.7" />
<line x1="244.18" y1="498.40" x2="246.38" y2="498.40" stroke="#4b4bf3" stroke-width="0.7" />
<line x1="244.18" y1="500.40" x2="246.38" y2="500.40" stroke="#4b4bf3" stroke-width="0.7" />
<line x1="254.36" y1="496.20" x2="254.36" y2="498.20" stroke="#4b4bf3" stroke-width="0.7" />
<line x1="253.26" y1="496.20" x2="255.46" y2="496.20" stroke="#4b4bf3" stroke-width="0.7" />
<line x1="253.26" y1="498.20" x2="255.46" y2="498.20" stroke="#4b4bf3" stroke-width="0.7" />
<line x1="267.98" y1="489.70" x2="267.98" y2="491.70" stroke="#4b4bf3" stroke-width="0.7" />
<line x1="266.88" y1="489.70" x2="269.08" y2="489.70" stroke="#4b4bf3" stroke-width="0.7" />
<line x1="266.88" y1="491.70" x2="269.08" y2="491.70" stroke="#4b4bf3" stroke-width="0.7" />
<line x1="277.06" y1="479.80" x2="277.06" y2="483.80" stroke="#4b4bf3" stroke-width="0.7" />
<line x1="275.96" y1="479.80" x2="278.16" y2="479.80" stroke="#4b4bf3" stroke-width="0.7" />
<line x1="275.96" y1="483.80" x2="278.16" y2="483.80" stroke="#4b4bf3" stroke-width="0.7" />
<polyline points="213.50,504.50 222.58,505.70 236.20,503.20 245.28,499.40 254.36,497.20 267.98,490.70 277.06,481.80" fill="none" stroke="#4b4bf3" stroke-width="1.1"/>
<circle cx="213.50" cy="504.50" r="1.5" fill="#4b4bf3"/>
<circle cx="222.58" cy="505.70" r="1.5" fill="#4b4bf3"/>
<circle cx="236.20" cy="503.20" r="1.5" fill="#4b4bf3"/>
<circle cx="245.28" cy="499.40" r="1.5" fill="#4b4bf3"/>
<circle cx="254.36" cy="497.20" r="1.5" fill="#4b4bf3"/>
<circle cx="267.98" cy="490.70" r="1.5" fill="#4b4bf3"/>
<circle cx="277.06" cy="481.80" r="1.5" fill="#4b4bf3"/>
<line x1="222.58" y1="507.80" x2="222.58" y2="509.80" stroke="#14149a" stroke-width="0.7" />
<line x1="221.48" y1="507.80" x2="223.68" y2="507.80" stroke="#14149a" stroke-width="0.7" />
<line x1="221.48" y1="509.80" x2="223.68" y2="509.80" stroke="#14149a" stroke-width="0.7" />
<line x1="236.20" y1="510.70" x2="236.20" y2="512.70" stroke="#14149a" stroke-width="0.7" />
<line x1="235.10" y1="510.70" x2="237.30" y2="510.70" stroke="#14149a" stroke-width="0.7" />
<line x1="235.10" y1="512.70" x2="237.30" y2="512.70" stroke="#14149a" stroke-width="0.7" />
<line x1="245.28" y1="506.80" x2="245.28" y2="509.80" stroke="#14149a" stroke-width="0.7" />
<line x1="244.18" y1="506.80" x2="246.38" y2="506.80" stroke="#14149a" stroke-width="0.7" />
<line x1="244.18" y1="509.80" x2="246.38" y2="509.80" stroke="#14149a" stroke-width="0.7" />
<line x1="254.36" y1="512.20" x2="254.36" y2="515.20" stroke="#14149a" stroke-width="0.7" />
<line x1="253.26" y1="512.20" x2="255.46" y2="512.20" stroke="#14149a" stroke-width="0.7" />
<line x1="253.26" y1="515.20" x2="255.46" y2="515.20" stroke="#14149a" stroke-width="0.7" />
<line x1="267.98" y1="512.60" x2="267.98" y2="516.60" stroke="#14149a" stroke-width="0.7" />
<line x1="266.88" y1="512.60" x2="269.08" y2="512.60" stroke="#14149a" stroke-width="0.7" />
<line x1="266.88" y1="516.60" x2="269.08" y2="516.60" stroke="#14149a" stroke-width="0.7" />
<line x1="277.06" y1="514.50" x2="277.06" y2="518.50" stroke="#14149a" stroke-width="0.7" />
<line x1="275.96" y1="514.50" x2="278.16" y2="514.50" stroke="#14149a" stroke-width="0.7" />
<line x1="275.96" y1="518.50" x2="278.16" y2="518.50" stroke="#14149a" stroke-width="0.7" />
<polyline points="213.50,504.50 222.58,508.80 236.20,511.70 245.28,508.30 254.36,513.70 267.98,514.60 277.06,516.50" fill="none" stroke="#14149a" stroke-width="1.1"/>
<circle cx="213.50" cy="504.50" r="1.5" fill="#14149a"/>
<circle cx="222.58" cy="508.80" r="1.5" fill="#14149a"/>
<circle cx="236.20" cy="511.70" r="1.5" fill="#14149a"/>
<circle cx="245.28" cy="508.30" r="1.5" fill="#14149a"/>
<circle cx="254.36" cy="513.70" r="1.5" fill="#14149a"/>
<circle cx="267.98" cy="514.60" r="1.5" fill="#14149a"/>
<circle cx="277.06" cy="516.50" r="1.5" fill="#14149a"/>
<line x1="222.58" y1="500.10" x2="222.58" y2="501.10" stroke="#111111" stroke-width="0.7" />
<line x1="221.48" y1="500.10" x2="223.68" y2="500.10" stroke="#111111" stroke-width="0.7" />
<line x1="221.48" y1="501.10" x2="223.68" y2="501.10" stroke="#111111" stroke-width="0.7" />
<line x1="236.20" y1="492.60" x2="236.20" y2="496.60" stroke="#111111" stroke-width="0.7" />
<line x1="235.10" y1="492.60" x2="237.30" y2="492.60" stroke="#111111" stroke-width="0.7" />
<line x1="235.10" y1="496.60" x2="237.30" y2="496.60" stroke="#111111" stroke-width="0.7" />
<line x1="245.28" y1="484.80" x2="245.28" y2="489.80" stroke="#111111" stroke-width="0.7" />
<line x1="244.18" y1="484.80" x2="246.38" y2="484.80" stroke="#111111" stroke-width="0.7" />
<line x1="244.18" y1="489.80" x2="246.38" y2="489.80" stroke="#111111" stroke-width="0.7" />
<line x1="254.36" y1="482.40" x2="254.36" y2="486.40" stroke="#111111" stroke-width="0.7" />
<line x1="253.26" y1="482.40" x2="255.46" y2="482.40" stroke="#111111" stroke-width="0.7" />
<line x1="253.26" y1="486.40" x2="255.46" y2="486.40" stroke="#111111" stroke-width="0.7" />
<line x1="267.98" y1="475.20" x2="267.98" y2="479.20" stroke="#111111" stroke-width="0.7" />
<line x1="266.88" y1="475.20" x2="269.08" y2="475.20" stroke="#111111" stroke-width="0.7" />
<line x1="266.88" y1="479.20" x2="269.08" y2="479.20" stroke="#111111" stroke-width="0.7" />
<line x1="277.06" y1="469.60" x2="277.06" y2="473.60" stroke="#111111" stroke-width="0.7" />
<line x1="275.96" y1="469.60" x2="278.16" y2="469.60" stroke="#111111" stroke-width="0.7" />
<line x1="275.96" y1="473.60" x2="278.16" y2="473.60" stroke="#111111" stroke-width="0.7" />
<polyline points="213.50,504.50 222.58,500.60 236.20,494.60 245.28,487.30 254.36,484.40 267.98,477.20 277.06,471.60" fill="none" stroke="#111111" stroke-width="1.1"/>
<circle cx="213.50" cy="504.50" r="1.7" fill="#111111"/>
<circle cx="222.58" cy="500.60" r="1.7" fill="#111111"/>
<circle cx="236.20" cy="494.60" r="1.7" fill="#111111"/>
<circle cx="245.28" cy="487.30" r="1.7" fill="#111111"/>
<circle cx="254.36" cy="484.40" r="1.7" fill="#111111"/>
<circle cx="267.98" cy="477.20" r="1.7" fill="#111111"/>
<circle cx="277.06" cy="471.60" r="1.7" fill="#111111"/>
<line x1="291.50" y1="462.30" x2="299.10" y2="462.30" stroke="#111111" stroke-width="1.25" />
<circle cx="295.30" cy="462.30" r="1.45" fill="#111111"/>
<text x="303.60" y="464.71" font-size="6.7" text-anchor="start" >Vehicle</text>
<text x="289.80" y="478.11" font-size="6.7" text-anchor="start" >NVL-655</text>
<line x1="291.50" y1="483.70" x2="299.10" y2="483.70" stroke="#b9b9fb" stroke-width="1.25" />
<circle cx="295.30" cy="483.70" r="1.45" fill="#b9b9fb"/>
<text x="303.60" y="486.11" font-size="6.7" text-anchor="start" >0.06 mg/kg</text>
<line x1="291.50" y1="491.30" x2="299.10" y2="491.30" stroke="#4b4bf3" stroke-width="1.25" />
<circle cx="295.30" cy="491.30" r="1.45" fill="#4b4bf3"/>
<text x="303.60" y="493.71" font-size="6.7" text-anchor="start" >0.3 mg/kg</text>
<line x1="291.50" y1="498.60" x2="299.10" y2="498.60" stroke="#14149a" stroke-width="1.25" />
<circle cx="295.30" cy="498.60" r="1.45" fill="#14149a"/>
<text x="303.60" y="501.01" font-size="6.7" text-anchor="start" >1 mg/kg</text>
<text x="289.80" y="514.81" font-size="6.7" text-anchor="start" >Lorlatinib</text>
<line x1="291.50" y1="520.70" x2="299.10" y2="520.70" stroke="#f2601c" stroke-width="1.25" />
<circle cx="295.30" cy="520.70" r="1.45" fill="#f2601c"/>
<text x="303.60" y="523.11" font-size="6.7" text-anchor="start" >5 mg/kg</text>
<text x="2.70" y="9.00" font-size="10.5" text-anchor="start" font-weight="bold">A</text>
<text x="2.70" y="148.90" font-size="10.5" text-anchor="start" font-weight="bold">B</text>
<text x="340.10" y="148.70" font-size="10.5" text-anchor="start" font-weight="bold">C</text>
<text x="2.70" y="287.40" font-size="10.5" text-anchor="start" font-weight="bold">D</text>
<line x1="505.90" y1="0.00" x2="505.90" y2="121.80" stroke="#000000" stroke-width="2.0" />
<text transform="translate(513.7,61.50) rotate(90)" font-size="7.6" text-anchor="middle">ALK WT kinase domain</text>
<line x1="505.90" y1="139.90" x2="505.90" y2="262.00" stroke="#000000" stroke-width="2.0" />
<text transform="translate(513.7,199.50) rotate(90)" font-size="7.6" text-anchor="middle">ALK with single mutations</text>
<line x1="505.90" y1="284.90" x2="505.90" y2="532.50" stroke="#000000" stroke-width="2.0" />
<text transform="translate(513.7,418.70) rotate(90)" font-size="7.6" text-anchor="middle">ALK with compound mutations</text>
</svg>
</body></html>
